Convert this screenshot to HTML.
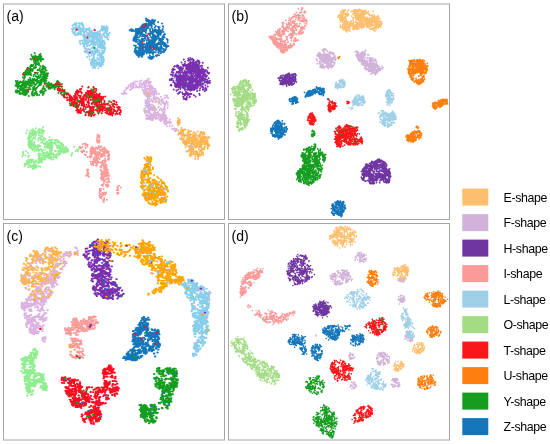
<!DOCTYPE html>
<html><head><meta charset="utf-8"><title>t-SNE</title>
<style>
html,body{margin:0;padding:0;background:#fff}
svg{display:block}
text{font-family:"Liberation Sans",sans-serif;fill:#111}
.lg text{font-size:12.4px;letter-spacing:-0.38px;fill:#000}
.lb text{font-size:14px;fill:#000}
.fr rect{fill:#fff;stroke:#a6a6a6;stroke-width:1}
</style></head><body>
<svg width="550" height="444" viewBox="0 0 550 444">
<rect width="550" height="444" fill="#fff"/>
<g class="fr">
<rect x="3.5" y="4" width="221" height="215.5"/>
<rect x="228.5" y="4" width="221" height="215.5"/>
<rect x="3.5" y="223.5" width="221" height="216.5"/>
<rect x="228.5" y="223.5" width="221" height="216.5"/>
</g>
<g transform="scale(0.1)" fill="none" stroke-linecap="round">
<g stroke-width="20">
<path stroke="#87ceeb" d="m764 303h0m-15-68h0m77 54h0m-63-35h0m-21 70h0m99 8h0m-27-88h0m-83 49h0m21-44h0m80 20h0m-49 74h0m35-114h0m15 31h0m-39-25h0m-35 118h0m-39-66h0m74 53h0m-17-58h0m-54 35h0m95-84h0m14 32h0m-11-37h0m-102 63h0m34 58h0m-23-47h0m58-3h0m8-31h0m-49 16h0m-13-8h0m38 5h0m56 10h0m-7-63h0m-15 51h0m2 34h0m-36 21h0m-46-50h0m83 62h0m-1-64h0m-46-44h0m67 10h0m-50 29h0m7-44h0m0 93h0m3-35h0m12-16h0m-30 3h0m-34-32h0m71-9h0m-21 104h0m-25-112h0m-3 59h0m68-34h0m-14-14h0m-78 96h0m102-12h0m-68-23h0m14-34h0m-47 26h0m11-50h0m56 57h0m-78-44h0m39-11h0m22 33h0m-3 71h0m2-24h0m-25 24h0m44-69h0m-42-37h0m80 41h0m-118 8h0m67-38h0m-36 18h0m28 75h0m-38-7h0m70-92h0m-62 68h0m46-42h0m28 37h0m-10-17h0m12-32h0m15 54h0m0 9h0m-41-1h0m-14-3h0m-41 7h0m325-55h0m-16 40h0m16-3h0m-28-6h0m26 29h0m-6-3h0m-5-17h0m17-35h0m-41 56h0m34 14h0m-53-86h0m29 41h0m3-23h0m33 69h0m-41 9h0m-17-51h0m13-21h0m22 84h0m7 5h0m30-44h0m-76-59h0m5 24h0m24 73h0m27-77h0m-41 3h0m3 52h0m13-37h0m37 45h0m-67-69h0m35-1h0m-38 2h0m54 93h0m-17-84h0m7-19h0m-34-10h0m32 55h0m-62-9h0m66-50h0m-22 9h0m8 55h0m23 57h0m-3-26h0m-26-51h0m41 88h0m-5-54h0m-45-57h0m-29 19h0m66 44h0m-47-1h0m19-44h0m17 6h0m-29-19h0m24 7h0m24 54h0m-38-85h0m2 22h0m30 88h0m-64 71h0m-42-91h0m-33-12h0m4 22h0m-17 65h0m74-36h0m-85-65h0m89 10h0m17 83h0m-85-82h0m-40 40h0m25 21h0m-23-74h0m-18 31h0m136 92h0m-118-91h0m93 28h0m-135-34h0m-51 58h0m7-106h0m127 142h0m64 13h0m-85-45h0m136 23h0m-123-3h0m-88-81h0m174 112h0m-64-123h0m-16 73h0m71 52h0m-87-53h0m88 11h0m-67 7h0m-104-31h0m107-16h0m-53-17h0m145 42h0m-90-115h0m-96 71h0m78 3h0m-77 22h0m114-56h0m-2 85h0m-63-94h0m5 81h0m118 27h0m-112-19h0m-44 14h0m26-68h0m-46-26h0m55-45h0m-92 9h0m156 113h0m59-14h0m14 84h0m-189-132h0m83 95h0m38 54h0m-62-132h0m10-14h0m-75 99h0m112 33h0m21 30h0m30-61h0m-71-128h0m-39-2h0m117 55h0m-11 63h0m-84 37h0m120-20h0m-93-29h0m-37-32h0m-13-31h0m150 112h0m-192-50h0m128-105h0m-24 100h0m-2 20h0m70 63h0m-49 1h0m-18-133h0m33 96h0m-14-20h0m-79-43h0m132 42h0m-38-106h0m26 83h0m-45 9h0m-75-128h0m7 93h0m-39-96h0m3 97h0m-54-90h0m83 105h0m96-24h0m-23-60h0m-34 83h0m85 33h0m-169-66h0m24-35h0m42-24h0m-25 50h0m69-9h0m-5 21h0m-54 69h0m96-122h0m-62 100h0m-18-1h0m-48-82h0m146 86h0m-160-35h0m93 24h0m-66-37h0m139 43h0m-43-56h0m74 105h0m-77-81h0m-37 4h0m30-61h0m75 136h0m-238-40h0m133 39h0m-23-116h0m66-12h0m-8 151h0m-52-135h0m-74 58h0m189-15h0m-227-86h0m200 153h0m-72-72h0m87 42h0m-98-38h0m37-16h0m-135 35h0m146-80h0m-21 152h0m13-127h0m52 0h0m-222 45h0m207 49h0m-3-67h0m-110-116h0m-13 81h0m39 76h0m-6 1h0m134 68h0m-81-169h0m-161 95h0m116-127h0m-45 23h0m61 32h0m17 17h0m-95-1h0m-9 28h0m8-110h0m94 159h0m-95-93h0m121-18h0m-58 61h0m-44-27h0m9 48h0m19-60h0m90 47h0m10-79h0m30 82h0m-201-112h0m207 105h0m-59-92h0m62 97h0m-106 31h0m52-67h0m-81-36h0m58 38h0m-41 3h0m102 98h0m-152-128h0m61 51h0m82 34h0m-72 52h0m16-118h0m-93-86h0m-10 68h0m47-16h0m64 55h0m-12-51h0m49 16h0m-149-48h0m-4 71h0m84-21h0m23-14h0m87 124h0m-219-35h0m151 68h0m-173-61h0m182 74h0m-79-111h0m138 18h0m-32-4h0m-31-16h0m-70-44h0m10 68h0m26-81h0m-67 107h0m-8-98h0m-2 38h0m103-68h0m-55 95h0m-108-92h0m130 1h0m-12 137h0m70-71h0m-15 119h0m-104-155h0m-20 76h0m94-64h0m-116 71h0m73-128h0m-22 34h0m48 88h0m-34-100h0m26 71h0m117 88h0m-69-120h0m-133-8h0m141 30h0m37 111h0m-143-98h0m-50-57h0m190 52h0m-8 33h0m-61-58h0m41 55h0m36-12h0m9 32h0m-159-65h0m59 35h0m-99-57h0m155-21h0m-35 138h0m-90-44h0m39-27h0m-28-81h0m70 18h0m62 133h0m-179-80h0m36 26h0m51-18h0m-33 43h0m0-156h0m141 148h0m-6-1h0m-80-53h0m-91-27h0m76-38h0m32-4h0m-10 51h0m15-31h0m-93 117h0m125-100h0m-148-5h0m-11 105h0m200 16h0m13 11h0m-13-68h0m-21 38h0m-6 9h0m20 49h0m-76 6h0m-118-148h0m96 51h0m-73 3h0m112 82h0m-20-55h0m-85-29h0m116 40h0m-19-77h0m-98-11h0m50-6h0m62 134h0m28-32h0m-32-78h0m-53-60h0m-44-44h0m-24 71h0m172 14h0m14 86h0m-181-46h0m107 99h0m61-50h0m-203-165h0m122-5h0m-117 55h0m43 70h0m71-12h0m105 33h0m-108-70h0m58-17h0m-148 88h0m88-97h0m-94 4h0m144 161h0m-62-109h0m-48-42h0m80-5h0m53 27h0m-17 65h0m2-64h0m-140-12h0m123 49h0m-81-54h0m149 135h0m-173-211h0m39 67h0m-49-63h0m-16 173h0m98-47h0m39 51h0m0 36h0m-43-210h0m-85-4h0m119 199h0m-77-143h0m-77 54h0m113 76h0m52-139h0m-96 13h0m-13 171h0m9-6h0m6 3h0m44-4h0m-49 27h0m40-37h0m-16 8h0m-47-5h0m32 54h0m-47-87h0m68 77h0m-43 14h0m31-75h0m-6 100h0m-34-77h0m-15-33h0m42 13h0m-22 11h0m49 28h0m-59-10h0m59-9h0m3 0h0m0 15h0m-70-22h0m-4 6h0m43-24h0m27 25h0m-50-14h0m-8-15h0m58 35h0m-57-36h0m150 63h0m-78 102h0m67-85h0m-86 51h0m40 18h0m40-3h0m16 28h0m-45-19h0m11-67h0m4-26h0m33-2h0m-27 94h0m17 6h0m-65-86h0m-26 75h0m21-18h0m15 48h0m11-148h0m71 92h0m9-22h0m-42-47h0m-47-8h0m53 120h0m-14-64h0m33-37h0m-37 85h0m35-67h0m-44-46h0m21 137h0m-50-117h0m84 83h0m-83-16h0m11-1h0m0-96h0m-2 88h0m-38 6h0m86 37h0m-5 6h0m-86 3h0m89 5h0m-49-52h0m88-5h0m-58-10h0m-13-79h0m25 37h0m-51 121h0m73-85h0m-67 56h0m-26-2h0m45-117h0m25 80h0m37-19h0m-109 5h0m17 40h0m59-97h0m26-9h0m-9 112h0m4-54h0m-5-11h0m10 2h0m2-5h0m14-40h0m-97 82h0m-3 16h0m-4 48h0m93-142h0m-14 72h0m21-76h0m-29 99h0m-66-33h0m44 89h0m30-46h0m-86-22h0m28-9h0m-29 73h0m76-33h0m-57-106h0m-9 1h0m38 50h0m-36 71h0m85-17h0m-111-19h0m29-52h0m48 52h0m-59-40h0m19 96h0m-7-105h0m68 3h0m18-52h0m-73-26h0m53 83h0m23-15h0m-66 89h0m50-41h0m16-82h0m3 89h0m-28 25h0m-39-17h0m-41 19h0m12-51h0m-13 38h0m56 7h0m54-125h0m-63 107h0m-63 6h0m93 15h0m25-26h0m-88 34h0m3-141h0m48 118h0m20 30h0m17-16h0m-72-116h0m22-10h0m-10 107h0m46-61h0m-65 100h0m21-51h0m-19-6h0m-34-1h0m79 18h0m16-98h0m-78 72h0"/>
<path stroke="#149d1f" d="m198 932h0m163-10h0m67-148h0m26 12h0m-1 118h0m-81-107h0m-84 162h0m53-287h0m72-106h0m-117 233h0m-2-63h0m-4-19h0m136-46h0m-92 145h0m-104 38h0m40 65h0m134-360h0m164 290h0m-235 103h0m-102-107h0m36 98h0m111-132h0m90-78h0m-82 80h0m133 54h0m-172-336h0m-36 168h0m-48 33h0m219 124h0m-227 20h0m6-155h0m61 230h0m198-105h0m-197 98h0m53-177h0m-72-78h0m200 198h0m-58-174h0m-110-144h0m-112 251h0m354-10h0m-319 5h0m-92 19h0m232-151h0m-79 147h0m112 47h0m-133-28h0m119-262h0m15 5h0m-227 266h0m106-33h0m-114 63h0m197-48h0m-71-181h0m-100 179h0m128 46h0m-102-126h0m154-14h0m-39 24h0m-119 75h0m213 63h0m-138 31h0m-88-128h0m38-81h0m165 63h0m-254 42h0m173 104h0m161-86h0m-99-156h0m-244 168h0m172 66h0m139-87h0m-277 97h0m28-135h0m140-105h0m-21 206h0m-28-111h0m-125 22h0m86-128h0m17 44h0m208 133h0m-247 63h0m163 21h0m-259-43h0m78-28h0m161-265h0m-63 257h0m103-71h0m8 2h0m-96 137h0m-135-3h0m104-21h0m-20-107h0m120-4h0m149 51h0m-225-187h0m237 157h0m-319-76h0m218 113h0m-20-78h0m-202 158h0m-21-175h0m100-22h0m37-99h0m-55 180h0m11-33h0m-16 126h0m-130 19h0m241-213h0m-106-144h0m-86 289h0m-20-43h0m55-127h0m266 177h0m-74-44h0m-112 57h0m-48-33h0m8-262h0m33 0h0m-112 285h0m293-10h0m-188-299h0m138 165h0m-81 98h0m33-88h0m-174 91h0m163-249h0m-140 153h0m272 129h0m-202-67h0m47-29h0m48 111h0m-107 71h0m-61-234h0m24 81h0m124-91h0m-84 80h0m98-105h0m-82-32h0m6-31h0m90 121h0m-114-158h0m226 264h0m-246-285h0m19 17h0m-1 305h0m112-72h0m-187 105h0m33-49h0m250-3h0m-250-151h0m95-78h0m202 220h0m-346-29h0m128-237h0m-115 339h0m78-350h0m-25-35h0m31 134h0m124 186h0m-45-74h0m-117-135h0m268 166h0m-231-196h0m-181 235h0m210-278h0m79 206h0m-203-19h0m-19 1h0m213 30h0m-156 48h0m-113 57h0m152-105h0m-95 138h0m66-195h0m131 36h0m-236 135h0m83-80h0m117 13h0m8-259h0m-140 155h0m185 22h0m87 86h0m-106-48h0m16-71h0m-106 28h0m25 47h0m-89-64h0m171-76h0m-116 27h0m172 153h0m-191-154h0m-40 219h0m72-80h0m-139 28h0m36 58h0m87 14h0m-112-61h0m276-21h0m1-11h0m-231-133h0m115 70h0m-16-167h0m63-20h0m-64 65h0m-124 261h0m73-327h0m33-12h0m-105 366h0m185-208h0m-90 211h0m4-297h0m-74 70h0m44-53h0m-145 252h0m67-89h0m-47 8h0m347 38h0m-130-172h0m-76 153h0m-140-2h0m159-45h0m98 50h0m-260-19h0m70-98h0m218 115h0m-277-9h0m325-13h0m-270-50h0m117-163h0m-1-53h0m-92 297h0m-57-48h0m20 67h0m304-14h0m-298 26h0m120-297h0m161 246h0m-172-21h0m-18-118h0m-138 132h0m142-14h0m-47-136h0m6 109h0m35 53h0m-39-56h0m171-50h0m-181 93h0m324 15h0m-211-259h0m-68 220h0m-139 58h0m201-307h0m-118 136h0m119-128h0m153 293h0m-181-275h0m-158 237h0m214 94h0m85-92h0m-333 18h0m127-32h0m-38 109h0m40-96h0m45-240h0m125 191h0m-136-75h0m-61 139h0m136 5h0m-101-146h0m81-116h0m-58 105h0m-23 85h0m111 128h0m-2-145h0m-50 131h0m238-43h0m-324-30h0m91-180h0m-14 87h0m79-29h0m-144-12h0m169 104h0m-5-19h0m-165-28h0m-6 5h0m-96 94h0m38 5h0m-30 63h0m42-2h0m157-148h0m198 108h0m-409-42h0m75-12h0m171 114h0m7-163h0m-132 35h0m271 16h0m-160 31h0m47-55h0m-203-71h0m154 89h0m-71-240h0m49 0h0m-44 26h0m29 131h0m-139 206h0m50-251h0m94 61h0m-134 203h0m179-238h0m-54-131h0m-53 175h0m-91 107h0m186 69h0m32-12h0m2-245h0m-163 252h0m54-230h0m22 108h0m-128 51h0m313-4h0m-175 73h0m-63-67h0m-4-164h0m28 13h0m149 56h0m-265 135h0m255-60h0m-211-109h0m106 74h0m-5 51h0m-132 62h0m-45-54h0m263 32h0m-150 0h0m-7-72h0m22-160h0m-9 78h0m119-7h0m-196 163h0m73-167h0m47 23h0m-165 63h0m254-93h0m-84-83h0m46 191h0m-88-128h0m-84 195h0m44-188h0m124-8h0m-150 34h0m168-69h0m-152 201h0m131-3h0m35-76h0m-238 128h0m-8 2h0m314-89h0m-130-224h0m48-61h0m-78 279h0m-122 83h0m97-183h0m-14 109h0m70-233h0m57 1h0m-124 221h0m96-191h0m57 131h0m-114 124h0m132-122h0m-124 136h0m79-311h0m-52 30h0m-108 198h0m-23 126h0m94 6h0m185-109h0m-135-28h0m-131-73h0m99 57h0m122 46h0m-220 62h0m182-242h0m55 211h0m-142-286h0m108 100h0m17 186h0m-164-146h0m57-122h0m78 160h0m57 91h0m-52-31h0m-40 18h0m-204-10h0m126-37h0m-47 54h0m255 18h0m-85-25h0m-126 117h0m-140-40h0m237-212h0m-260 202h0m211-264h0m139 234h0m-299-8h0m29-10h0m194-135h0m-148 97h0m161-22h0m-81 41h0m-72-126h0m168 42h0m-7-77h0m31 210h0m-142-307h0m105 193h0m-139-114h0m-79 79h0m42-51h0m-57 176h0m66-51h0m67-223h0m67 240h0m-192 54h0m177 35h0m51-229h0m-5 140h0m-139-127h0m80-51h0m66 151h0m-276 79h0m79-55h0m56-3h0m181 35h0m-285 30h0m31-48h0m285 28h0m-165-192h0m-82 163h0m175-143h0m-259 161h0m218-140h0m6-16h0m-46 240h0m121-60h0m-28-177h0m-191 123h0m93 121h0m-193-43h0m105-6h0m193-148h0m-261 109h0m51-8h0m146-279h0m188 256h0m-232-262h0m161 311h0m-172-323h0m48 275h0m-177 5h0m-18 35h0m-29-29h0m-13 12h0m269-169h0m-238 244h0m195-160h0m-90 81h0m-17-162h0m165 63h0m-278 177h0m89-211h0m-104 139h0m275-72h0m-254 68h0m8 20h0m69 81h0m84-7h0m91 5h0m-87-83h0m25-269h0m-116 312h0m4-78h0m228 18h0m-88-296h0m-63 12h0m-74 352h0m227-47h0m-111-260h0m177 243h0m-121 60h0m-64-35h0m121-4h0m-63 15h0m159-53h0m-321-110h0m71 153h0m15 56h0m6-339h0m203 250h0m-155-252h0m12 203h0m-115-79h0m113 74h0m-8-241h0m-1 277h0m-1-278h0m-32 23h0m10 69h0m-165 219h0m114-64h0m-79 135h0m-62-77h0m114-138h0m91-140h0m0 371h0m207-101h0m-389 8h0m-12 75h0m275-192h0m-308 85h0m242-62h0m-163 159h0m181-242h0m-218 252h0m352-97h0m-49 41h0m-113-324h0m-39 83h0m-105 95h0m47-43h0m-52 242h0m-14-77h0m229-43h0m-142 122h0m-77 7h0m62-92h0m-109 80h0m52-58h0m120-49h0m8-91h0m12 52h0m50 157h0m-204-196h0m320 134h0m-107-151h0m-10 61h0m29 70h0m131-7h0m-440-37h0m158-122h0m-11 204h0m8-244h0m99 54h0m-178 149h0m71-58h0m-130 121h0m137-208h0m71-103h0m-10 224h0m36-81h0m35-13h0m-213 102h0m119-38h0m-57-75h0m154-50h0m-177 20h0m75 106h0m-111 30h0m75 6h0m-146-4h0m238-28h0m-5 39h0m10-277h0m19 208h0m-32-221h0m-146 174h0m185 213h0m-154-201h0m-86 86h0m216-104h0m-38 55h0m-53 165h0m-134-84h0m100 23h0m126-56h0m-50-59h0m-179 90h0m82 52h0m74 48h0m101-269h0m-167 233h0m-5-23h0m43-79h0m222 41h0m-141-216h0m167 219h0m-212-15h0m-57-16h0m109-256h0m-55 24h0m77 313h0m-99 31h0m-115-74h0m204-148h0m-36 154h0m-82-169h0m125 112h0m-247 30h0m5-1h0m219-75h0m184 86h0m-267-121h0m79 88h0m94 39h0m-211-123h0m109-149h0m94 255h0m-145 56h0m42 52h0m-97-252h0m-29 197h0m64-215h0m-44 42h0m121-150h0m52 242h0m-99-205h0m-20 331h0m146-163h0m-7-9h0m-158-38h0m342 207h0m-31-13h0m30 5h0m-48-23h0m27-67h0m2 109h0m-25-48h0m-44-30h0m42 39h0m27-20h0m-59-24h0m19 29h0m76 29h0m-53-63h0m12 5h0m-34 62h0m-64-72h0m108 41h0m13 10h0m-94-15h0"/>
<path stroke="#fc0c1e" d="m605 846h0m-21-1h0m150 176h0m-147-135h0m0-13h0m130 129h0m-117-111h0m138 168h0m-69-111h0m-79-51h0m106 77h0m22 46h0m-5-34h0m41 74h0m-105-85h0m16-36h0m-84-42h0m64 2h0m74 127h0m-89-115h0m90 136h0m-82-86h0m71 95h0m-64-90h0m-10-9h0m64 54h0m-89-108h0m-14 9h0m138 148h0m-151-189h0m27 66h0m86 57h0m-22-20h0m45 58h0m-152-196h0m135 161h0m-102-99h0m18-32h0m88 126h0m30 65h0m-96-106h0m106 79h0m-49-34h0m31 49h0m-56-43h0m29-5h0m41 45h0m-119-137h0m75 47h0m-119-51h0m163 113h0m-17-30h0m-18-18h0m-25 32h0m52 43h0m6 11h0m-25-10h0m-171-194h0m215 188h0m-33-53h0m-61-6h0m-89-145h0m62 131h0m71 1h0m-62-24h0m-4 23h0m-4 6h0m76 2h0m-79-12h0m80 69h0m-41-95h0m50 66h0m2 31h0m-35-75h0m-48-41h0m41 24h0m-110-49h0m160 160h0m-33 0h0m102-87h0m122-59h0m27 65h0m-108-4h0m117-75h0m-149-2h0m74-18h0m132 115h0m-264-2h0m253-14h0m-94-15h0m69-5h0m-223 29h0m35-62h0m-36 3h0m46 53h0m132-53h0m-34 50h0m36-75h0m-26 22h0m-145 20h0m223 18h0m-6 13h0m-214 9h0m282-10h0m-32 9h0m7 16h0m-274-42h0m187 6h0m-35-2h0m86 23h0m-193-83h0m180 68h0m5 0h0m-226-3h0m9 24h0m20-58h0m246 44h0m-12 18h0m-204-50h0m144-27h0m-37 28h0m19-40h0m-199 76h0m33-27h0m-28 22h0m101-13h0m128 8h0m-162-37h0m87 8h0m-95-17h0m82 42h0m-111-45h0m44-47h0m175 99h0m0-27h0m-227-35h0m73 46h0m-11 17h0m-30-71h0m141-11h0m-163 27h0m-13 14h0m232 39h0m-63 0h0m-140 14h0m115-32h0m-153 22h0m102-38h0m157 53h0m-234-25h0m185 11h0m-29-20h0m49 30h0m-237-41h0m-11 22h0m190-4h0m-19-42h0m31 36h0m-184 16h0m16-28h0m26 32h0m140-42h0m12 21h0m65 23h0m-33 0h0m16 3h0m-79-27h0m-123 10h0m-28-25h0m-2-19h0m113-40h0m74 105h0m-149-18h0m223 22h0m-78-18h0m-211 28h0m194-124h0m-19 169h0m45-10h0m-58 66h0m115-35h0m-189-46h0m119-43h0m-164 98h0m74-69h0m-70 19h0m50 2h0m4 26h0m-73 3h0m190 49h0m-62-153h0m-140 82h0m164 2h0m-166 40h0m235 25h0m53-86h0m-49 79h0m-72 37h0m58-144h0m-148 64h0m-9-4h0m-40 57h0m108-156h0m28-18h0m-12 201h0m-49-193h0m101 93h0m-152 59h0m-9-56h0m161-34h0m-44-51h0m0 2h0m91 120h0m-143-88h0m2 71h0m43-121h0m2 14h0m9 23h0m-142 140h0m197-56h0m-26-39h0m-45-68h0m80 131h0m-62-132h0m60 110h0m-120-59h0m23 27h0m82-15h0m-75-92h0m119 191h0m-193-88h0m120 13h0m-55-117h0m95 47h0m-3 152h0m21-95h0m-93 86h0m33 24h0m-92-64h0m106-137h0m-66 137h0m-87 58h0m102-165h0m-62 45h0m210 71h0m-62-90h0m54 100h0m-119 29h0m41-8h0m-96-135h0m-84 139h0m-29-38h0m57-61h0m131 152h0m-182-118h0m134 19h0m47-79h0m-36 159h0m7-161h0m-92 30h0m21 89h0m145-87h0m-47 69h0m-8 46h0m-7-166h0m-25 121h0m14-1h0m85-3h0m-43-41h0m-43 113h0m-14-203h0m29 9h0m-160 76h0m35-16h0m87-73h0m85 19h0m-131 35h0m43-35h0m31 204h0m-21-207h0m38 175h0m-165-98h0m-17-23h0m79 92h0m68-180h0m-8 102h0m61-15h0m70 71h0m7-18h0m-127-107h0m78 62h0m21 32h0m18-54h0m-117 129h0m-88-134h0m53-47h0m179 102h0m-107-52h0m-46-33h0m-12-50h0m92 102h0m-73 104h0m139-41h0m-73-14h0m-139-11h0m101-11h0m-89-22h0m117 5h0m34-9h0m-104 110h0m-78-98h0m84 126h0m-21-208h0m19 214h0m-54-162h0m145 90h0m-213-33h0m43-32h0m196-47h0m13 91h0m-143-43h0m8 107h0m115-143h0m-113 130h0m98 10h0m-8-10h0m-185-62h0m2-4h0m124 79h0m68-102h0m-139 40h0m74-150h0m-32 210h0m-110 0h0m110-121h0m17-97h0m7 163h0m61-70h0m-201 49h0m159 16h0m-121-38h0m169 89h0m-61-197h0m-9 204h0m78-115h0m12 57h0m-218-51h0m34 7h0m212 25h0m-217 84h0m161-121h0m-157 97h0m86-39h0m-128-32h0m221 36h0m-109-160h0m44 84h0m27 9h0m-121 50h0m-69 51h0m170-31h0m-22 77h0m-87-125h0m-66-25h0m20 95h0m132-19h0m-103-73h0m71-69h0m45 180h0m7-22h0m-159 12h0m247 28h0m-163 20h0m22-194h0m36-24h0m-169 103h0m41 20h0m65-104h0m128 110h0m-66-143h0m-64 29h0m-7 163h0m29-147h0m16 73h0m82-61h0m-105-43h0m43 189h0m-156-61h0m245 13h0m-222 14h0m15 9h0m87-143h0m200 89h0m-58-5h0m-34-50h0m-97 8h0m-102 101h0m213 9h0m-167-90h0m183 45h0m-7 29h0m-140 28h0m104-103h0m-95 52h0m-5-144h0m71 96h0m-24 18h0m-6 61h0m37 46h0m96-102h0m-29-44h0m-70-14h0m18-39h0m7 105h0m-83-104h0m0-8h0m-96 81h0m241 22h0m-149-10h0m126 65h0m-17-117h0m-229 84h0m-1 7h0m169-2h0m-56-162h0m115 154h0m-192-37h0m-15 102h0m124-211h0m88 81h0m-72-25h0m-101 37h0m-48-16h0m244 108h0m-105-146h0m27 147h0m-32-103h0m86 55h0m-188 37h0m191 1h0m-112-163h0m74 62h0m25 143h0m-91-216h0m83 90h0m-30-56h0m84 142h0m-254-35h0m103-139h0m-64 134h0m-42 3h0m127-79h0m107 29h0m-62 7h0m-62-34h0m113 116h0m-158-60h0m85-92h0m-2 180h0m-162-82h0m266 70h0m-44-115h0m-183 130h0m112-218h0m-14 30h0m55 107h0m-176 17h0m58-51h0m25 131h0m78 12h0m-172-102h0m183-9h0m-8-74h0m-104 117h0m132-53h0m-18-11h0m-47 105h0m-123-7h0m29 0h0m-26-104h0m64-24h0m172 97h0m-53-156h0m24 126h0m31-18h0m-41-55h0m-105-20h0m28 185h0m-83-109h0m38 28h0m65 72h0m-41-128h0m23 85h0m62-36h0m45-44h0m-105-100h0m53 85h0m-182 113h0m193-118h0m-143-5h0m224 54h0m-58-21h0m62 15h0m-122-25h0m-164 65h0m158 26h0m-33-152h0m-5 163h0m98-95h0m-67 58h0m-30 30h0m153-80h0m-172-109h0m-38 97h0m132-11h0m-128 57h0m161 51h0m-15-118h0m-93 139h0m-134-112h0m2-28h0m46 6h0m33-21h0m242 64h0m-124-54h0m41-21h0m-36 45h0m-70 12h0m-65-48h0m184 95h0m-9-90h0m0 60h0m-123-82h0m102 48h0m-77 123h0m143-119h0m-130-61h0m72-1h0m-67 6h0m-128 145h0m409-8h0m-147 27h0m77-63h0m0-13h0m-16 87h0m-35 2h0m21-23h0m7-38h0m61-30h0m-65 101h0m22-105h0m-59 90h0m64-13h0m9-10h0m3-41h0m-5 29h0m27-76h0m-97 83h0m31 6h0m78 29h0m-36-106h0m1 62h0m-7 36h0m-37-41h0m14 46h0m74-70h0m-63 87h0m36-110h0m-37 0h0m-36 58h0m-19 4h0m85 3h0m56-1h0m-111 23h0m0-77h0m67 77h0m-32-86h0m-59-7h0m96 76h0m-34-21h0m-55-58h0m4 69h0m-8 25h0m42-46h0m-2 20h0m-5 0h0m-21 41h0m82-71h0m23 56h0m-83 0h0m-58-43h0m-6 17h0m19 4h0m28-20h0m38-80h0m44 96h0m17-9h0m-82 47h0m67-39h0m-96-12h0m-16 0h0m27-75h0m42 29h0m73 75h0m-137-4h0m129 30h0m-134-59h0m46-63h0m86 53h0m-92-8h0m5 58h0m43 20h0m27-60h0m-56 49h0m74-11h0m-90-3h0m35-109h0m-54 69h0m52-42h0m-35 77h0"/>
<path stroke="#1476ba" d="m1548 523h0m-171-128h0m170-98h0m-2-79h0m-103 221h0m27-166h0m105 76h0m-47-118h0m-43 14h0m151 74h0m-54-97h0m-155 32h0m-46 257h0m209-188h0m31 72h0m-156 69h0m156 17h0m-80-25h0m-103-96h0m60 148h0m44-27h0m-175-162h0m29 131h0m20-6h0m7 25h0m13-227h0m38 117h0m22 150h0m-127-169h0m-10 118h0m254 33h0m-255-171h0m-10 69h0m231-26h0m61 141h0m-293-122h0m302 126h0m-163-57h0m5-49h0m25 47h0m-106 104h0m-8-194h0m119 144h0m34-51h0m-4-249h0m-19 294h0m17-221h0m21 208h0m-159 49h0m-34-163h0m115 67h0m75 62h0m-185-153h0m270 158h0m-133 3h0m-133-216h0m241 123h0m-9 18h0m-250 115h0m125-332h0m-82 98h0m26 186h0m195-107h0m-168-193h0m26 329h0m35-107h0m-144 133h0m130-94h0m-133-133h0m91 208h0m-16-225h0m100 48h0m-92-49h0m-54 200h0m52-26h0m175 13h0m-143-283h0m-30 266h0m156-57h0m-108 44h0m-87-101h0m80 218h0m14-361h0m-193 78h0m138 165h0m-56-126h0m111 106h0m69-145h0m-25-3h0m-203 221h0m61-247h0m31 79h0m-59 221h0m91-88h0m13-9h0m-108-137h0m135 138h0m156-78h0m-189-152h0m64 236h0m-57 103h0m-93-226h0m-7 182h0m98-83h0m4 22h0m57-118h0m-27 74h0m105-9h0m-242 114h0m69-263h0m-28 270h0m172-120h0m-7-110h0m-170-61h0m173 185h0m-70 126h0m-33-339h0m-62 123h0m54 165h0m-86-51h0m21 65h0m-19-211h0m70 161h0m-108 58h0m56-265h0m108 87h0m-54 88h0m153-185h0m-85-21h0m-53 14h0m-176 37h0m115-31h0m185 139h0m-162 48h0m35 4h0m-109-138h0m38-20h0m136 93h0m-129-116h0m34 116h0m73 54h0m-59 10h0m-112-35h0m46 112h0m63-272h0m7 111h0m-91-53h0m134 154h0m82 17h0m-150-247h0m70 337h0m9-269h0m84 18h0m-123 123h0m-176-148h0m307 84h0m-6 49h0m-116-81h0m-9-116h0m-30 210h0m48-211h0m-41 232h0m156-27h0m-87 23h0m-153 51h0m112-286h0m-36 102h0m145-1h0m-221-17h0m189 73h0m-159 106h0m83-92h0m0 21h0m-126 101h0m51 47h0m97-103h0m-184-59h0m342 19h0m-242 119h0m-39-212h0m60 29h0m31 20h0m-15 147h0m-168-229h0m186 167h0m53-149h0m-148-25h0m96 227h0m-8-238h0m2 291h0m16-264h0m48 66h0m102-32h0m-133 228h0m-96-284h0m36-32h0m37 184h0m-101-143h0m166 10h0m75 188h0m-171-232h0m-25 254h0m-35-196h0m237 129h0m-259-11h0m192 114h0m-191-212h0m231 91h0m-100 153h0m-173-186h0m192 166h0m-211-264h0m247 171h0m-233-74h0m62-89h0m163 182h0m-61-17h0m11-102h0m117-79h0m-120 276h0m-146-51h0m133-175h0m-48 135h0m58-150h0m5 124h0m107-48h0m-178-92h0m67 104h0m-85-131h0m69 199h0m-123-162h0m134 122h0m-128-73h0m-22 153h0m125-23h0m114-57h0m67 0h0m-310-77h0m258-29h0m-200 206h0m127 0h0m3-314h0m-179 261h0m118-209h0m-44 241h0m71-60h0m-57-53h0m72 13h0m-91-102h0m183 93h0m-36-79h0m-213 200h0m214-79h0m-117-93h0m-29-110h0m210 99h0m-59-47h0m-141-27h0m-26 224h0m31-112h0m-88-73h0m18 201h0m212 4h0m-141-46h0m-21-108h0m157 119h0m-35-85h0m-128-137h0m-72 139h0m28 16h0m20 110h0m19-115h0m57-150h0m104 195h0m-167-175h0m117 43h0m-164 18h0m48 196h0m180-212h0m-50 87h0m-218-106h0m227 140h0m-174-86h0m166 109h0m-105 30h0m132-55h0m-90-237h0m-71 303h0m206-112h0m-257 100h0m138-78h0m21-6h0m-30-19h0m-59 105h0m94-71h0m-14-178h0m27 122h0m-183 20h0m181-177h0m47 123h0m-217 186h0m163-306h0m-152 92h0m121 211h0m29-254h0m92 118h0m-141-113h0m50 156h0m66-86h0m-178 207h0m-24-114h0m135-119h0m-155 64h0m31 19h0m-32-70h0m235-60h0m-113 156h0m44 23h0m80-126h0m-2 22h0m-15 38h0m-232 95h0m74-39h0m-65-90h0m61-58h0m-25 35h0m-67 54h0m219 91h0m83 15h0m-110-143h0m140 123h0m-212-196h0m-99 196h0m301-3h0m-156-41h0m-4-180h0m-70 1h0m75 200h0m-82-11h0m49-1h0m154 0h0m-266-55h0m86 94h0m34-223h0m-73 255h0m63 20h0m52-310h0m64 275h0m-196 75h0m155-91h0m-123-15h0m1-54h0m90-164h0m2 88h0m114 93h0m-39-134h0m-171 278h0m114-328h0m-23 229h0m-35-19h0m-70 7h0m152 20h0m-89-206h0m136 201h0m-15 40h0m50 12h0m-79-261h0m-44 149h0m-8 69h0m-181-173h0m108 210h0m176-175h0m-20 47h0m-108 106h0m40-111h0m125-8h0m-295 1h0m150 41h0m-106-93h0m14 8h0m120-3h0m69 168h0m-60-35h0m124 14h0m-91 15h0m-10-30h0m-253-156h0m88 226h0m86-55h0m-117-141h0m24-47h0m53-22h0m21-15h0m10 116h0m-33 165h0m43-57h0m44 105h0m0-379h0m72 309h0m-129-41h0m-14-146h0m129 101h0m-130 88h0m192-171h0m-238 200h0m-8-67h0m-6-14h0m46 61h0m95-76h0m-3-125h0m-34 234h0m30-106h0m-72 46h0m-121-187h0m218 190h0m130-38h0m-216 10h0m45 12h0m-133 68h0m136-277h0m-46 220h0m-79 59h0m60-313h0m46 283h0m81-198h0m-149 211h0m-62-8h0m1-189h0m173 34h0m-2 56h0m46 54h0m-258-171h0m116 44h0m51 112h0m-181-165h0m185 195h0m33-288h0m15 221h0m-183-26h0m25 145h0m232-313h0m-151 192h0m156-47h0m-74 2h0m-56-170h0m-8 234h0m-72 27h0m27-123h0m37 35h0m-122-87h0m15 54h0m234 155h0m-155 5h0m-62-138h0m71-111h0m73 179h0m-133-8h0m150-136h0m-157 247h0m81-97h0m-102 82h0m-19-157h0m110 97h0m29 3h0m124-153h0m-90 212h0m7-11h0m-44-297h0m-138 265h0m317-98h0m-55 129h0m-194-25h0m26-139h0m169 112h0m-214-177h0m24-11h0m99-82h0m-58 39h0m-80 103h0m38 182h0m-60-19h0m107-40h0m127-155h0m-84 102h0m-78 115h0m160-85h0m15-30h0m-19-94h0m-169 248h0m67-338h0m96 45h0m-159 221h0m91-237h0m-155 273h0m168-310h0m-116 179h0m118-171h0m-156 75h0m87-1h0m23-101h0m-82 268h0m127 107h0m-21-355h0m-68 71h0m51 154h0m-105 59h0m-72-196h0m77 236h0m117-105h0m-159-49h0m128 46h0m-59-47h0m77 145h0m112 0h0m-21-206h0m-165-10h0m96 102h0m-106 109h0m2-188h0m97-22h0m-94-17h0m205 124h0m-159-130h0m152 13h0m-19 187h0m14-41h0m66-49h0m-76 84h0m35-121h0m-169-115h0m38 92h0m-93 77h0m207-34h0m-310-89h0m43 62h0m54-88h0m148 106h0m-34 64h0m-60-258h0m30 389h0m-61-232h0m101 17h0m55-4h0m-141-80h0m94 214h0m-16-76h0m41-87h0m16 114h0m-19-41h0m72-131h0m-222 268h0m2 21h0m109-351h0m0 250h0m-143 82h0m46-192h0m200 21h0m-179-106h0m58-45h0m57 339h0m16-77h0m-196-153h0m-5 150h0m-3 71h0m227-119h0m-52-39h0m-181 152h0m163-238h0m-138 6h0m158 153h0m-49 17h0m103-152h0m-266 78h0m279 13h0m-251 106h0m151-61h0m-191-164h0m255-30h0m-88-62h0m-153 184h0m243 102h0m-108-7h0m54-90h0m71-96h0m-220 236h0m186-143h0m21-29h0m-9 107h0m4-167h0m65 128h0m-201-133h0m68 148h0m-20-1h0m-14 72h0m86 45h0m81-58h0m-29-85h0m-194 84h0m140-133h0m-10-61h0m-38-100h0m12 19h0m-127 255h0m94-7h0m-81 78h0m51-357h0m-91 137h0m131 141h0m40-98h0m19 110h0m-183-183h0m-12 11h0m71 227h0m161-100h0m13-41h0m-151-195h0m130 200h0m-157-11h0m-94 59h0m67 39h0m130 75h0m-13-277h0m-20 207h0m-58 24h0m7-216h0m106 62h0m-176 165h0m116-241h0m32 123h0m-235-112h0m104-24h0m87 130h0m-72 7h0m134 65h0m-128-206h0m72 310h0m24-58h0m-147-215h0m229 185h0m-64-143h0m90-57h0m-105 148h0m-136 90h0m7-118h0m213 54h0m-186-207h0m230 239h0m-100-11h0m-155-160h0m132 86h0m-17-168h0m140 201h0m-302-56h0m45-80h0m80-119h0m45 17h0m-112 230h0m220 75h0m-86-170h0m-91 3h0m39 67h0m-123-38h0m180 2h0m96 50h0m-130 16h0m5-48h0m-178-92h0m321 185h0m-228 31h0m117-76h0m42 82h0m-217-15h0m158-90h0m60 127h0m-226-172h0m65 117h0m-83 19h0m227-76h0m-101 52h0m-114-202h0m151 229h0m-2-44h0m-86 69h0m191-54h0m-107-83h0m-41 49h0m94 67h0m-173-191h0m165 88h0m-151 116h0m138-139h0m5-84h0m-156 196h0m64-135h0m147-31h0m-41 124h0m-6-82h0m42-70h0m-229 222h0m-4-200h0m35 85h0m208-91h0m-118-61h0m-30 190h0m-60-135h0m27 153h0m108-77h0m-181 8h0m263 63h0m-237-182h0m61-40h0m192 178h0m-224 83h0m144-100h0m89-53h0m-213-2h0m57 84h0m40 60h0m-18-210h0m-17-54h0m92 72h0m-176 229h0m267-84h0m-102-13h0m-104-82h0m176 99h0m-126 132h0m-87-78h0m228-48h0m-82-147h0m-193-24h0m91-80h0m81 90h0m-124 184h0m119-281h0m-102 43h0m-73 285h0m68-182h0m176-36h0m-129-77h0m-60 105h0m-13 76h0m113 165h0m-138-102h0m30-164h0m-39 18h0m207 38h0m-66 70h0m44-71h0m-96 33h0m-106-110h0m95 207h0m89-151h0m32 90h0m-149-127h0m-26 181h0m16-85h0m2-10h0m188 104h0m-131-48h0m34-209h0m-48 256h0m-58-38h0m26-8h0m169-71h0"/>
<path stroke="#7a2eb0" d="m1883 874h0m151-133h0m-64 144h0m-87-5h0m-30-49h0m107-159h0m-91 180h0m-3 38h0m10-222h0m-89 143h0m91 49h0m-23-1h0m161-69h0m-101 80h0m100-138h0m-131-69h0m-65 94h0m76 106h0m-42-46h0m103-34h0m-95 36h0m114 3h0m-9-31h0m2 14h0m-40-108h0m-10-3h0m-8 79h0m-131-18h0m95-88h0m112 15h0m-185 118h0m108-8h0m9-97h0m-12 61h0m62-34h0m-139 92h0m10-76h0m-31-48h0m-28 83h0m143 102h0m41-77h0m-159-117h0m105-17h0m-76 140h0m176 41h0m-112-36h0m-137-62h0m140 159h0m-4-243h0m-17 35h0m-14 139h0m-28-63h0m64 83h0m-4-204h0m48 175h0m72-14h0m-117-149h0m20 123h0m31-128h0m-5 66h0m-107 133h0m60-42h0m-44-162h0m-78 129h0m120-131h0m-11 23h0m-88 103h0m3 34h0m145-108h0m25 10h0m-18-50h0m-143 136h0m-4 45h0m179-135h0m-194 130h0m65-100h0m45 13h0m20-84h0m-37 85h0m3 30h0m-124 2h0m129 25h0m-49 12h0m-47 15h0m127 0h0m80 7h0m-76-193h0m-20 10h0m25-5h0m-122 106h0m-34 29h0m95 78h0m-50-157h0m-39 68h0m160 101h0m-42-55h0m80-66h0m-10 74h0m-35-173h0m-59 234h0m25-221h0m65 35h0m-17 155h0m-104-31h0m80 22h0m91-153h0m-129 188h0m33-85h0m8 17h0m-41-29h0m-103 10h0m4-83h0m125-54h0m-55 117h0m2-59h0m-29 31h0m-50 19h0m151 71h0m99-138h0m-109 85h0m-44-68h0m-54 49h0m86 52h0m70-108h0m-144 72h0m93 54h0m-85-117h0m126 79h0m-86-14h0m-69-26h0m99 104h0m74-210h0m-89 144h0m55-96h0m-26 145h0m-152-17h0m124-43h0m-40-72h0m72 18h0m-116 18h0m-41 7h0m179-116h0m1 225h0m-146-92h0m-4-57h0m38-17h0m140 2h0m-204 51h0m186 119h0m-16-24h0m-50-215h0m-29 160h0m-79 62h0m144-36h0m51-82h0m-119 118h0m7 21h0m-17-134h0m69 11h0m13-82h0m-25 148h0m-17-166h0m-54 139h0m-92-23h0m191-130h0m37 216h0m-17-214h0m-81 162h0m-20-134h0m-33 10h0m173 39h0m-13 118h0m-134-84h0m108 61h0m-63 6h0m45-68h0m-72 43h0m45-24h0m7-93h0m-36 2h0m101 88h0m-169 20h0m-30 69h0m143-170h0m-12 143h0m41-10h0m-2-114h0m76 70h0m-77-114h0m-159 184h0m134-176h0m-34 226h0m-108-96h0m149 26h0m-91-189h0m30 38h0m81 26h0m50 15h0m-6-25h0m-8 104h0m-102 97h0m29-80h0m-22-23h0m-29 28h0m54-180h0m40 25h0m-145 106h0m70-117h0m125 110h0m-201-69h0m96-14h0m8-5h0m89 101h0m-127-138h0m-122 107h0m100-36h0m-2 115h0m-34-104h0m-49 115h0m198 39h0m-189-96h0m104-126h0m-29 126h0m82 91h0m-20-205h0m100 47h0m-80 107h0m17-77h0m-89 138h0m63-221h0m-122 14h0m106 149h0m8-92h0m96-31h0m4 52h0m-92 140h0m-144-125h0m167 90h0m-154-44h0m-18-49h0m75 42h0m53-42h0m-78-100h0m54 21h0m143 53h0m-121-74h0m-46 215h0m78-19h0m-82-135h0m-12 169h0m77-28h0m5-134h0m-44 140h0m56-7h0m-131-112h0m-41-33h0m100 140h0m104-55h0m-162-17h0m92-111h0m87 5h0m-66 211h0m46-120h0m-159 30h0m-37-21h0m103-68h0m123 19h0m34 20h0m-257 75h0m-20-91h0m10 21h0m105 115h0m-14-60h0m70-17h0m-28-50h0m124 54h0m-114 80h0m108-67h0m-46-73h0m-63 24h0m-43 54h0m-78-105h0m0 85h0m62 55h0m44-2h0m-72-34h0m37-96h0m92-13h0m-42-30h0m-77 49h0m85 171h0m6-219h0m-11 135h0m10 80h0m-40-131h0m-83 89h0m164-152h0m-71 119h0m56-114h0m1 82h0m-167 26h0m216-91h0m-180 83h0m-43 35h0m86-37h0m43-118h0m-79 119h0m192-14h0m-62-63h0m33 13h0m-92 102h0m17-173h0m78 25h0m-81 182h0m-69-90h0m-39 14h0m118 39h0m-123 24h0m241-67h0m-219-24h0m124 50h0m7-19h0m-44-155h0m15 162h0m-132 11h0m69 41h0m-8 21h0m86-76h0m16-160h0m-142 49h0m140-22h0m-128 178h0m150-45h0m-18-64h0m-149 37h0m173-49h0m-49 41h0m-24-124h0m-103 95h0m219-23h0m-197 125h0m93-194h0m101 138h0m-94-91h0m27 109h0m64-109h0m-122-66h0m17 199h0m6-13h0m18-128h0m-131 85h0m172-116h0m6 6h0m-83 41h0m-130 68h0m144-120h0m29 198h0m-26-14h0m-8-20h0m53 38h0m-184-38h0m96 53h0m-5-158h0m112 36h0m-76 147h0m-109-87h0m110 61h0m16-214h0m-54-8h0m-37 157h0m132 33h0m-96 31h0m-36-64h0m157-107h0m-177-14h0m130-34h0m-119 187h0m156-186h0m55 93h0m-203 58h0m-59-10h0m-4-64h0m178-8h0m-8 118h0m-121-42h0m107 35h0m-20-194h0m-23 169h0m45-125h0m20 196h0m-3-52h0m-83-172h0m-86 173h0m66-164h0m130 55h0m-197-3h0m-4 87h0m104-113h0m62-29h0m-62 129h0m118-83h0m-72 60h0m-21 105h0m3-76h0m-37 10h0m175-75h0m-236 95h0m10-35h0m224 32h0m-232-23h0m-5 12h0m148-101h0m-155 5h0m78 23h0m19 63h0m37 20h0m-115-134h0m197 50h0m-197-49h0m81-1h0m12-14h0m108 141h0m-126-157h0m-52 134h0m-35-86h0m59 148h0m-30-99h0m-36 37h0m189-78h0m-213 35h0m163 115h0m-89-2h0m175-154h0m-92 151h0m62-137h0m-82 169h0m-137-126h0m195 48h0m-165-13h0m50-160h0m48 88h0m143 57h0m-11 50h0m-199-27h0m138 14h0m-211-51h0m229-109h0m-53 6h0m-101 96h0m-69-12h0m167 31h0m-13-115h0m-4 63h0m-118 36h0m100-109h0m-59 92h0m63 25h0m54-111h0m-38 79h0m-48-27h0m-36 103h0m37-91h0m-69 68h0m109-151h0m-6 245h0m118-186h0m-265 54h0m126-84h0m29 186h0m-15-144h0m5 133h0m16-174h0m85 46h0m-41 128h0m-63-104h0m48-47h0m-83 37h0m74 112h0m-42-200h0m18 23h0m0 2h0m98 97h0m-80 112h0m-77-115h0m99 85h0m-74-45h0m-78-49h0m131 112h0m-24-216h0m55 129h0m-61-103h0m-12 149h0m20-155h0m108 49h0m-99-19h0m-139 72h0m207-54h0m-181 125h0m-4 18h0m100-102h0m-57 122h0m128-138h0m-196 19h0m153 51h0m-95-17h0m21-23h0m26 90h0m26-192h0m-102 67h0m18 111h0m122-208h0m31 187h0m-13-106h0m5 159h0m25-107h0m-32 70h0m-13 1h0m-183-41h0m67-54h0m52 122h0m-11-229h0m-33 187h0m4 15h0m120-49h0m-29-156h0m29 31h0m38 76h0m-157-102h0m-18 137h0m207-59h0m-265 40h0m74-7h0m-14 10h0m26-54h0m-61 121h0m201-104h0m-199-54h0m115 225h0m-14-215h0m3 119h0m-120-26h0m98 89h0m19-67h0m130 10h0m-111 52h0m-144-131h0m124 140h0m-62-2h0m141-168h0m-46-63h0m19 68h0m-103 60h0m22-11h0m158 32h0m-96 65h0m107-145h0m-249 25h0m-21 10h0m27 108h0m11-67h0m29-55h0m21 5h0m-47-66h0m58 45h0m96-27h0m-14 97h0m-77-27h0m-30 182h0m123-257h0m-243 36h0m195 109h0m96-24h0m-139-114h0m114 135h0m-110-29h0m155 101h0m-55-76h0m-176-130h0m209 20h0m-53 137h0m59-192h0m26 44h0m-315 45h0m89 15h0m-101 95h0m250-97h0m-108 28h0m-61 137h0m-23-128h0m253-139h0m-21 172h0m-52-173h0m-63 61h0m46 128h0m131 46h0m35-83h0m-73-38h0m-139 178h0m-20-26h0m109-316h0m42 86h0m-318 103h0m285 10h0m-171 50h0m155-8h0m-88-243h0m-36 282h0m71-77h0m-115 112h0m227-293h0m-69 221h0m57-170h0m-318 122h0m263 43h0m114-30h0m-180 129h0m-49-301h0m-115 43h0m105 154h0m15-222h0m132 99h0m76 53h0m-191 117h0m44-86h0m-132 137h0m252-65h0m-268 0h0m-16-45h0m229-179h0m-63 83h0m78 69h0m-93-157h0m158 174h0m-162 57h0m76-212h0m-79 126h0m-4 65h0m-57 24h0m253-52h0m-332 23h0m42 75h0m11-146h0m152-157h0m-125 28h0m-98 47h0m147 68h0m-78 114h0m163-169h0m-220 57h0m254-101h0m-38-38h0m24 148h0m-232 74h0m142-147h0m43-99h0m98 197h0m-88-170h0m48-3h0m-263 197h0m309-100h0m49 7h0m-240 136h0m147-124h0m78 124h0m-53-97h0m-141-12h0m149 19h0m-30 0h0m-149 162h0m51-317h0m-22 213h0m147 62h0m-116-298h0m88 176h0m-24 100h0m-122-29h0m119-191h0m-9-21h0m-106 302h0m193-171h0m-246-67h0m182-90h0m-267 144h0m28 86h0m189 14h0m-23 90h0m-14-301h0m72 34h0m-40 139h0m89-124h0m-185 73h0m-8 7h0m112-58h0m3 123h0m-140 55h0m229-89h0m-61 36h0m64-39h0m-310-40h0m257-86h0m-229 109h0m129-172h0m121 169h0m-278 10h0m52-132h0m9 155h0m249 14h0m-260 35h0m62-63h0m-65-144h0m0 88h0m130 72h0m28-197h0m-34 51h0m102 92h0m-218 65h0m68-182h0m78-3h0m-6 246h0m-191-179h0m350 117h0m-244-26h0m-52-137h0m245 29h0m49 128h0m-138-14h0m-210-53h0m210-118h0m57 318h0m-75-146h0m90-28h0m-39-166h0m-226 85h0m248 100h0m-130-58h0m214-58h0m-174 259h0m96-55h0m-74-227h0m76 65h0m-62 89h0m32-127h0m-55 140h0m62-60h0m-146-104h0m265 173h0m-71-75h0m-27 35h0m58-90h0m-276 193h0m173-43h0m-16-49h0m-172-141h0m279 149h0m-68-54h0m-217 87h0m272-36h0m-137-178h0m-20 21h0m101 26h0m-33 135h0m16-4h0m16-127h0m-60 29h0m-37 179h0m-41-127h0m-80 109h0m285-125h0m-191 193h0m93-217h0m3-26h0m123 105h0m-299-18h0m132-68h0m14 168h0m-197-185h0m249 90h0m-8-29h0m-86 40h0m126-40h0m43-34h0m-235 115h0m65 111h0m-86-17h0m-10-85h0m314-39h0m-115 33h0m-70 12h0m-61 33h0m122-244h0m-86 54h0m-23-31h0m145 183h0m-232 16h0m264-36h0m-207 9h0m-94 58h0m299-93h0m-53-39h0m-84-129h0m1 329h0m-186-161h0m276-162h0m-18 268h0m77-89h0m-235-194h0m-4 177h0m93-222h0m102 230h0m-4-37h0m-90-146h0m48 166h0m-26 73h0m8 33h0m67-163h0m-23-113h0m3 7h0m89 94h0m-166-37h0m-114 147h0m198-14h0m-95-174h0m156 250h0m-221-135h0m161 93h0m32-8h0m-72-219h0m12 220h0m-249-64h0m125-54h0m133 40h0m-46 102h0m125 5h0m-269-5h0m175-99h0m108-16h0m-42-66h0m-105 170h0m163-78h0m-122-11h0m-142 152h0m156-248h0m-78 18h0m-15-28h0m54 287h0m-36-112h0m126-21h0m-191-224h0m157 30h0m18 239h0m53-41h0m-280-146h0m223 88h0m43-10h0m-156 87h0m-81-166h0m-47-10h0m243 113h0m-71 28h0m-57-222h0m126 255h0m-135-70h0m-110 134h0m200-121h0m-181-122h0m25 101h0m-49 85h0m191-58h0m-208-125h0m108 97h0m-20 58h0m-30 39h0m42-70h0m-79 64h0m21-76h0m40 99h0m248-149h0m-338 1h0m212-101h0m108 226h0m-124-144h0m-81 247h0m12-274h0m107 96h0m-109 138h0m189-126h0m-178-138h0m159 225h0m-192-72h0m96-154h0m56 16h0m-44-33h0m102 118h0m-335 96h0m215-49h0m32-114h0m92 80h0m-30 103h0m-269-118h0m191 41h0m-38-124h0m-3 199h0m13-63h0m119 17h0m20-76h0m-66-121h0m-64 0h0m129 87h0m23 125h0m-110-170h0m-182-8h0m16 126h0m193 155h0m93-202h0m-27 56h0m-253-66h0m8 112h0m142 128h0m-56-126h0m-17-237h0m96 91h0m-229 167h0m77-213h0m220 264h0m-97-22h0m-54-289h0m-162 206h0m148-2h0m172 77h0m-211 56h0m-80-162h0m87 107h0m-75-220h0m-26-3h0m162 220h0m-115-184h0m-25 163h0m110 74h0m-114-25h0m170-181h0m-134 23h0m269-38h0m-364 33h0m223-148h0m-225 255h0m104-38h0m58 28h0m40-68h0m127 119h0m-188-31h0m101-212h0m31 213h0m-74-106h0m-1-122h0m93 268h0m-166-114h0m46 23h0m-111 96h0m89 38h0m21-156h0m48-203h0m-221 208h0m81-112h0m-50 6h0m329 212h0m-201-210h0m82 111h0m-50 170h0m72-208h0m5 16h0m-74 64h0m-49 143h0m-12 0h0m31 8h0m3-24h0m-13 25h0m6-55h0m-35 0h0m37 39h0m-33-14h0m7 14h0m20-42h0m6-14h0"/>
<path stroke="#dbb2e2" d="m1527 1163h0m-102-265h0m36-92h0m0 141h0m4 169h0m68-44h0m-62-106h0m19 223h0m101-28h0m-103-68h0m32 90h0m-8-113h0m-55-172h0m-5 34h0m13 194h0m37-224h0m-37 109h0m29-30h0m-13 78h0m12 12h0m5-6h0m30 14h0m-77-267h0m27 120h0m-12-44h0m7 290h0m16-390h0m-17 251h0m29-104h0m-26 128h0m29-12h0m4-90h0m71 177h0m-129-260h0m52 6h0m8 276h0m-3-233h0m18 157h0m17 21h0m-114-267h0m54 159h0m63 167h0m-47-10h0m-27-148h0m32 167h0m-69-338h0m24-24h0m68 333h0m-16-288h0m-58 68h0m21 1h0m26-4h0m51 62h0m-6 102h0m32 100h0m-37-240h0m25-34h0m-68 106h0m102 132h0m-149-307h0m110 178h0m-16-78h0m21-12h0m-104 227h0m74-82h0m-2-57h0m-50 9h0m16-147h0m-3 173h0m-5-96h0m88 30h0m-67 211h0m-13-277h0m33 271h0m-23-54h0m47-210h0m-76 180h0m38-62h0m-19-213h0m-33 355h0m-8-329h0m34 261h0m-19-12h0m115-73h0m-88 66h0m-31-182h0m59 10h0m-69-93h0m40 80h0m-64-82h0m101 148h0m11 2h0m-25-59h0m-19 206h0m28-244h0m-70 221h0m41-231h0m-63 37h0m61-97h0m-5 119h0m7-30h0m-51 223h0m89 36h0m-59-360h0m43 350h0m-31-214h0m37 115h0m50 122h0m-11-25h0m-8-178h0m-39 107h0m-75-230h0m109 171h0m-10 104h0m-19-183h0m-32 95h0m18 41h0m-40 110h0m35-337h0m43 226h0m-56 40h0m-31-86h0m89-123h0m-11 219h0m-53-45h0m28-161h0m28-19h0m-67 77h0m-20-23h0m90 143h0m-35-160h0m-6 226h0m-48-342h0m99 355h0m-132-339h0m69 99h0m66 43h0m-85 43h0m92-50h0m-2 176h0m-17-162h0m1 184h0m-68-91h0m13-149h0m91 142h0m-143 28h0m26-53h0m108 72h0m-135-254h0m32 284h0m-31-60h0m60-235h0m-26 31h0m-53-38h0m98 53h0m-39 248h0m-30-218h0m9 251h0m49-248h0m-7-61h0m26 227h0m-74-71h0m22-99h0m67 227h0m-37-226h0m-36-117h0m60 61h0m-67 137h0m27 95h0m15-165h0m-15-50h0m33 277h0m-69-169h0m39-83h0m-23 12h0m-2 180h0m12-225h0m28-69h0m-69 6h0m37 300h0m-22-106h0m82-90h0m-22 220h0m-39-177h0m27 194h0m23-231h0m-82-118h0m117 314h0m2-36h0m-77-242h0m109 172h0m-127-77h0m111 198h0m-29-150h0m-68-51h0m22 7h0m-66-22h0m149 109h0m-147-202h0m27 169h0m52-140h0m-72 30h0m16-78h0m18-26h0m28 99h0m19 312h0m-51-239h0m71-26h0m15 241h0m29-17h0m-45-96h0m-108-243h0m58 90h0m-36 99h0m66 142h0m21-260h0m-34-35h0m-52 5h0m67 156h0m-25 61h0m42-92h0m-59 190h0m23-168h0m63 172h0m-106-258h0m53 259h0m61-165h0m-38 68h0m2-111h0m-51-24h0m32-70h0m-71 77h0m41-18h0m-64-100h0m74 300h0m-29-205h0m62 138h0m-102-162h0m121 2h0m-28 92h0m-38-47h0m41-7h0m-42 42h0m2-41h0m51-23h0m-7 245h0m-67-264h0m10-94h0m-14 194h0m69 164h0m13-179h0m26 128h0m-9-29h0m-18 68h0m-50-56h0m-6-254h0m-47 56h0m115 230h0m-41 57h0m28-211h0m-40 210h0m-11-262h0m-19-10h0m-3 13h0m33-74h0m-22-50h0m-13 250h0m87-72h0m19 162h0m-101 38h0m-12-351h0m30 289h0m3-257h0m-12 69h0m-8-5h0m91 5h0m-104 119h0m66 24h0m22 78h0m-65-86h0m-7 54h0m-1-115h0m8 154h0m19 17h0m90-84h0m-57-129h0m-43-8h0m26-81h0m-36 84h0m-20-27h0m2 212h0m88-7h0m-8-34h0m46 32h0m-90-44h0m41 44h0m-18-221h0m-51 150h0m13-140h0m61 193h0m2-235h0m-10 68h0m36 162h0m-16 17h0m-116-277h0m41 197h0m38-133h0m38 210h0m-71-51h0m67-62h0m-28-137h0m-71 42h0m16 97h0m-12-93h0m64 273h0m-36-131h0m1-117h0m55-37h0m12 263h0m-113-333h0m19 206h0m52 99h0m-33-71h0m55 57h0m-93-196h0m69 156h0m2 103h0m7-275h0m-46 255h0m70-291h0m-82 120h0m19-60h0m-2-121h0m53 241h0m34 60h0m-57-57h0m-75-168h0m145 269h0m-60 22h0m64-129h0m-55 77h0m49-162h0m-41 5h0m16-65h0m-91 19h0m7-79h0m-11-51h0m51 185h0m-59 62h0m27 127h0m-21-262h0m18 251h0m149-155h0m19 53h0m-19-68h0m33 25h0m-40 73h0m35-63h0m-20 47h0m11-9h0m-36-109h0m2 43h0m38 49h0m-56-54h0m-5-69h0m55 179h0m-50-122h0m33-1h0m8 98h0m42-63h0m-45-5h0m2 9h0m17 65h0m17-142h0m-21 75h0m0 9h0m-20-20h0m21 17h0m19-63h0m4-12h0m-23 99h0m-24-36h0m24-45h0m-22 131h0m49-32h0m-64 8h0m68-34h0m-62-58h0m66-15h0m-56 48h0m38-14h0m-39-14h0m9 31h0m-26 13h0m38-89h0m-413-15h0m96-59h0m9-15h0m28 1h0m30-16h0m-24-34h0m-19 0h0m-136 120h0m102-73h0m-46 17h0m-33 28h0m103-72h0m50 6h0m-7 32h0m-46-33h0m52 0h0m-95 56h0m-39-5h0m2 2h0m159-18h0m-115-8h0m16 7h0m2-13h0m6-9h0m66-16h0m21-33h0m-1 61h0m-111-18h0m1 20h0m116-30h0m-96 29h0m-61 13h0m1 55h0m21-80h0m20 9h0m107 2h0m-104-28h0m17 22h0m-105 79h0m29-9h0m155-96h0m-48 42h0m-30-45h0m42 40h0m-11-21h0m40-15h0m-83 55h0m13-31h0m-74 80h0m59-71h0m-33 9h0m55-52h0m63 47h0m-66-25h0m66-34h0m-157 113h0m24-42h0m113-10h0m-130 50h0m347 275h0m60-39h0m-8 37h0m118 103h0m-62-64h0m-50 2h0m6-20h0m51 9h0m-82-57h0m-21-1h0m1-19h0m137 135h0m-93-88h0m48 24h0m90 102h0m-103-103h0m-26 21h0m61 18h0m-84-110h0m186 251h0m-179-271h0m-5 82h0m143 138h0m-138-191h0m5 26h0m-18-52h0m-61 45h0m98 86h0m95 28h0m-162-108h0m7-27h0m25-19h0m-34 58h0m37-16h0m-78 12h0m56-20h0m186 214h0m-147-178h0m20 14h0m-26-72h0m-21-9h0m-13 14h0m15-18h0m35 86h0m95 90h0m-21-24h0m-116-87h0m99 89h0m-31-72h0m-33-58h0m7 44h0m-56-12h0m29-30h0m25 42h0m-40-13h0m22 40h0m26-47h0m-18-23h0m-1 84h0m-2-78h0m-25 15h0m22-37h0m-40 66h0m38 13h0m35 2h0m-70-25h0m143 89h0m-124-132h0m24 40h0m135 143h0m-24-45h0m-18 12h0m-112-118h0m65 7h0m-79-2h0m39-40h0m1 18h0m2 16h0m-20 42h0m13-74h0m-21 9h0m27 9h0m-50-25h0m36 31h0m-16-43h0m68 125h0m-32-25h0m-45-47h0"/>
<path stroke="#fdb550" d="m1961 1541h0m-166-214h0m192 230h0m-90-211h0m114 196h0m32-111h0m-49 40h0m62-53h0m15 28h0m-247-62h0m98 82h0m41-50h0m-56 138h0m-90-240h0m84 95h0m50-46h0m90 43h0m-33 145h0m-147-106h0m45-29h0m167 24h0m-40 111h0m-45-83h0m13 88h0m-167-237h0m215 61h0m-70 184h0m64-80h0m-20-91h0m-137-43h0m74 78h0m-91-73h0m206 45h0m-45-13h0m-18 23h0m-7-90h0m-123 77h0m130-4h0m64 14h0m-203 0h0m149-69h0m-231-97h0m118 72h0m-53 159h0m11-17h0m197-42h0m-213 11h0m-35-93h0m61 73h0m68 0h0m-57 63h0m140-47h0m-27-63h0m82 109h0m-149 67h0m100-156h0m-151-75h0m56 66h0m85 18h0m-26 132h0m71-141h0m-12 46h0m-83-5h0m-145 2h0m140 30h0m-137-26h0m200-88h0m-55 255h0m-14-132h0m-5-1h0m-125-156h0m161 141h0m12 58h0m38-97h0m-159 14h0m-14-36h0m149-50h0m-111 11h0m120 179h0m35-86h0m-249-130h0m149 79h0m-167-178h0m86 134h0m73 45h0m10 7h0m-121 50h0m97-91h0m6 28h0m-165-197h0m281 201h0m-101 2h0m44-9h0m-163-29h0m85 2h0m-111 17h0m20 61h0m46-44h0m-96-46h0m257-8h0m-31 60h0m-84 27h0m117 27h0m-81-49h0m89 46h0m-181-108h0m182 80h0m-182-6h0m18-21h0m60 75h0m11-72h0m5 80h0m-31-63h0m-44 26h0m3 46h0m-86-162h0m258 115h0m-22-67h0m-81 57h0m-19 40h0m98-119h0m-110 147h0m38-77h0m46 38h0m-92-32h0m90-30h0m-22 152h0m-34-190h0m-135-31h0m148 202h0m35-118h0m-66-79h0m26 108h0m-37-79h0m146 131h0m-280-286h0m213 305h0m-164-208h0m108 107h0m-98-53h0m77 162h0m-45-97h0m41-46h0m-41 5h0m121 85h0m-197-119h0m-13-116h0m183 349h0m-133-216h0m18 84h0m61 73h0m109-134h0m-42 95h0m40-69h0m-159-15h0m107 44h0m-101-78h0m132 43h0m61 32h0m-149-58h0m49 90h0m109-20h0m-62-43h0m-133 63h0m59-85h0m-129-34h0m72 155h0m24-8h0m130-75h0m-54 121h0m-126-94h0m-57-50h0m97 116h0m-66-100h0m94-85h0m37 224h0m-185-337h0m27 102h0m234 109h0m-209-123h0m164 172h0m-147-174h0m138 165h0m-139-17h0m172-96h0m-83 34h0m125 55h0m-136-10h0m12-38h0m-29 68h0m-103-136h0m148 14h0m-154-17h0m137 75h0m-47-17h0m-7-32h0m113 105h0m-165-62h0m234 48h0m-13-1h0m-123 8h0m151 14h0m-150-24h0m108-9h0m-160-5h0m36-28h0m95 23h0m-177 14h0m107-22h0m119 10h0m32 40h0m-94-31h0m54-57h0m-275-66h0m42 54h0m90 126h0m130 10h0m-2-70h0m-131 117h0m122-149h0m-82 45h0m-67-54h0m4 17h0m-102-193h0m210 209h0m-47 13h0m2-36h0m-115-2h0m115 63h0m-16-25h0m30-18h0m114 18h0m-140-73h0m46 194h0m14-195h0m-131 52h0m87-16h0m44-34h0m-76 158h0m32-39h0m63-48h0m-43-36h0m-187-47h0m230 98h0m-50 88h0m-73-117h0m-64-62h0m64 5h0m160 76h0m-132 60h0m101 6h0m53-43h0m-91 107h0m-153-224h0m36 84h0m189 4h0m-3-3h0m-28-94h0m-7 66h0m-83 129h0m104-82h0m-118-46h0m0 3h0m38 76h0m3-97h0m30 163h0m29-211h0m24 45h0m-214-66h0m2 36h0m5 81h0m121-30h0m100 31h0m-136 47h0m102-78h0m-9-9h0m-5 87h0m-34-157h0m-52 99h0m-32-40h0m-84-67h0m185 38h0m-145 62h0m34 103h0m102 36h0m2-53h0m-34-106h0m92 14h0m-206 31h0m134-19h0m-8-23h0m113 36h0m-79-68h0m-85 50h0m28 25h0m1-65h0m16 48h0m-118 6h0m38 92h0m147-30h0m-132-168h0m34 114h0m-19-57h0m103-53h0m-181-5h0m92 91h0m-46-11h0m44 149h0m78-92h0m83-78h0m-146 22h0m65 152h0m-179-252h0m157 62h0m-167-59h0m-25-78h0m-8-14h0m244 323h0m-193-210h0m-8 5h0m43 189h0m162-97h0m-76-26h0m43 64h0m17-22h0m-22 117h0m-169-204h0m49 165h0m140-76h0m-223-203h0m127 288h0m154-84h0m-247-99h0m-10-7h0m195 56h0m-89 47h0m161 17h0m-7-20h0m-249-117h0m-22 24h0m119 161h0m-4 35h0m106-163h0m2 23h0m-126 150h0m30-115h0m55 108h0m-164-203h0m35 95h0m-73-180h0m237 136h0m-64 131h0m78 24h0m-53-100h0m-115 15h0m-21-84h0m16 31h0m-78-173h0m256 93h0m-201 17h0m244 116h0m-263-129h0m239 114h0m-99 126h0m-29-170h0m-48 33h0m170 2h0m-82 17h0m-24 97h0m91-174h0m-124 9h0m39 26h0m31 137h0m-204-318h0m176 168h0m-84 18h0m67-9h0m-88 28h0m-19-94h0m243 99h0m-178-45h0m21 42h0m131-58h0m-246-42h0m101 14h0m15 49h0m86-19h0m-194-59h0m95 146h0m114-4h0m-40 2h0m-71-3h0m0 32h0m18-61h0m-24 37h0m54 122h0m-41-144h0m81 100h0m35-210h0m-31 106h0m-21 22h0m-73-112h0m148 76h0m-160-40h0m71 153h0m27-135h0m25 103h0m-73-43h0m117-56h0m-143 29h0m180-57h0m-134 131h0m46-84h0m43 40h0m-39 3h0m-98 10h0m-22-10h0m100-60h0m-43-34h0m-67-54h0m-12 37h0m168 40h0m-107 41h0m62-22h0m-36 124h0m-39-48h0m-4-51h0m-3-64h0m166 70h0m-118-94h0m-128-44h0m-49-86h0m228 110h0m76 35h0m-146-41h0m-18 184h0m35 14h0m86-202h0m-138 197h0m85-58h0m-85 101h0m-40-146h0m155-8h0m-94 58h0m-105-107h0m-3-83h0m174 91h0m45 113h0m41-8h0m-59 52h0"/>
<path stroke="#90ee90" d="m396 1504h0m-38-221h0m162 260h0m69-27h0m-90 45h0m-32 7h0m36-51h0m-4-74h0m-175 47h0m64-195h0m23 194h0m-91-89h0m135-10h0m42 181h0m156-103h0m-337-28h0m170 95h0m-118-39h0m119-18h0m-96-26h0m-83-25h0m120 80h0m27-62h0m55-27h0m-225 7h0m72-66h0m129 111h0m-7 73h0m-4-6h0m55-5h0m83-6h0m-249-205h0m-17 14h0m-55 50h0m137-114h0m70 213h0m-8 61h0m-73-252h0m-124 149h0m332 45h0m37 14h0m-48 15h0m-319-39h0m206 50h0m-11-99h0m-183 15h0m246-36h0m-267-7h0m301 86h0m-293-156h0m44 119h0m152 83h0m-111-80h0m52-121h0m151 223h0m-300-108h0m289 35h0m-192 24h0m117-58h0m59 64h0m-130-213h0m68 260h0m-4-101h0m-100-102h0m-48-40h0m81-18h0m-37 196h0m55-183h0m180 195h0m-115 9h0m174 0h0m-296-20h0m134-3h0m-109-156h0m96 85h0m-143 76h0m263-18h0m-142 67h0m4-86h0m17 6h0m-60 70h0m40 6h0m98 0h0m-67 5h0m-252-214h0m246 207h0m-197-134h0m189 138h0m11-25h0m-192-85h0m135 121h0m-119-226h0m281 179h0m-271-197h0m332 182h0m-366-28h0m237-64h0m83 46h0m-89 107h0m-93-118h0m-28-114h0m-134 70h0m93 101h0m-31-178h0m-43 141h0m255 122h0m-108-108h0m-152-103h0m37 8h0m199 171h0m-58-65h0m-55 27h0m58 29h0m27-97h0m-195 29h0m201-35h0m-26 149h0m4-46h0m19 36h0m-221-164h0m5 26h0m179 32h0m123 45h0m-206-202h0m64 119h0m103 127h0m-135-191h0m31 205h0m44-15h0m-214-96h0m28-87h0m322 156h0m-140-69h0m170 59h0m-55-64h0m-221-76h0m133 100h0m-29 78h0m-180-224h0m28 117h0m71-143h0m124 291h0m-72-64h0m27 3h0m-58-201h0m0 99h0m37 88h0m42-81h0m-227-64h0m4 22h0m15 9h0m210-10h0m152 89h0m-151-53h0m-168 29h0m-16-77h0m15 62h0m-52 24h0m175-44h0m32 21h0m-156 66h0m159-77h0m-179 65h0m16-71h0m-7-99h0m29 147h0m147-65h0m-86 91h0m93-79h0m-71 21h0m-17-118h0m71 145h0m161 13h0m-216 41h0m-35-104h0m197 84h0m-286-42h0m202 2h0m-208-3h0m282 17h0m-11-29h0m8-30h0m-180-122h0m-118 39h0m323 99h0m-340-59h0m132 8h0m85 167h0m-153-136h0m167-10h0m96 68h0m-266 13h0m147-51h0m22 1h0m-202-70h0m196 147h0m73-40h0m-35 89h0m140-61h0m-249 25h0m-110-75h0m63-67h0m101 14h0m163 122h0m-306-60h0m260-32h0m-314-46h0m208 19h0m62 162h0m-47-64h0m-141-1h0m288-27h0m-81-1h0m16 69h0m-242-86h0m88 85h0m-95-198h0m283 115h0m-160 13h0m99 106h0m-243-277h0m59 206h0m-93-148h0m119 2h0m45 195h0m181-60h0m-108 47h0m-194-225h0m-43 36h0m308 136h0m-289-67h0m158 150h0m-42-248h0m132 185h0m-147-205h0m11 51h0m-31 102h0m192 70h0m-178-150h0m-91-31h0m91 116h0m-118-12h0m234 50h0m-219-119h0m182 189h0m18-70h0m-4 53h0m64-146h0m-140-105h0m181 170h0m-314-61h0m74 92h0m129-30h0m-181-44h0m246 142h0m4-125h0m-241-98h0m164 192h0m-145-193h0m197 87h0m-112-29h0m-36-97h0m12 22h0m204 201h0m-211-73h0m107-5h0m131 7h0m-138 15h0m-7 62h0m23-66h0m74 0h0m15-5h0m-93 8h0m-155-8h0m248 76h0m-298-70h0m283 3h0m-269-146h0m76-19h0m-76 173h0m197 112h0m-128-288h0m116 124h0m-139-88h0m134 57h0m-133 62h0m114-27h0m-161 3h0m280 37h0m-301-80h0m218 66h0m-193-43h0m156 21h0m-180-39h0m36-109h0m153 168h0m41 88h0m-78-76h0m187 39h0m3-27h0m-163-25h0m-7-5h0m22 19h0m-108-69h0m6-80h0m19 73h0m171 29h0m-100 26h0m148 36h0m-238 12h0m-33-168h0m122 112h0m-148-1h0m-8-136h0m300 191h0m-65-64h0m-53 18h0m-202 8h0m202 88h0m-7 22h0m-65-41h0m-8-107h0m50 142h0m25 7h0m-110-113h0m-51 27h0m154 72h0m34-162h0m-58 164h0m152-40h0m-12-43h0m-96-56h0m148 60h0m-134-50h0m-12 84h0m-185-161h0m-25-45h0m19 23h0m170 214h0m92-140h0m-204 54h0m-45 2h0m-63-157h0m219 162h0m99 68h0m-80-21h0m-213-37h0m287-60h0m-87 141h0m13-116h0m-33 116h0m-37-246h0m175 165h0m-97 116h0m-27-153h0m75 104h0m-271-119h0m34 38h0m56-159h0m158 247h0m120-62h0m-169 66h0m-22-11h0m-40-40h0m126-73h0m81 75h0m-114-56h0m-29-76h0m-122 119h0m-52-85h0m123-3h0m-98 70h0m260 2h0m-21-3h0m-146-93h0m132 80h0m-187-140h0m-96 102h0m212 157h0m157-72h0m-92-107h0m-238-64h0m314 176h0m-351-106h0m323 25h0m-104 108h0m105-21h0m-49 47h0m-131-173h0m57 56h0m14 87h0m76-24h0m-61-23h0m-100-174h0m52 103h0m119 36h0m20 47h0m-62 7h0m-15 66h0m-174-236h0m26 127h0m85-10h0m-111-137h0m37-28h0m258 211h0m-374-113h0m198 188h0m-125-189h0m162 34h0m82 45h0m-10 72h0m38-84h0m-341-31h0m0-2h0m231 126h0m-180-61h0m207-58h0m-159 49h0m-85-64h0m203 101h0m-50-15h0m-72-3h0m64 54h0m48-4h0m20-19h0m-203-192h0m338 143h0m-301-165h0m1 13h0m40 10h0m-94 295h0m75-15h0m25 11h0m-122 1h0m2 10h0m88 27h0m5-3h0m-89-47h0m32-10h0m28 53h0m-59-34h0m10-26h0m47 52h0m-7 39h0m29-73h0m-27 40h0m-71-2h0m90 20h0m6-9h0m-45-3h0m-22-15h0m69-3h0m26-10h0m-79-22h0m50 35h0m0 30h0m-33-16h0m-22-41h0m4 35h0m-8 3h0m-40-20h0m-10 25h0m59-65h0m31 65h0m-2 12h0m-17-56h0m4-24h0m-43 20h0m90 60h0m-44-61h0m18 75h0m26-78h0m-75 50h0m55 6h0m-46-2h0m29-63h0m-79 36h0m64-9h0m-3-4h0m-30 48h0m78-62h0m-19 12h0m-39-20h0m58 49h0m-81-41h0m90 60h0m-102-60h0m121 52h0m-63-59h0m-12 66h0m-27-71h0m-5 16h0m-24 32h0m82-5h0m65 26h0m-46-65h0m7 75h0m-24-60h0m-34 43h0m11-42h0m-70 21h0m109-19h0m60-9h0m4 0h0m-14-74h0m-18 72h0m20-61h0m-20 34h0m34-27h0m16 41h0m8-20h0m-40 29h0m13-4h0m-24-46h0m-4 43h0m14 3h0m19-33h0m-26-33h0m12 80h0m26-54h0m-52-25h0m67 56h0m-2-11h0m-20 17h0m-25 19h0m-19-25h0m41-7h0m-33-12h0m-8-18h0m31 34h0m3 35h0m2-113h0m14 85h0m11-28h0m-41 10h0m-9 3h0m-165-32h0m3-29h0m20 35h0m24-26h0m-18-20h0m29 46h0m-60-31h0m-6 41h0m60 4h0m2-5h0m-50-26h0m535-38h0m21-25h0m-34 35h0m-17-43h0m46 25h0m-72 65h0m7-27h0m-3 14h0m63-30h0"/>
<path stroke="#fb9a99" d="m994 1357h0m-11 56h0m-2-45h0m-6-19h0m2 65h0m1-52h0m16 57h0m0-42h0m-3 29h0m-1-34h0m-21 19h0m25-19h0m-19 4h0m14 26h0m6-2h0m-17-55h0m7 83h0m-11-10h0m-5-14h0m4 18h0m-161 90h0m194 114h0m10-75h0m-113-15h0m12 110h0m119-6h0m-122-83h0m181-10h0m-71 17h0m-83-52h0m40 9h0m-58-51h0m126 49h0m-190-70h0m68 87h0m36-4h0m-157-50h0m278 81h0m5-48h0m-23-14h0m7 30h0m-230-17h0m113 6h0m33 7h0m-189-59h0m201 73h0m-97-28h0m71-23h0m-42 136h0m1-7h0m94-134h0m61 104h0m-39 14h0m-10-72h0m-204-18h0m124 4h0m-6 46h0m20 50h0m-24-89h0m-118-84h0m77 64h0m51 152h0m-80-86h0m32-59h0m50 73h0m-23 37h0m96-16h0m24-78h0m-35 107h0m-84-50h0m38-97h0m-44 166h0m-29-77h0m-36-55h0m208 39h0m-90-5h0m-12 57h0m57 23h0m-117-153h0m132 29h0m3 47h0m-136-32h0m134 96h0m-94-6h0m35 7h0m40-107h0m-75 99h0m23-69h0m98-33h0m-50-9h0m17 22h0m-37 141h0m-21-91h0m-57 63h0m-11-72h0m169-11h0m-60-15h0m-62 42h0m-30-77h0m39 28h0m-43-27h0m89 61h0m-4-11h0m-96-24h0m18 103h0m-19-76h0m154-35h0m-248-6h0m168-60h0m11 39h0m-40-24h0m62 142h0m-209-135h0m63-31h0m131 51h0m-66 31h0m14 65h0m-6-67h0m7-2h0m86-39h0m-94 11h0m28 108h0m-143-99h0m133 149h0m-111-204h0m164 87h0m59 54h0m-113-45h0m-44-67h0m-60-44h0m66 79h0m117-42h0m15 136h0m-76-58h0m-59 64h0m14-126h0m106 140h0m-5-94h0m-210-34h0m132 69h0m106-49h0m19 63h0m-236-150h0m-29 87h0m204-23h0m-52 79h0m-29 40h0m144-66h0m-131-17h0m-4 9h0m-6-59h0m139 43h0m-102-58h0m-45 131h0m-9-117h0m27 44h0m14 105h0m50-83h0m67 46h0m-232-119h0m203 38h0m-153 46h0m91 27h0m-16-8h0m-59 55h0m-74-93h0m128 11h0m66-76h0m-127 64h0m25 50h0m-8 39h0m19-141h0m-16 103h0m32-6h0m38-21h0m25-79h0m-112 35h0m-13 95h0m94-93h0m-71-39h0m115 57h0m-116-41h0m-29 60h0m98-86h0m19-11h0m-141 1h0m-2-16h0m217 136h0m-131 14h0m57 27h0m38-135h0m-104 122h0m13 18h0m-17-127h0m-17-33h0m96 156h0m-113 11h0m141-53h0m27-25h0m-121-45h0m-45 55h0m6-79h0m169 54h0m-87-77h0m-38 87h0m104-50h0m-128 73h0m22-12h0m56-67h0m-80 24h0m74 24h0m8-40h0m-16 0h0m-73 113h0m118-106h0m-223-47h0m11 35h0m211-22h0m-188 71h0m53-31h0m70-44h0m-12 166h0m-34-127h0m98 42h0m-13-66h0m-49 109h0m118-27h0m-118-93h0m3 140h0m-69-137h0m171 34h0m-35 13h0m26-5h0m-73 16h0m-6-73h0m86 94h0m-116 65h0m18-79h0m91 167h0m-40 79h0m12-134h0m12 28h0m-25 261h0m14-26h0m-47 30h0m42 64h0m22-87h0m-27-196h0m-3 208h0m-17-201h0m-13 161h0m31-111h0m-12 59h0m39-160h0m15 32h0m5-12h0m-39 65h0m3 226h0m11-362h0m-39 31h0m26 164h0m29-132h0m3 57h0m-71 128h0m-4 43h0m34-283h0m-12 319h0m48-144h0m-35-170h0m-30 322h0m37-294h0m21-21h0m31 135h0m-46-95h0m-21 82h0m50-81h0m-21-25h0m28 170h0m-44-56h0m6 18h0m22-75h0m3 12h0m-18 63h0m-29-86h0m58-21h0m3 29h0m-4 113h0m-61-43h0m31-94h0m37 88h0m1 0h0m-22 130h0m-27-33h0m-2-107h0m37-68h0m-43 144h0m-4 70h0m-26-13h0m62 15h0m16-63h0m-70 74h0m46 5h0m-20-13h0m6-189h0m26-7h0m-19 0h0m-25 226h0m67-211h0m-19-28h0m-47 221h0m45-279h0m-36 262h0m-26 37h0m58-206h0m-43 1h0m-9 126h0m40-85h0m-34-148h0m59 201h0m-31 125h0m4-216h0m-6 227h0m17-262h0m-13 4h0m-2 1h0m41 46h0m-43-48h0m23-85h0m4 80h0m-5 13h0m21-10h0m-74 177h0m21 92h0m9-58h0m-3-126h0m30-130h0m-5 98h0m0 74h0m-4-9h0m-16-42h0m-12-92h0m39 283h0m2-136h0m-27-96h0m19-23h0m-21 2h0m-4-28h0m28-48h0m5 42h0m-27 3h0m-36 65h0m0-84h0m34 4h0m26 89h0m-18-74h0m32 101h0m-32-138h0m-38 306h0m13-249h0m7 217h0m-21-244h0m38-41h0m44 155h0m-22-74h0m-54 7h0m8 12h0m13 253h0m-15-238h0m2-34h0m27 0h0m-20 97h0m10 156h0m19-312h0m33 67h0m-8 99h0m-204-120h0m-4 19h0m10 14h0m-24-10h0m-2-4h0m11 1h0m-2-58h0m6 25h0m-5 22h0m2-3h0m1-10h0m-2-23h0m9-8h0m-9 49h0m13-12h0m283 164h0m38-25h0m-25 28h0m-10-31h0m18-14h0m-5 71h0m-14-2h0m11 9h0m5-78h0m-8 23h0m-1 14h0m-2 43h0m0-61h0m-3-3h0"/>
<path stroke="#ffa500" d="m1503 1631h0m55 229h0m-126-98h0m188 167h0m-121-35h0m37 152h0m130-148h0m-140 128h0m-34-201h0m114 105h0m-198-105h0m10 35h0m65-56h0m172 218h0m-211-319h0m127 250h0m-159-130h0m34 76h0m25-242h0m129 340h0m-171-249h0m171 185h0m-42-90h0m-68 112h0m-3-253h0m145 303h0m-167-33h0m33-241h0m46 244h0m-85-5h0m100-132h0m72 171h0m-182-63h0m-10-264h0m22-45h0m12 14h0m-12 281h0m153-7h0m-176-152h0m51-84h0m146 255h0m-156-237h0m138 281h0m-18-37h0m-131-127h0m135 205h0m-172-73h0m98 32h0m-77-57h0m162-77h0m-27-72h0m-60-108h0m18 369h0m13-31h0m49-68h0m-148-230h0m65 329h0m52-62h0m-119-22h0m93 14h0m112 38h0m-191-368h0m38 232h0m142 119h0m-29-12h0m-194-188h0m46-90h0m7 167h0m-57-96h0m154 185h0m-72-358h0m76 293h0m-116-2h0m-57-116h0m119 92h0m3-12h0m118 101h0m-135-380h0m-48 389h0m38 0h0m-76-83h0m14 38h0m81-55h0m-81 96h0m38-35h0m-15-202h0m179 251h0m-174-278h0m35 254h0m-97-87h0m120 100h0m-75-263h0m8-60h0m107 264h0m-63-324h0m-42 421h0m-28-272h0m60-48h0m-2 221h0m14-3h0m76-23h0m46 59h0m-47-69h0m-2 93h0m-76-117h0m-21-59h0m126 232h0m-139-373h0m132 298h0m-138 46h0m157 24h0m-8-207h0m11 123h0m-212-169h0m113 273h0m-84-282h0m115 191h0m-108-234h0m98 179h0m49 118h0m-125-277h0m-30-7h0m116 305h0m-131-81h0m7-182h0m60 196h0m97-8h0m-13-92h0m66 144h0m-219-144h0m79-124h0m-55 226h0m70 25h0m-56-274h0m42 143h0m-43-184h0m69 11h0m33 322h0m-127-199h0m66 107h0m23-111h0m-61-142h0m158 238h0m41 104h0m-172-100h0m144 94h0m-149-294h0m19-132h0m53 488h0m-10-256h0m-90 199h0m118-168h0m-156-52h0m112 80h0m-71-205h0m150 351h0m18-27h0m-83 53h0m-34-161h0m152 136h0m-156-357h0m5 232h0m144 99h0m-94-98h0m-73-3h0m156-51h0m-80 200h0m-46-149h0m-102-52h0m44-101h0m70 98h0m-58 49h0m4 132h0m-16-268h0m156 77h0m-17 128h0m-6 4h0m-17-70h0m59 125h0m-143-318h0m-9 303h0m136-63h0m-95-31h0m51 76h0m39-30h0m-145-326h0m21 279h0m100-13h0m38 105h0m-102-293h0m-76 258h0m13 24h0m125-148h0m-63 220h0m-56-477h0m-6 142h0m-22 252h0m146-15h0m-29 103h0m-65-82h0m32 15h0m-8-14h0m-44-23h0m36-13h0m-3-65h0m153 131h0m-177-124h0m12 110h0m81-148h0m-118-195h0m9 329h0m-10-258h0m182 213h0m-201-127h0m64-198h0m-38 199h0m16 28h0m158 156h0m-126-137h0m-30-173h0m5-82h0m121 422h0m-158-353h0m54 120h0m108 207h0m-159-337h0m42 162h0m15 157h0m117-20h0m-19 59h0m-176-151h0m24-3h0m125 162h0m46-186h0m-182 35h0m149 68h0m-160-177h0m43-119h0m177 304h0m-12-107h0m-192 134h0m36-325h0m-68 190h0m32 151h0m54-91h0m19 121h0m11-30h0m-39-286h0m-57 54h0m-12-20h0m44-81h0m71 98h0m-45 150h0m-6-222h0m-33 116h0m73 139h0m-82 51h0m156-49h0m-115-294h0m22-48h0m25 453h0m-37-108h0m-39-12h0m111-59h0m-87-261h0m61 382h0m-117-257h0m224 130h0m-18-32h0m-16-11h0m-63-4h0m4 114h0m-111-33h0m87 79h0m-59-32h0m-32-188h0m137 163h0m-14 52h0m-69-278h0m-8 165h0m31 30h0m136-17h0m-171 47h0m-23 50h0m16 34h0m147-89h0m-204-192h0m223 289h0m-129-25h0m0-59h0m-20 66h0m112-54h0m-142 31h0m161-50h0m-140 51h0m-8-306h0m32 278h0m32 63h0m12-92h0m55 100h0m-112-341h0m-56 67h0m184 143h0m-96 17h0m-21 100h0m31-8h0m-26-23h0m157-98h0m-80 39h0m-84-203h0m-26 62h0m126 228h0m23 9h0m-88-39h0m-110-165h0m190 68h0m-64-22h0m79 97h0m-26 46h0m-1-124h0m5 50h0m-103-183h0m-82 38h0m63 95h0m-30-156h0m161 273h0m-179-248h0m149 151h0m-111-159h0m91 234h0m-90-32h0m14-108h0m-58 135h0m-17-250h0m26 42h0m163 179h0m-134-108h0m15-196h0m41 359h0m67-31h0m-85-1h0m-49 46h0m0-346h0m-23 114h0m10-44h0m31-142h0m108 313h0m-52 26h0m-66-194h0m25 14h0m132 246h0m-32-33h0m-3 42h0m-118-88h0m74 42h0m-11 25h0m-34-131h0m26 88h0m-116-140h0m54-201h0m5 231h0m115 87h0m-60-93h0m-22 233h0m-1-190h0m118 86h0m-53-1h0m-83-135h0m125 63h0m-177 88h0m14-285h0m193 264h0m-209 0h0m216 3h0m-68-56h0m-117-239h0m15 21h0m3 274h0m195-30h0m-67-100h0m-101 75h0m-5 6h0m-73-177h0m57 315h0m-76-147h0m122 38h0m40 56h0m-9 30h0m59 10h0m-133-67h0m140-66h0m-149 56h0m123 7h0m-85-32h0m-56-171h0m-16-91h0m155 231h0m-147 77h0m208-72h0m-103 149h0m51-58h0m0-43h0m-60-113h0m-127 52h0m95 30h0m-70-252h0m-2 13h0m152 195h0m-125-179h0m56 163h0m0 101h0m-41-219h0m-82 29h0m60-27h0m144 159h0m-108-64h0m-54 166h0m5-12h0m166-84h0m-176-30h0m188 28h0m18 44h0m-203-219h0m30-109h0m129 271h0m-124 68h0m109 60h0m-45-62h0m-80-203h0m-23-24h0m61 20h0m-2 242h0m-79-254h0m27-62h0m185 348h0m-128-411h0m92 400h0m-120-37h0m103-44h0m49 12h0m-217-126h0m91 164h0m57-154h0m-128 93h0m91-60h0m-96-80h0m117 285h0m-123-239h0m32 187h0m153-51h0m-168-224h0m-32 150h0m99-26h0m2 53h0m-29-159h0m53 166h0m23 73h0m75-157h0m-190-54h0m21-34h0m39 196h0m7-27h0m-19 24h0m3 44h0m-47-249h0m66 159h0m69-37h0m-58 131h0m-52-323h0m98 114h0m-75 16h0m-70 73h0m193 133h0m-91-313h0m-74-80h0m70 356h0m-80-301h0m53 198h0m-47-158h0m56 203h0m107 111h0m-104-69h0m-68-356h0m-9 285h0m31 78h0m147 0h0m-81-149h0m-33 99h0m29-53h0m-80 87h0m184 79h0m-204-268h0m140 190h0m-57 17h0m100-147h0m-127 227h0m-33-305h0m222 245h0m-114 79h0m-46-89h0m-96-217h0m92-124h0m33 358h0m106-45h0m-37-1h0m-189-146h0m125 101h0m7 123h0m-91-297h0m145 174h0m30 37h0m-172 60h0m148-123h0m-17-3h0m-48-18h0m63 194h0m-64-202h0m71 164h0m-151-317h0m130 249h0m-20-4h0m-109 54h0m134-71h0m6 120h0m-171-200h0m180 16h0m-136-81h0m-66-38h0m179 100h0m-44 91h0m7 59h0m20-44h0m-124-233h0m121 325h0m-5-177h0m-38 20h0m-75-136h0m89 232h0m-20-71h0m-73-220h0m-38 73h0m149 175h0m48-15h0m-77-65h0m-14 142h0m-29-67h0m-20 46h0m34 1h0m113 72h0m-45 16h0m-87-45h0m26-69h0m34-22h0m-58-181h0m141 295h0m-153-291h0m79 233h0m-108 8h0m47 65h0m-19-241h0m141 194h0m-143 3h0m-5-263h0m-14 17h0m32 230h0m-14-8h0m208-50h0m-71 87h0m38-153h0m-33 50h0m-131 83h0m1-239h0m-44-17h0m175 171h0m-31-25h0m-159-38h0m217 56h0m-144 10h0m-69-19h0m64-259h0"/>
<path stroke="#fc0c1e" d="m766 298h0m2-3h0m180 7h0m-75 74h0m-590 533h0m208-36h0m-214-192h0m79 48h0m223 95h0m-232-231h0m100 245h0m-214-91h0m1235-391h0m15-18h0m-29-87h0m51 221h0m-71 4h0m-9-207h0m23-14h0m-20 162h0m107 68h0"/>
<path stroke="#dbb2e2" d="m996 505h0m-138-152h0m10-31h0m143 35h0m-130 130h0m-11 19h0m1067 959h0m-36 9h0m133-138h0m-119 113h0m-103-105h0m240 52h0m-146-37h0m-406 278h0m-53 196h0m68 57h0m-73-105h0m177 100h0m-140-168h0m-44-20h0"/>
<path stroke="#149d1f" d="m943 477h0m-354 381h0m109 175h0m-74-114h0m26 22h0m65 99h0m221-147h0m-23-1h0m23 43h0m46 46h0m-53-74h0m-179 156h0m107 27h0m44 63h0m11-193h0m82 108h0m-9-76h0m-110-28h0m8 6h0m62 97h0m-40-92h0m-125 30h0m2 67h0m210-73h0m-61 5h0m-175 43h0m98 77h0m118-39h0m-16-74h0m-29 112h0m-20 16h0m-156-87h0m193-32h0m28-15h0m-199 11h0m99-70h0m39 187h0m103-113h0m-221-11h0m191 112h0m94-40h0m15 28h0m36-70h0m-37-23h0m4 38h0"/>
<path stroke="#7a2eb0" d="m898 528h0"/>
<path stroke="#87ceeb" d="m1942 833h0m-79 50h0m32-131h0m-121-11h0m103 73h0m-125-34h0m280 40h0m-548 235h0m39 27h0m-67-3h0m127 898h0m-70-106h0m-81 25h0m160-71h0m-127-123h0m-22 22h0m203 283h0m-147-84h0m53 6h0m-59-76h0m34-5h0m-74-147h0m34-80h0m-17 345h0m184-84h0m-72-22h0"/>
<path stroke="#fdb550" d="m1562 1010h0m-80-85h0m57 162h0m-93 27h0m32-171h0"/>
</g>
<g stroke-width="18">
<path stroke="#fb9a99" d="m2827 483h0m241-274h0m-273 78h0m42 124h0m-32 61h0m120-161h0m83-31h0m-20-136h0m-79 332h0m15-195h0m-96 185h0m153-269h0m-29 204h0m95-280h0m-84 182h0m-38 15h0m87-107h0m7 90h0m-167 0h0m72-5h0m-108 58h0m145-59h0m-70-49h0m121 25h0m-126-31h0m145 78h0m-39-64h0m-83 195h0m56-274h0m-110 104h0m192-79h0m-204 116h0m92-84h0m-211 165h0m250 5h0m-115-36h0m73-191h0m15 213h0m-101-91h0m-12 50h0m166-114h0m-116 224h0m174-246h0m-103 200h0m-93 53h0m125-124h0m-132-43h0m56-55h0m-29 74h0m4 144h0m-145-44h0m83-97h0m244-101h0m-105-93h0m-158 266h0m60 54h0m157-297h0m23 137h0m-326 113h0m298-224h0m-20 167h0m-139-137h0m94 74h0m-76 188h0m-29 40h0m-38-99h0m177-249h0m-94 73h0m57 161h0m-4-250h0m36 9h0m-170 202h0m234-241h0m-123 221h0m-19 105h0m-122-125h0m247-111h0m26 58h0m-35-54h0m-198 246h0m197-249h0m35 33h0m-228 23h0m78 206h0m14-285h0m114-21h0m-107 14h0m-147 143h0m211-159h0m-115 350h0m25-277h0m52 166h0m-86-110h0m-105 140h0m-17 5h0m106-148h0m-101 150h0m167-84h0m34-134h0m66-116h0m30 74h0m-132 125h0m-124 165h0m233-252h0m-201 258h0m124-24h0m-37-91h0m47-185h0m-137 275h0m48 48h0m71-164h0m-43-58h0m35-5h0m-181 90h0m297-152h0m-224 65h0m-3 199h0m59 21h0m-40-196h0m55-6h0m109-101h0m56-64h0m-237 376h0m-108-133h0m32 32h0m121-130h0m-115 140h0m145-225h0m131-102h0m-17 45h0m-172 374h0m54-148h0m-43-11h0m173-1h0m-79 63h0m-95 16h0m-2 58h0m-113-109h0m240-95h0m-198 116h0m41 20h0m100-1h0m-84 42h0m82 9h0m98-149h0m-12-72h0m-122 33h0m111 56h0m-77-69h0m-151 120h0m96 68h0m-41 5h0m-107-63h0m129-113h0m74 14h0m-62 175h0m185-139h0m-170-15h0m50-22h0m-86-48h0m63 11h0m-25-9h0m-61 127h0m2 52h0m122 36h0m95-251h0m-79 105h0m-105 4h0m3-2h0m-65 164h0m8-78h0m157-91h0m-2 16h0m-121 133h0m221-274h0m-113 116h0m89-94h0m-143 43h0m-102 170h0m65-189h0m67 149h0m139-246h0m-131 87h0m111 66h0m19 3h0m-177 187h0m-55-82h0m223-64h0m-65-173h0m-188 299h0m156-141h0m52-128h0m-165 262h0m130-65h0m-121-133h0m29 196h0m26-219h0m54 189h0m8-23h0m55-93h0m46-40h0m-246 32h0m158-40h0m-126 57h0m150-218h0m-125 190h0m162-12h0m-211 120h0m134-61h0m102-205h0m11 73h0m-253 274h0m100-133h0m-48 112h0m-7 33h0m-17-172h0m-8 23h0m24 98h0m158-101h0m-11-120h0m-66 60h0m12 7h0m-73 111h0m-101-56h0m160-3h0m-97-1h0m-13-17h0m100 28h0m-46 33h0m-112 14h0m158-78h0m39 83h0m-177-89h0m-49 122h0m150-176h0m-81 81h0m-3-15h0m237-156h0m-110 194h0m33-65h0m-147 62h0m14 88h0m67 22h0m-73-60h0m41-104h0m-20 37h0m-15 150h0m71-1h0m-196-105h0m93 16h0m48-97h0m180-202h0m-294 278h0m87-5h0m-29-23h0m282-103h0m-302 222h0m-48-80h0m159 19h0m-98-88h0m15 15h0m62 133h0m79-295h0m84-69h0m-93 130h0m-50 52h0m59 34h0m-131 159h0m42-23h0m-22-221h0m-47 125h0m261-78h0m-161 150h0m54-155h0m91-188h0m-74 185h0m-42 197h0m-72-194h0m36-7h0m-66 171h0m181-31h0m-47-73h0m26 79h0m45-282h0m-89 249h0m18-149h0m13 32h0m14 89h0m-30-140h0m-95 79h0m80 15h0m84-142h0m-173 148h0m119 29h0m-16 15h0m-98-54h0m134-58h0m53 99h0m-33-191h0m-68 192h0m-51 54h0m37-88h0m-96 78h0m-118-19h0m95-28h0m-1 95h0m107 36h0m42-170h0m83-198h0m-29 94h0m-88 158h0m82-179h0m-55 151h0m-143 68h0m180-151h0m-169 91h0m-80 41h0m25 23h0m-3-11h0m173 89h0m-197-109h0m141 76h0m184-220h0m-231 149h0m-82 14h0m202-56h0m65-6h0m-19-171h0m42-54h0m15 119h0m-272 193h0m-17-60h0m97-27h0m100-67h0m-20 213h0m28-222h0m-20 128h0m1-28h0m-97-23h0m187-198h0m-20 3h0m-46 20h0m-22 64h0m-81 78h0m-144 80h0m227-103h0m58-86h0m-70 98h0m-163 68h0m173-116h0m-40-28h0m-75 239h0m109-143h0m18-65h0m-23 54h0m-38 136h0m-46 95h0m129-276h0m-107 259h0m-76-173h0m77 150h0m-41-66h0m64 66h0m141-146h0m-186-32h0m62-58h0m-46 40h0m167 50h0m-232 68h0m17 31h0m108-84h0m4 16h0m70-30h0m-179 106h0m140-202h0m-157 158h0m-12-73h0m107-33h0m-43 159h0m-117-83h0m231-170h0m-88 108h0m-77 61h0m-2-18h0m-66 30h0m89 74h0m-13 0h0m24-112h0m165-165h0m43 15h0m-184 283h0m-15-53h0m171-106h0m47-114h0m-72 72h0m-66 186h0m-154-138h0m189-156h0m23 102h0m-35 59h0m35-69h0m-173 100h0m138 83h0m-162 7h0m138-252h0m148 20h0m-236 241h0m142-111h0m-169-38h0m-91 83h0m321-93h0m-174 112h0m10-134h0m45 82h0m36 52h0m-29-19h0m78-124h0m-239 110h0m298-253h0m-149 86h0m23 102h0m-117 202h0m-63-120h0m21 49h0m-13-40h0m84 79h0m-70-34h0m59 67h0m-55-40h0m-25-24h0m89 17h0m-77-46h0m51 72h0m-63-103h0m-10 46h0m68 23h0m-29-8h0m12 3h0m-38-53h0m75 94h0m-58-79h0m55 60h0m-37 6h0m7-17h0m-21-13h0m32 32h0m-31-43h0m37 20h0m-47-25h0m48 23h0m21 62h0m-97-90h0m39 26h0m67 66h0m-75-127h0m7 59h0m-1-19h0m71 76h0m-83-65h0m-13-19h0m103 85h0m-60-52h0m26 58h0m-1 5h0m30-41h0m-89-73h0m21 62h0m-46-58h0m106 118h0m-81-90h0m-17-32h0m33 47h0m-37-26h0m33 5h0m24 26h0m33 35h0m10 31h0m-37-61h0m-98-89h0m95 64h0m-42-24h0m94 104h0m-100-128h0m76 112h0m46 2h0m-41 23h0m-65-127h0m87 99h0m0 20h0m-23-14h0m8 13h0m-33-25h0m17-23h0m0-22h0m16 76h0m-26-86h0m-3 24h0m-66-26h0m121 53h0m-30 28h0m-60-76h0m47 9h0m29 52h0m-20-16h0"/>
<path stroke="#d1b3da" d="m3211 601h0m70-23h0m-25-29h0m2 81h0m90-70h0m-81 10h0m-51-7h0m53 61h0m26-65h0m-78-4h0m26 124h0m33-137h0m-81 6h0m81 100h0m-56-81h0m31-71h0m59 35h0m-97 52h0m-10 54h0m29-37h0m95-59h0m-9 115h0m-136-93h0m141 13h0m-21 66h0m-109-61h0m90-24h0m32 71h0m-118-65h0m8-15h0m124-5h0m-62 12h0m-96 51h0m46-27h0m-15 51h0m24-51h0m4-2h0m-12-12h0m-11-10h0m7-8h0m-26 13h0m54 48h0m25-49h0m42-24h0m25 59h0m-21 52h0m34-66h0m-117 68h0m68-55h0m-135-3h0m127-17h0m-50-60h0m-47 102h0m81-59h0m0-1h0m3 1h0m-42-61h0m-6-2h0m70 80h0m-67 103h0m95-56h0m-55-71h0m16 64h0m-42-122h0m61 109h0m-29-14h0m-3 11h0m-96-57h0m85 66h0m1-39h0m86 36h0m-32-77h0m-102 35h0m88 21h0m-35 7h0m10 56h0m-29-25h0m-80-63h0m127 10h0m0 71h0m-92-77h0m28 102h0m95-69h0m6 59h0m-99-158h0m-4 16h0m4 105h0m-63 21h0m97-8h0m34 16h0m-23-72h0m-13-28h0m-41 120h0m76-94h0m-61-2h0m-47-39h0m134 0h0m-135 38h0m91 93h0m-18-68h0m-21-6h0m-8-93h0m90 123h0m-98-39h0m26-37h0m25 21h0m26 60h0m-113-91h0m88 81h0m-17 56h0m73-121h0m-31 107h0m-39-104h0m-2 1h0m-33 25h0m90 38h0m-58-36h0m0 72h0m13-84h0m-3 54h0m19-68h0m40-22h0m-101 60h0m80 67h0m4 18h0m-45-75h0m6-87h0m-80 55h0m93 74h0m-33-59h0m47 31h0m22 50h0m-35-14h0m-5-52h0m-92-65h0m-2 104h0m2 1h0m57-70h0m61 86h0m-122-123h0m28 26h0m102 64h0m-62-55h0m-61 19h0m62-28h0m-17 10h0m79 14h0m-56 12h0m77-24h0m-28 42h0m-42-99h0m-70 160h0m148-100h0m-47 59h0m29-104h0m-126 31h0m27 0h0m88 40h0m-106 70h0m58-2h0m-30-49h0m45 17h0m-86-82h0m62 49h0m81-14h0m-106 83h0m24-89h0m-9 16h0m-6 69h0m-48-36h0m42-41h0m-27-8h0m15-4h0m65 63h0m-43-34h0m-57-80h0m74 98h0m-28-98h0m17 57h0m-44-11h0m-31-21h0m91 14h0m-28-2h0m16 39h0m-6-7h0m9 35h0m-10-4h0m22-68h0m62 66h0m-67 17h0m-13-79h0m7 0h0m-25-3h0m-25 16h0m-3 31h0m38-4h0m32-15h0m-46-9h0m36-21h0m-63 101h0m43-66h0m-9-43h0m2 0h0m23 14h0m46 96h0m19-65h0m-41 61h0m-40-101h0m21 22h0m-25 39h0m-8-17h0m-17 8h0m67-31h0m-67 15h0m-5 82h0m51-1h0m-73-40h0m27-15h0m-11 27h0m-2-91h0m89-33h0m-60 108h0m35 12h0m-3-61h0m-55 72h0m14-49h0m60 70h0m-21-94h0m-3 19h0m34 73h0m7-8h0m-58-172h0m-40 64h0m31 9h0m93 11h0m-11 86h0m-99-63h0m52 58h0m-70-109h0m93 46h0m-36-20h0m-12-13h0m-24 84h0m115-2h0m-62-17h0m-56-30h0m8-49h0m-21 68h0m18-22h0m80 0h0m-20 51h0m-27-44h0m-95-3h0m65-27h0m-33 104h0m58-97h0m39 27h0m-115-55h0m122 17h0m-107-11h0m104 8h0m-33 32h0m-39 86h0m49-22h0m-75-66h0m92 13h0m-70-107h0m-24 52h0m57 62h0m25 74h0m10-150h0m-72 19h0m33 78h0m95-5h0m-78-61h0m-12-20h0m-37 15h0m4 0h0m56 9h0m17 21h0m-9-56h0m-72 118h0m59-88h0m-71-25h0m153 50h0m-98-92h0m39 159h0m-48-113h0m50 94h0m-96 18h0m32 9h0m5-122h0m69 130h0m-36-33h0m26-53h0m-46 20h0m-37 70h0m30-79h0m31-15h0m-69 36h0m48 7h0m360-76h0m-19 58h0m43 6h0m139 81h0m-35 47h0m-1-103h0m-50 56h0m-9-145h0m-17 111h0m-38-49h0m66 68h0m65-68h0m-38 61h0m16 0h0m-83 24h0m163-9h0m-145-47h0m-92-117h0m185 135h0m-58 0h0m49 56h0m-31-133h0m-14 66h0m4 27h0m51 19h0m-69-36h0m61 65h0m29-36h0m-84 23h0m-26-69h0m16-42h0m6 72h0m-54-136h0m92 189h0m-32-54h0m63 4h0m-120-43h0m64 101h0m35-123h0m9 53h0m13 9h0m-100-37h0m-64-97h0m-27-5h0m104 130h0m93 27h0m-130-31h0m59-42h0m-44 0h0m12 16h0m72 49h0m-123-51h0m-31-86h0m22 84h0m0-8h0m22-73h0m84 181h0m-157-174h0m57-19h0m24 115h0m-29-35h0m93 30h0m-125-49h0m111 69h0m-85-51h0m12-94h0m8 88h0m85 74h0m19-29h0m-149-75h0m61 100h0m-2-37h0m17 17h0m36-55h0m-13 108h0m-53-145h0m154 144h0m-61 22h0m-54-41h0m7-56h0m45 58h0m27-36h0m-38 41h0m-87-86h0m76 51h0m-27-82h0m-98-17h0m132 59h0m36-18h0m-121-50h0m10 85h0m-17-105h0m-40-10h0m154 140h0m-83-54h0m46 0h0m55 81h0m-32-88h0m-142-52h0m135 131h0m8-86h0m34 12h0m51 90h0m-157-100h0m-29 30h0m28-20h0m99 48h0m-25-20h0m-91-63h0m129 125h0m-42 14h0m61-45h0m-208-100h0m10-3h0m142 122h0m-102-78h0m20-12h0m77 76h0m-102-97h0m48-74h0m84 231h0m-106-170h0m67 134h0m74 12h0m-205-165h0m-21-24h0m172 140h0m-55 3h0m-9-39h0m29-20h0m28-11h0m-145-48h0m201 183h0m-143-199h0m-51 21h0m175 46h0m10 72h0m-137-63h0m134 111h0m0-10h0m-52-116h0m-9 96h0m40 5h0m-41-88h0m-63 28h0m83 69h0m-69-171h0m54 123h0m39 19h0m-133-63h0m35-57h0m-42 30h0m117 56h0m-99-97h0m63 159h0m-7-7h0m54 18h0m-4-108h0m-114-46h0m82 97h0m13-57h0m72 93h0m-28-12h0m-45-2h0m-105-96h0m-14 17h0m112 35h0m10 58h0m-83-169h0m71 86h0m-3 57h0m-26 29h0m-14-145h0m-63 64h0m143 14h0m-129-44h0m139 85h0m-9 9h0m-152-147h0m182 136h0m-198-124h0m123 101h0m-26-6h0m-33-97h0m22 136h0m94 27h0m-175-178h0m96 172h0m27-30h0m-88-114h0m4 51h0m5-57h0m52 144h0m40-37h0m-142-139h0m194 137h0m-76 25h0m-68-113h0m73 18h0m58 95h0m-162-73h0m30-22h0m171 114h0m-127-81h0m123 73h0m-72-36h0m-45 0h0m-74-92h0m8 55h0m27-66h0m135 84h0m-186-101h0m138 58h0m7 22h0m2 89h0m9-15h0m-92-105h0m4 104h0m78-77h0m74 91h0m-173-150h0m6 100h0m1-94h0m-17-10h0m74 105h0m137 40h0m-178-54h0m-25-26h0m79-23h0m19 86h0m-9-55h0m-17 101h0m-30-102h0m107 104h0m-108-33h0m165-9h0m-187-128h0m68 32h0m76 122h0m-167-86h0m-39-25h0m119 20h0m-92-63h0m121 40h0m32 109h0m-199-149h0m182 100h0m-83-25h0m119 45h0m-28-4h0m-19 48h0m-72-52h0m-40-52h0m-9-47h0m85 56h0m90 68h0m-210-112h0m147 58h0m14 85h0m-111-189h0m48 92h0m105 41h0m-64-9h0m-16 34h0m36 19h0m-139-145h0m224 105h0m-140-116h0m77 199h0m28-39h0m-131-70h0m-2-10h0m-46-47h0m16 9h0m-18-17h0m176 136h0m-203-135h0m121 124h0m12 42h0m-114-156h0m161 141h0m-21-34h0m-53 4h0m82 14h0m-96-67h0m-41-29h0m80 86h0m-15-38h0m-11-2h0m47 13h0m-94-104h0m47 83h0m-69-43h0m176 61h0m-47 9h0m29 29h0m-24-41h0m-25-16h0m-116-68h0m24 69h0m26-26h0m-36-44h0m-4-1h0m4-21h0m142 87h0m-188-107h0m58 78h0m108 71h0m-86-20h0m25-9h0m60-25h0m-91-121h0m-12 27h0m69 109h0m-88-22h0m6-40h0m-47-55h0m227 170h0m-38-4h0m2-33h0m-142-33h0m0-112h0m-12 10h0m118 191h0m-135-117h0m175 43h0m-19-55h0m-33 56h0m-112-56h0m74 55h0m45-5h0m36-29h0m-107-36h0m98 125h0m-116-102h0m32 2h0m-25 37h0m23 56h0m92 41h0m-42-137h0m-101 39h0m173 24h0m-151-38h0m169 60h0m-54-15h0"/>
<path stroke="#ff7f0e" d="m3393 573h0m-12 3h0m6 8h0m9-17h0m829 145h0m-145-24h0m110-77h0m29 127h0m-121-56h0m102-30h0m-86-27h0m110 2h0m-143 68h0m90-66h0m46 51h0m23 16h0m7-1h0m-26 99h0m-129-71h0m123 102h0m38-184h0m-119 95h0m89-24h0m-54 115h0m17-149h0m54 49h0m-77-79h0m76-19h0m-72 54h0m-53-79h0m100 2h0m-94 71h0m8 103h0m21-138h0m-59 78h0m96-14h0m-63-26h0m31 125h0m56-97h0m28-57h0m35-17h0m-53-6h0m-20 75h0m35-29h0m-130-27h0m133-14h0m-63 3h0m32-8h0m-27 78h0m34 4h0m-113 22h0m59-36h0m44-38h0m-52 54h0m80-3h0m14 83h0m-80 38h0m64-113h0m-139-4h0m40-72h0m23 18h0m11 10h0m89 26h0m-91-56h0m55 72h0m-54-24h0m38 33h0m23-18h0m9-78h0m-45 66h0m20 35h0m-15-94h0m-9 20h0m26 149h0m59-114h0m-44 4h0m-112 106h0m80-113h0m7-89h0m17 91h0m-55 31h0m-4-101h0m-33 83h0m78 19h0m-8-112h0m-95 4h0m109 97h0m49-5h0m-46-59h0m19 121h0m-117-157h0m75 227h0m-68-225h0m59 115h0m18 94h0m45-136h0m-50-39h0m-52-2h0m-5 109h0m84-20h0m-74 89h0m55 20h0m-91-231h0m13-4h0m-8 123h0m92 91h0m12-103h0m11 57h0m-66-129h0m-42 88h0m69-104h0m32 173h0m46-130h0m-107 144h0m-69-131h0m13 10h0m76-58h0m71 45h0m-42 20h0m-5-85h0m-44 66h0m-2-42h0m35 75h0m-14 99h0m-41-206h0m-23 105h0m38-5h0m100-12h0m-46-80h0m-12 76h0m-4-77h0m-60 54h0m8 40h0m46-43h0m-102 31h0m15 75h0m117-52h0m47-7h0m-61-49h0m-103 37h0m112-54h0m12 13h0m-96 97h0m79-80h0m8 153h0m-9-200h0m-8 41h0m-82 88h0m98-60h0m-109-77h0m99 51h0m-10-12h0m-70-8h0m4-28h0m-32-5h0m7 93h0m125-73h0m-7 90h0m-6-96h0m-71 5h0m100 97h0m-148-44h0m156-7h0m-98-48h0m-61 68h0m63-65h0m-51 23h0m53 65h0m29-14h0m-48-86h0m119 41h0m-78 33h0m-56 98h0m81-191h0m-46 75h0m15-75h0m54-9h0m-106 114h0m80 115h0m-59-187h0m78-8h0m-52-32h0m-86 124h0m113-31h0m-108-28h0m104 25h0m18-43h0m-5-4h0m-29 60h0m44 2h0m-86-59h0m36 42h0m6 21h0m95-9h0m-179 32h0m155-11h0m-47-7h0m-3-9h0m-59 28h0m1-43h0m-14 95h0m83 23h0m-118-80h0m129-114h0m-98 37h0m-34 82h0m144-38h0m-36 7h0m20 96h0m-14 21h0m-74-211h0m71 95h0m8-82h0m-18 174h0m-75-188h0m16 29h0m22 87h0m-17-40h0m-2-49h0m60 69h0m14-23h0m-108-50h0m20-15h0m95 86h0m22 110h0m-37-110h0m64-4h0m-64-90h0m24 127h0m-1-28h0m13 16h0m-38 104h0m-7-212h0m31 199h0m-17-94h0m-99 37h0m145-92h0m-49 172h0m-3-7h0m8 1h0m-102-83h0m98-36h0m18-41h0m-64-5h0m66 102h0m-105 29h0m88-191h0m-13 111h0m-8 124h0m-47-168h0m13-31h0m-27 33h0m71 143h0m-55-93h0m4-93h0m-58 93h0m95 112h0m27-45h0m-14-179h0m-19 114h0m-6-116h0m-38 23h0m92 157h0m-13-136h0m-20 28h0m-20 118h0m50-97h0m-104-79h0m-6 5h0m97 121h0m14-116h0m-44-3h0m4 68h0m23-51h0m58 82h0m-124-63h0m84 29h0m-20 114h0m-64-65h0m48 99h0m-41-198h0m-7 100h0m79-65h0m-132 26h0m174 12h0m-67-88h0m36 181h0m-17-79h0m-64-34h0m13-51h0m24 20h0m3 157h0m27-27h0m4-104h0m-66 13h0m78-4h0m42-43h0m-178 77h0m87 75h0m-12-179h0m-48-23h0m54 113h0m-28-68h0m-40 41h0m23 34h0m84-50h0m-97-62h0m74 90h0m40 107h0m-35 13h0m-9 8h0m-72-62h0m1-82h0m-4 47h0m82-112h0m7 100h0m18 88h0m-35 7h0m-69-42h0m85-175h0m-34 33h0m96 88h0m-130 8h0m-37-17h0m42 16h0m104 39h0m-105 13h0m61-96h0m-26-44h0m-63 114h0m20 32h0m86-159h0m-22 37h0m25 45h0m-127-3h0m49-2h0m20-14h0m2-77h0m30 199h0m-74-185h0m139 92h0m-156-87h0m77 42h0m20 24h0m14 50h0m-119-36h0m128-16h0m-50-61h0m-45 30h0m-17-54h0m120 162h0m-81-170h0m66 44h0m-117 53h0m112 17h0m-1 94h0m25-184h0m19 24h0m-80-3h0m74-44h0m-38 55h0m28 135h0m-120-67h0m56-12h0m-16-55h0m26-67h0m-93 110h0m136 7h0m-69-65h0m-20 7h0m61 54h0m-1-37h0m-57 28h0m69-24h0m24-12h0m-30-9h0m26-42h0m-8 171h0m-45-79h0m-19 27h0m-17-67h0m50 153h0m-35-88h0m47-18h0m51-55h0m-110-17h0m60-35h0m-6 96h0m6 14h0m-25-20h0m22-66h0m30 54h0m-2-30h0m-11 72h0m-119 20h0m43-87h0m33 54h0m7-1h0m0 121h0m35-148h0m-111 83h0m28-130h0m136 30h0m-122 151h0m48-168h0m4 54h0m5 11h0m37-23h0m16-19h0m-81-19h0m31 63h0m13 78h0m-12-57h0m-107-88h0m101 70h0m-25 110h0m-4-233h0m56 92h0m-130 6h0m64 86h0m43-70h0m-50 16h0m-23 29h0m63-49h0m31-49h0m-30 46h0m-86-78h0m5 9h0m115 183h0m49-161h0m-87-13h0m33 76h0m-90 64h0m122-100h0m-29 110h0m-27-108h0m-56-91h0m61 110h0m-113-101h0m146 82h0m-24-37h0m13 151h0m-26-85h0m34 0h0m3 10h0m-48 35h0m-11-137h0m-83 111h0m144 18h0m-108 51h0m58 36h0m35-47h0m-33-97h0m-63 58h0m91-70h0m-10-17h0m-32 168h0m11-1h0m-55-40h0m83 22h0m-118-125h0m123-3h0m-1 9h0m-127 5h0m59-44h0m-49-29h0m65 5h0m32 4h0m152 386h0m60 17h0m2-25h0m-67 58h0m-11-31h0m65 29h0m-50-8h0m62-28h0m-82-3h0m96-12h0m-37-15h0m38 19h0m-93 52h0m63-33h0m65-28h0m-35 7h0m-58 27h0m42-54h0m15 29h0m4-20h0m-62 28h0m22-7h0m36 6h0m-12-34h0m-47 60h0m52-26h0m16-17h0m-45 34h0m34-35h0m-97 24h0m105 6h0m-90-15h0m37 26h0m56-59h0m34 39h0m-51 17h0m-24-20h0m-45 14h0m77-25h0m49 17h0m-74-31h0m-49 13h0m41 12h0m-45 1h0m45-4h0m7-1h0m34-35h0m-37 23h0m-62 63h0m7-23h0m-6-13h0m24 40h0m18-35h0m27-9h0m16 2h0m36-23h0m-55 24h0m21-25h0m-33 2h0m-39 17h0m97-27h0m-80 66h0m48-45h0m37-38h0m-118 54h0m134-22h0m-45 1h0m-1-7h0m7-17h0m41 29h0m-17-14h0m-57 36h0m29-59h0m-10 9h0m-25 17h0m33 23h0m18-35h0m-9 22h0m-47 9h0m-37 15h0m62-1h0m-72 14h0m132-58h0m-63 55h0m-34-40h0m-24 66h0m106-63h0m1-20h0m-35 50h0m43-52h0m-116 54h0m-9-17h0m81-43h0m-98 59h0m2-25h0m75 0h0m-34 29h0m-9-35h0m67 0h0m-44 30h0m3-24h0m85-39h0m-78 69h0m3 4h0m63-59h0m3 29h0m-54-16h0m-29 38h0m84-45h0m-118 32h0m113-7h0m-110 20h0m61 7h0m-75-27h0m0 34h0m132-51h0m-14-12h0m-15-1h0m8 6h0m-76 60h0m78-76h0m-5 40h0m28-42h0m-10 43h0m-120 17h0m96-47h0m-18 34h0m-32-38h0m-245 324h0m3 44h0m-37-13h0m-18 34h0m19 3h0m-41-41h0m47 7h0m73 11h0m-75-10h0m96 10h0m-101-12h0m2 2h0m-8 4h0m48-2h0m66-12h0m-101 35h0m26-48h0m23 59h0m43-75h0m-41-6h0m-69 37h0m45-14h0m45-23h0m-10 50h0m-53-22h0m10 75h0m-49-23h0m29-25h0m18-5h0m51-51h0m-106 36h0m12 19h0m13 28h0m31-73h0m56 20h0m-63 27h0m0-46h0m84 39h0m-129 33h0m37 5h0m-4-46h0m36-48h0m-38 105h0m82-46h0m-52 22h0m52-5h0m-107-35h0m37 55h0m28-33h0m6-20h0m-42 26h0m-35-33h0m28 6h0m-17 15h0m-26 2h0m60 33h0m-19-8h0m11 11h0m90-41h0m-82 22h0m9 3h0m-40 10h0m57-57h0m-59 12h0m38 17h0m2 10h0m-29 26h0m20-53h0m63-53h0m-111 74h0m2-16h0m32 24h0m11-28h0m-43 25h0m57-35h0m-22 4h0m6 30h0m-14-25h0m7 16h0m68-15h0m-83 17h0m34 10h0m-1-29h0m66-46h0m-71 13h0m14-1h0m-17 59h0m-46 21h0m124-71h0m-58 81h0m-5-63h0m-33 44h0m14-12h0m-23 21h0m0-45h0m22 11h0m38 38h0m-4-12h0m-30-66h0m4 9h0m37 41h0m1-63h0m-22 21h0m-26 38h0m-28-14h0m-22 6h0m87-19h0m-5 47h0m-15-52h0m-56 20h0m56-2h0m-26 21h0m-35 19h0m-2-32h0m14 17h0m57 4h0m59-76h0m-58 96h0m-14-2h0m44-94h0m-35 53h0m81-32h0m-17 17h0m-79-20h0m-28 50h0m58-2h0m30-13h0m-39-40h0m-44 31h0m58 20h0m-20 32h0m65-67h0m1-30h0m-92 44h0m69-30h0m-68 12h0m0 28h0m53 25h0m-100-28h0m20 4h0m79 4h0m-52-27h0m-26 69h0m20-57h0m-19 31h0m60-11h0m-46 7h0m85-28h0m-57 47h0m3-83h0m56 51h0m6-58h0m-11 40h0m-34-39h0m-1 77h0m60-54h0m-94 64h0m67-34h0m-10-31h0m-30 65h0m-65-27h0m142-34h0m-124 54h0m44-43h0m-24-16h0m40-6h0m-36 51h0m-20-14h0m82-83h0m9-5h0m-23-7h0m5-7h0m11 3h0"/>
<path stroke="#6f35a0" d="m2921 834h0m32-35h0m-1-17h0m-112 1h0m91 18h0m-60-26h0m21 22h0m-69-24h0m2 18h0m101 42h0m-78-76h0m92-17h0m-21 50h0m-86 30h0m18-10h0m-16 23h0m111-26h0m-63 5h0m30-29h0m-44 29h0m-38-5h0m-1 41h0m-6-68h0m105 5h0m-39 66h0m3-88h0m44 50h0m-119 28h0m66-95h0m33 54h0m-110 27h0m76-87h0m7 27h0m-25 18h0m-82-4h0m17 60h0m67-31h0m26-22h0m-31-8h0m49 47h0m-81 10h0m21-45h0m-6 30h0m52-42h0m-71 59h0m76-91h0m-50 43h0m100-51h0m-66 3h0m-15 61h0m71 7h0m-121-37h0m66 37h0m22 26h0m-24-50h0m-43 43h0m-11 2h0m71-49h0m-72-31h0m20 6h0m49 70h0m11-10h0m-9 27h0m-36-80h0m47 32h0m-38 32h0m28 16h0m-79-24h0m44 39h0m-64-94h0m47 31h0m47-52h0m-2 27h0m-9 73h0m17-54h0m-75 15h0m-20 37h0m19-63h0m27 58h0m109-18h0m-78 10h0m68-49h0m-68-40h0m-59 47h0m62-18h0m-7-11h0m75 4h0m-15 6h0m-146 36h0m43-14h0m87-30h0m7 39h0m-4-16h0m-70-12h0m94 16h0m-51 52h0m-34-94h0m20 48h0m40-15h0m-98 42h0m15-11h0m19 8h0m61-7h0m-48-69h0m-32 25h0m55 50h0m-37-19h0m52 20h0m27-44h0m-18 60h0m-90-4h0m68-7h0m17-72h0m-33 40h0m-20-17h0m20 48h0m-28-11h0m77 30h0m-115-14h0m80-68h0m-31 3h0m-11 40h0m-46 1h0m78-68h0m-12 68h0m-14 42h0m-52-88h0m-13 46h0m43 36h0m89-88h0m-105 21h0m83 32h0m18 38h0m-8-99h0m-4 50h0m6-27h0m-70 5h0m4 58h0m7 6h0m76-44h0m-80-6h0m55 59h0m-69-48h0m20-29h0m23 20h0m-20-32h0m37 37h0m7 35h0m14-67h0m-93 83h0m-28-33h0m62-14h0m-11 26h0m90-46h0m-52 27h0m-53 25h0m17-46h0m76-23h0m-44 82h0m-60 3h0m118-28h0m12-27h0m-103 41h0m67-52h0m-53 45h0m-10-74h0m57 59h0m-47-26h0m11-39h0m-11 38h0m-71 2h0m-4 18h0m125-26h0m-33 0h0m61 14h0m-125-18h0m94 44h0m-107-35h0m51 16h0m26-58h0m31 60h0m37-36h0m-37 87h0m15-81h0m-14 50h0m-51 17h0m-77-53h0m49 10h0m45-44h0m7 55h0m-55 9h0m6-3h0m58 29h0m-58-5h0m38-51h0m-32-26h0m72 79h0m-65-38h0m87 36h0m-56-53h0m6 70h0m-46-55h0m6 43h0m108-88h0m-88 6h0m-39 34h0m89 4h0m-44 19h0m-39-15h0m52-65h0m32 112h0m-15-26h0m-6-50h0m34-8h0m-9-18h0m-84 56h0m43 45h0m69-94h0m-94 90h0m-41-22h0m88-9h0m-53-26h0m24-29h0m-7 78h0m-46-8h0m69-34h0m60 19h0m324 180h0m-2 2h0m9 1h0m564 767h0m-16-101h0m-13 102h0m-151-26h0m178 53h0m-71-125h0m-43 158h0m-67-135h0m33 26h0m158 56h0m-155 18h0m80-46h0m39-46h0m-116 60h0m82 5h0m-69 48h0m135-19h0m-217-92h0m200 86h0m-67-65h0m8 36h0m-69-16h0m-69-51h0m86-15h0m62 79h0m-46-103h0m164 115h0m-210-58h0m-76 81h0m199-30h0m-200-38h0m55 17h0m45-28h0m-105 67h0m257 31h0m-142-184h0m147 107h0m-221-43h0m109-29h0m17 10h0m-91 120h0m11-106h0m92 93h0m-141-88h0m60 76h0m88-60h0m35-79h0m-126 216h0m-57-96h0m95-6h0m94 54h0m-57-164h0m-41 90h0m-32 32h0m132 23h0m-178-98h0m29 71h0m-17-8h0m27-71h0m99 92h0m-61 6h0m-30-6h0m68-107h0m1-44h0m81 148h0m-35-137h0m-54 131h0m-77 9h0m16-17h0m-12-3h0m184-4h0m-107 58h0m-84-71h0m-22 41h0m195-26h0m18-2h0m-196-37h0m177-50h0m-189 38h0m56 88h0m45-104h0m32 98h0m-26-21h0m-38-124h0m-57 85h0m35-19h0m0 0h0m131 7h0m-136 62h0m-88 45h0m58-145h0m203 125h0m-96-63h0m110 50h0m-211-63h0m14-54h0m-80 85h0m21 24h0m59 30h0m157 40h0m-208-69h0m-15-81h0m233 134h0m-144-65h0m60-156h0m-55 229h0m-111-68h0m22-58h0m27 18h0m80 82h0m-34-23h0m-13-126h0m-35 103h0m126 28h0m-183-61h0m281 89h0m-133-55h0m36 58h0m42-119h0m3 60h0m-174-6h0m-15 4h0m142 81h0m20-29h0m-53-82h0m-58 26h0m11-47h0m79-94h0m50 179h0m-127-80h0m139 34h0m-76-122h0m110 186h0m-32-83h0m-183-59h0m122-54h0m-77 75h0m92 102h0m-111 3h0m84-114h0m21 103h0m36-93h0m55 89h0m-87-100h0m-26 78h0m-118-43h0m143 77h0m-62-150h0m-49 44h0m183 84h0m-142-121h0m140 108h0m-152-91h0m-14 147h0m142-165h0m27 102h0m-140 60h0m101-153h0m-28 34h0m-39 75h0m62-112h0m47 82h0m12 1h0m-242-79h0m105-16h0m-122 59h0m208-4h0m-65 74h0m113 28h0m-145-145h0m-55 82h0m173 25h0m-44 39h0m-24-39h0m-87 27h0m156-43h0m-160 44h0m8-12h0m-39-27h0m39 30h0m130-3h0m-194-25h0m215 58h0m-52-138h0m-187 33h0m219-8h0m5 121h0m-80-163h0m10 100h0m-40 65h0m-90-69h0m42-41h0m-52 45h0m68 24h0m15-139h0m128 80h0m-153 10h0m89-35h0m17-36h0m-27 91h0m-69 37h0m140-14h0m-180-10h0m97-81h0m111 52h0m-183-60h0m110 45h0m-63 127h0m-35-133h0m79 40h0m100-14h0m-62-72h0m-168 158h0m48-151h0m-20 60h0m-16 25h0m186-70h0m18 121h0m-174-82h0m65 110h0m-69-191h0m181 93h0m-13 86h0m-46-170h0m-17 9h0m-126 96h0m149 6h0m20 4h0m-193-50h0m195 27h0m-207 20h0m138-14h0m9 21h0m-84 12h0m80-23h0m-30-68h0m135 60h0m2-29h0m-138 60h0m76-95h0m16 21h0m-106-53h0m-16 6h0m-82 111h0m82 61h0m44-205h0m-72 120h0m62 53h0m109-107h0m-51 97h0m-94-169h0m2 176h0m-36-38h0m38-72h0m-7-24h0m12 135h0m130 29h0m-41-56h0m-128-104h0m152 65h0m-26-113h0m-11 188h0m-153-116h0m182 25h0m-34 50h0m-158 16h0m26-15h0m91-74h0m61 59h0m-10 35h0m-92-151h0m-66 91h0m194 103h0m-208-91h0m5 42h0m92-139h0m-83 35h0m38 37h0m121-57h0m64 53h0m-33 6h0m23 89h0m-91 1h0m85-6h0m-90-24h0m55-4h0m69 10h0m-51-32h0m-6 13h0m7-83h0m-154 43h0m99 30h0m-79-69h0m129-60h0m42 126h0m3 5h0m-105-120h0m77 141h0m-169 40h0m204-62h0m1 48h0m-224-42h0m223 23h0m-247 3h0m64 24h0m167-62h0m-132-73h0m31-13h0m109 51h0m-130-39h0m-27 110h0m147 28h0m-175-119h0m156 95h0m-147 0h0m186-75h0m-25-46h0m-92 133h0m-58-40h0m8-5h0m131 12h0m-206 48h0m64-109h0m-7 68h0m128 18h0m-1-87h0m-48 16h0m-25 77h0m-53-90h0m127 98h0m15-141h0m-114 139h0m111-151h0m-55-48h0m-77 205h0m127-157h0m-116 177h0m4-11h0m39-58h0m76-12h0m-78-91h0m-15 142h0m74-50h0m-128-40h0m-31 49h0m-12-78h0m233 59h0m-1 36h0m-42-74h0m-100-25h0m163 94h0m-262 11h0m18-27h0m134-3h0m59-42h0m-144-78h0m175 153h0m-183-125h0m96 24h0m92 119h0m-212-149h0m112-48h0m-9 14h0m97 145h0m-209-28h0m-5 28h0m173 5h0m34-43h0m-40-87h0m-104 173h0m117-36h0m-65-22h0m71-36h0m-154 121h0m34-178h0m-98 148h0m-2-64h0m179-90h0m38 88h0m1-60h0m-179 51h0m169-33h0m-11-69h0m-6 134h0m-157-82h0m222 38h0m-124-40h0m-100 30h0m100 93h0m-98-103h0m166-47h0m-69 50h0m-29 102h0m-15-142h0m76 109h0m-130-39h0m-26 46h0m29-68h0m169 106h0m56-72h0m-77-70h0m74 123h0m-4-32h0m-57-77h0m-97 99h0m-6-108h0m127 10h0m43 65h0m-188-103h0m127 103h0m18 3h0m-142-74h0m120 38h0m-65-71h0m32-23h0m-129 31h0m157 57h0m4-67h0m61 128h0m-7 54h0m-248-115h0m134 68h0m-6-76h0m-127 89h0m160-172h0m-41 162h0m16 12h0m-98-122h0m16 77h0m129-144h0m-22 169h0m-127-52h0m-3-41h0m-11-21h0m18 84h0m218 11h0m-17 41h0m-180 26h0m-77-37h0m59-57h0m170-6h0m-40 44h0m-9-9h0m27 20h0m30-21h0m-145-118h0m129 53h0m-64 93h0m-54 49h0m115-180h0m12 55h0m-101-55h0m16 144h0m-57 27h0m197-90h0m-129-49h0m-19 76h0m55-147h0m-111 211h0m142-119h0m-43 54h0m-13-74h0m-70-43h0m-23 43h0m21 17h0m-61 22h0m211 29h0m-116 50h0m-31-121h0m74 45h0m-134-52h0m76 161h0m108-182h0m-41-48h0m65 84h0m5 60h0m22 71h0m-203-58h0m23-74h0m152 21h0m29 100h0m-96-155h0m10 49h0m2-79h0m88 98h0m-57 54h0m2-143h0m-23 76h0m-55-51h0m68-23h0m-53 114h0m-29-135h0m-40 159h0m130-79h0m-44 50h0m-150-40h0m129 39h0m-155 40h0m43-57h0m51-52h0m10 75h0m-70-28h0m46-8h0m152 27h0m-79 53h0m-72-40h0m125 18h0m-141-36h0m197 17h0m-196-9h0m9-38h0m105-93h0m47 65h0m-17-38h0m-125 28h0m-85 118h0m104 0h0m101-153h0m67 111h0m-56 41h0m-40-141h0m-67 63h0m-12-37h0m25 87h0m83 21h0m-61 24h0m-101-84h0m33 8h0m147-76h0m-173-8h0m92 95h0m-90-85h0m123-32h0m-23 89h0m-14-56h0m-47 120h0m182 12h0m-251-110h0m111 93h0m-87-18h0m129-156h0m-15 59h0m-84 29h0m202 4h0m-56 74h0m-103-112h0m-37 131h0m143-103h0m9 67h0m6-38h0m-100 81h0m12-48h0m-96 63h0m70-3h0m79-5h0m-143-132h0m5 21h0m15 29h0m-74-13h0m110 13h0m-104-26h0m206 2h0m-5-29h0m32 130h0m-106-181h0m102 193h0m-150-26h0m174 49h0m-151-67h0m44-162h0m83 162h0m-159 16h0m143 14h0m-142 37h0m-68-35h0m65-21h0m131-107h0m48 165h0m17-47h0m-159-145h0m-86 40h0m84 140h0m-19-51h0m74 11h0m-5-29h0m-39 60h0m-113-77h0m51 8h0m162-113h0m-102 48h0m5 117h0m-48-82h0m4 56h0m68-166h0m114 207h0m-156-74h0m-95 2h0m3 34h0m24-38h0m42 109h0m-66-71h0m-18 24h0m188-189h0m-188 138h0m136 25h0m-64-12h0m-50-21h0m114 11h0m71-99h0m53 52h0m-100 73h0m14-31h0m-80-61h0m0-2h0m99-70h0m75 219h0m-228-182h0m29 168h0m3-82h0m114 9h0m-102 100h0m196-103h0m-67-98h0m-110 40h0m-31 122h0m53-180h0m23-11h0m116 132h0m-101 29h0m107-52h0m-56 37h0m27-86h0m-125 140h0m158-90h0m-33 107h0m-234-39h0m86-35h0m-25 5h0m144-37h0m-91-27h0m-16-69h0m31 15h0"/>
<path stroke="#a3dc84" d="m2521 938h0m-42 139h0m-102-38h0m65 56h0m4-104h0m58 4h0m40 41h0m-57-133h0m-133 18h0m90 170h0m-67 128h0m5-198h0m93-191h0m-11 390h0m0-298h0m-15-110h0m-44 351h0m82-207h0m-100 75h0m111 31h0m-6-113h0m-90 225h0m-86-287h0m65 299h0m0-18h0m-2-173h0m19-65h0m118 58h0m-69 112h0m-20-72h0m17 150h0m-15-340h0m-64 195h0m190-20h0m-118 9h0m-42-7h0m24-130h0m-16 342h0m83-199h0m-90 32h0m46-48h0m-52-144h0m35 29h0m-80 156h0m65-36h0m-42 216h0m15-200h0m-27-122h0m82 238h0m-5-114h0m-63-58h0m98-155h0m-47 202h0m19-160h0m8 233h0m-40-150h0m2 344h0m142-355h0m-132 236h0m-37-319h0m1 93h0m21 266h0m-41-207h0m1-43h0m160-62h0m-80 12h0m47 75h0m-77 24h0m33-51h0m-36-90h0m17 77h0m112 59h0m-101-2h0m47-194h0m-122 205h0m99 3h0m-114-72h0m97 13h0m-3 286h0m25 9h0m12-407h0m67 161h0m-84 147h0m-8-358h0m-47 43h0m-20 151h0m-30 165h0m168-196h0m-110 281h0m111-250h0m-43-138h0m-71 375h0m-41-295h0m108-7h0m-57 151h0m-77-65h0m87-57h0m-32 266h0m-11-46h0m70 66h0m-9-386h0m2 214h0m-8-106h0m-63-75h0m40 125h0m38-86h0m22 284h0m-7-359h0m-53 188h0m12-220h0m93 169h0m-143 141h0m31 158h0m88-344h0m-53-24h0m-53 226h0m18 150h0m-32-144h0m-27-66h0m22-55h0m-2 16h0m-6 9h0m-6-63h0m157-24h0m-95 30h0m124-29h0m-149 165h0m33-46h0m-80-45h0m-8-41h0m68 162h0m7-244h0m-16-28h0m59 173h0m-76 90h0m3-182h0m55 294h0m-70-402h0m-2 78h0m108-97h0m-24 81h0m-47 368h0m122-336h0m-66 32h0m-92-113h0m70 314h0m29-304h0m-147 6h0m4 114h0m59 17h0m61-38h0m11 191h0m-96 88h0m76-358h0m-36 187h0m-24-199h0m97 270h0m-28-219h0m-123 43h0m140 0h0m9-162h0m-46 2h0m37 240h0m13 147h0m-51-213h0m-29 145h0m91-196h0m-31 125h0m-105-191h0m156 166h0m-32 31h0m-61-198h0m55 251h0m-127-49h0m20-84h0m-43-81h0m165 43h0m-96 331h0m71-87h0m26-120h0m10-233h0m-146 84h0m89 51h0m19-44h0m7-4h0m-17 16h0m12 221h0m-42-363h0m127 132h0m-76 106h0m-131-60h0m18 41h0m-3 99h0m31-23h0m85-290h0m-46 268h0m-52-82h0m30-107h0m84-61h0m42 115h0m-148 162h0m109-249h0m-104 127h0m-4 54h0m11 89h0m43-337h0m-30 384h0m45 70h0m-104-241h0m32 260h0m69-463h0m35 201h0m-49-94h0m52 148h0m-66-60h0m-49-82h0m57 62h0m-16-110h0m-18 130h0m81-162h0m-90 357h0m60 17h0m92-283h0m-63 278h0m60-244h0m-84-153h0m25 111h0m-77 27h0m81 237h0m-57-134h0m-53 105h0m127-208h0m-107 26h0m79-121h0m-87 413h0m14-373h0m61 27h0m37 102h0m-49 181h0m8-222h0m32-55h0m-69 125h0m-8-44h0m11-52h0m52 271h0m-75-238h0m14 52h0m5-61h0m-49-62h0m3 26h0m129 15h0m-106 91h0m-35-33h0m18 211h0m40-43h0m59-204h0m-98-51h0m100 1h0m26-92h0m-13 7h0m-21 371h0m-2-254h0m21 73h0m-114 22h0m35-55h0m68-30h0m-58-115h0m41 176h0m-27-135h0m8 240h0m39-101h0m-116-102h0m137 105h0m-72 130h0m7 36h0m35-234h0m-124-98h0m140-40h0m-43 67h0m88 74h0m-106-177h0m-27 141h0m-12-8h0m80 9h0m-9 26h0m12 103h0m-97 160h0m35-396h0m18 354h0m-51-209h0m186 13h0m-94 214h0m-48-35h0m86-227h0m-7 116h0m-79-200h0m78 12h0m57 147h0m-105 221h0m-81-223h0m184-29h0m-145 21h0m70-90h0m6 35h0m-17 265h0m-86-304h0m49-25h0m33 167h0m5 20h0m-50-204h0m25 51h0m-92-15h0m67 193h0m-5-17h0m-31-105h0m91 101h0m-42-104h0m-37-64h0m2 267h0m23 2h0m-9-351h0m-31 63h0m129-46h0m-174 20h0m21 82h0m55 90h0m58-58h0m-122-74h0m-27-27h0m159 137h0m-50-50h0m33 142h0m-88-113h0m93-186h0m-82 357h0m9-118h0m-17-68h0m1 284h0m-18-276h0m88-56h0m-49 354h0m-11-103h0m-11-243h0m-45-71h0m165 318h0m-131-206h0m79-137h0m54 131h0m-39 4h0m88 8h0m-102-18h0m10 233h0m-67-226h0m-29-96h0m74 403h0m-43-283h0m16-197h0m57 176h0m38-136h0m-38 322h0m-42-125h0m-47-126h0m19 110h0m79-79h0m7 87h0m-23 73h0m-47 67h0m81-231h0m56 4h0m-62-3h0m-38 4h0m105-14h0m-74 235h0m-45-318h0m-29 291h0m74-149h0m-53-28h0m25-74h0m-41-18h0m123 140h0m-98-140h0m-39 164h0m23-8h0m-56-170h0m61 107h0m105-7h0m25-2h0m-168 78h0m18 194h0m-39-213h0m47 12h0m18-32h0m49 147h0m9-42h0m-68-213h0m16 112h0m24 224h0m-32-343h0m77 100h0m-85 6h0m60-24h0m-71 249h0m-2 31h0m-81-335h0m39 29h0m114 138h0m-85 103h0m49-273h0m-4 287h0m-8-102h0m34-149h0m-99 6h0m177 99h0m-208-158h0m145 49h0m-142-17h0m52 111h0m173-23h0m-222-132h0m53 33h0m-34 144h0m40 113h0m25 104h0m11-389h0m7 13h0m-38 241h0m-42-23h0m112 82h0m-40-346h0m94 162h0m1-1h0m-127 148h0m136-177h0m-193-121h0m119 109h0m-35 27h0m43 132h0m-51-319h0m11 259h0m105-136h0m-163 7h0m117-8h0m-122-61h0m121 78h0m-104-3h0m-34-25h0m134 274h0m71-176h0m-56-183h0m-102 199h0m41-64h0m-56 251h0m36-144h0m-17-236h0m2 387h0m-8-36h0m-22-261h0m109 264h0m-54-50h0m-86-218h0m154 50h0m-147-58h0m172 40h0m-151 55h0m2-86h0m44 77h0m10-190h0m-24 383h0m-15-194h0m7 5h0m25 117h0m28 58h0m-83-180h0m4-73h0m6 95h0m24 132h0m-28-152h0m4-66h0m3-79h0m9 431h0m28-141h0m-64-257h0m10 142h0m-3-129h0m82 171h0m67-105h0m47-12h0m-71-64h0m-71 327h0m68-89h0m-26 109h0m33-398h0m-101 200h0m51-114h0m5 300h0m-29-89h0m26 17h0m110-188h0m-162 48h0m169-16h0m-164-14h0m100-186h0m-62 284h0m-50 158h0m13 59h0m78-327h0m-96 230h0m44-140h0m51 49h0m13-34h0m-67-27h0m-44 210h0m-44-385h0m-5-2h0m144 245h0m-86-272h0m84-52h0m-23 81h0m-49 314h0m108-354h0m-85 73h0m83 25h0m-148-12h0m71 79h0m-80-28h0m100-75h0m9-5h0m-69 12h0m-28-25h0m4 175h0m54 105h0m54-178h0m58 10h0m-53 74h0m4 111h0m-81-264h0m151 77h0m-80-24h0m12-67h0m-62 187h0m87-217h0m38 83h0m-131 165h0m-35-214h0m-7 104h0m156-89h0m-85 59h0m19-143h0m76 188h0m-148-34h0m71 280h0m-4-31h0m-12-321h0m51 32h0m32 26h0m-130-149h0m28 147h0m-40-93h0m54 316h0m-37-281h0m20 93h0m-11 117h0m10-304h0m-48 214h0m24-172h0m115 158h0m-164-3h0m40-63h0m-11 61h0m18 208h0m151-246h0m-200-108h0m59 117h0m138-44h0m1 63h0m-90-198h0m-55 411h0m29-244h0m-5 77h0m81-44h0m-118-144h0m116-20h0m-43-4h0m-29 164h0m29 191h0m39-250h0m5-16h0m-48 68h0m-29 142h0m42-232h0m-61 243h0m85-290h0m-48 72h0m73-65h0m-149 163h0m98-136h0m-21 296h0m-47-12h0m11 17h0m64-241h0m-40 8h0m-1-78h0m132 118h0m-165 26h0m76-201h0m-34 393h0m-31-329h0m20 52h0m-74-41h0m115 32h0m-62 237h0m-22-119h0m-8 175h0m76-392h0m-78 158h0m-28-13h0m129 216h0m-79-348h0m22 34h0m53 202h0m54-146h0m-150 60h0m106-189h0m-75 415h0m22-423h0m56 83h0m-88 401h0m48-27h0m-41-436h0m-24 415h0m64-445h0m48 230h0m-113-160h0m-12 125h0m61-124h0m53 95h0m-55 60h0m46-26h0m-77-113h0m-5 133h0m121 40h0m-77-97h0m-36-87h0m16 99h0m69-34h0m-63 204h0m-17-163h0m68 237h0m-131-265h0m66 330h0m87-408h0m-117 67h0m26 250h0m30-213h0m27-152h0m-19 192h0m-37-199h0m-19 199h0m35-44h0m-12 179h0m-13-158h0m3-128h0m26-5h0m-51 145h0m50-164h0m-42 335h0m-17-93h0m86 159h0m-53-75h0m52-239h0m76 123h0m-145-58h0m50 11h0m-13-28h0m108 6h0m-79 265h0m64-333h0m42 109h0m-113 209h0m-4-232h0m-34 189h0m65-114h0m-1 113h0m-77-150h0m-35-104h0m181 48h0m-49-22h0m-176-23h0m225-1h0m-46 24h0m-43 1h0m53-28h0m-119-5h0m-18-4h0m113-112h0m37 220h0m-94 246h0m67-461h0m-100 438h0m-28-350h0"/>
<path stroke="#1476ba" d="m2974 989h0m-39-1h0m-30 29h0m63-11h0m-48 33h0m36-29h0m-12 3h0m14 12h0m17-36h0m-42 29h0m-2 20h0m9-28h0m19-11h0m8 0h0m-5 13h0m0-1h0m-34 11h0m2-46h0m2 1h0m-13 10h0m46 30h0m-17-21h0m2-14h0m-1 1h0m-25 22h0m56 17h0m-16-2h0m-67-20h0m53 11h0m3-5h0m-19-2h0m-41-4h0m75 16h0m-22-33h0m-18 58h0m1-56h0m4 52h0m4-35h0m-36-12h0m47-13h0m-34 36h0m13-33h0m30 18h0m15-4h0m-42 11h0m37-25h0m-18-14h0m-26 14h0m10 30h0m27-26h0m-61 27h0m71 13h0m-74-29h0m61 37h0m3-3h0m-27-18h0m12-15h0m-48-3h0m56-13h0m-37 10h0m57 25h0m-11-27h0m-22 16h0m3-33h0m11 17h0m2 3h0m-57-4h0m23 25h0m21-17h0m16 25h0m-28-34h0m31-12h0m124-37h0m98-16h0m26-13h0m-23 29h0m-45-41h0m-65 24h0m35 2h0m122-5h0m5-25h0m-51-7h0m9 12h0m-128 32h0m125-3h0m-81-2h0m37-29h0m-78 45h0m144-28h0m-119 36h0m28-41h0m-35 29h0m8 5h0m102-65h0m-28 28h0m14 19h0m-39 2h0m-70 23h0m40-3h0m-48 0h0m139-50h0m-131 50h0m77-36h0m48 35h0m-60-41h0m-35 13h0m57-48h0m-48 77h0m40-17h0m-28-23h0m-40 42h0m109-24h0m-136 26h0m118-59h0m-86 37h0m-27 11h0m109-53h0m45 23h0m24 15h0m-77-1h0m72-6h0m-33-10h0m-121 45h0m-3 12h0m157-77h0m-161 59h0m120-1h0m-69 0h0m-61 0h0m83-52h0m35-9h0m41 53h0m-29-6h0m31-33h0m-64 17h0m-105 53h0m79-64h0m-86 61h0m174-80h0m-142 43h0m152-18h0m-29 29h0m-102 14h0m106-13h0m24-9h0m-84 6h0m-32-29h0m7 23h0m27-17h0m90 3h0m-154 30h0m141-52h0m-17 4h0m-32 21h0m24-14h0m-29 11h0m-15-5h0m-13 16h0m3-12h0m-68-1h0m114-1h0m-95 28h0m105-58h0m-72 43h0m102-22h0m-137 2h0m81-26h0m22 18h0m-99 59h0m-24-8h0m12-13h0m100-17h0m-72 19h0m50-56h0m-92 47h0m157 11h0m-123 0h0m17-7h0m105 10h0m-137 15h0m75-45h0m-96 44h0m10-14h0m16-3h0m24-17h0m-11 21h0m47-40h0m10-18h0m-94 43h0m16-10h0m-40 51h0m175-78h0m-19-1h0m-117 18h0m-16 34h0m54-46h0m28 9h0m-91 28h0m145 11h0m-100-10h0m81-12h0m37 33h0m-111-8h0m-1-10h0m83-5h0m-158-10h0m32 14h0m0-10h0m47 7h0m17-25h0m5 6h0m-55-3h0m128 14h0m-8-22h0m-137 19h0m133-29h0m-40-16h0m67 65h0m-40-45h0m-46 19h0m0 12h0m-409 355h0m10 28h0m89 34h0m-74-43h0m20 50h0m22-84h0m-62-36h0m-12 55h0m83 42h0m-107-19h0m74-30h0m-62 50h0m37-91h0m-11 108h0m13-41h0m67 22h0m18-7h0m-74-44h0m101 15h0m-98 16h0m-18-25h0m59 48h0m-5-10h0m-87-16h0m2-16h0m94 61h0m-28-51h0m-81-10h0m51-39h0m-17 31h0m41-63h0m-77 80h0m114-4h0m-34 78h0m15-144h0m-21 46h0m58 40h0m-51 6h0m-31 11h0m72-8h0m-58-87h0m34 28h0m-10 89h0m3-28h0m47-92h0m-58 38h0m26 100h0m-16-111h0m-40-41h0m30 12h0m-11 140h0m32 2h0m15-42h0m-4-25h0m-24 50h0m-52 7h0m100-49h0m-46-29h0m10-28h0m-83 91h0m103-63h0m-46-1h0m-54-5h0m57 47h0m27 14h0m-87-22h0m38-75h0m56 4h0m33 27h0m-53 31h0m-19-52h0m4 50h0m-45 47h0m31-43h0m76-14h0m-83 44h0m4-38h0m29 11h0m30-74h0m-47 50h0m84 29h0m-84-18h0m-49 62h0m87-77h0m30 36h0m-116-45h0m7 23h0m74 36h0m-10 12h0m-44-42h0m47-77h0m45 82h0m-93 9h0m39-96h0m4 74h0m-87 37h0m59-126h0m-59 84h0m25 3h0m-26-11h0m69-71h0m6 85h0m32-33h0m-57-42h0m108 75h0m-33 32h0m-74-110h0m-18 11h0m87 78h0m-10 34h0m-6-75h0m-22 98h0m30-27h0m12-3h0m-33-107h0m-77 123h0m34-18h0m-8 39h0m43-83h0m1 90h0m48-134h0m-59 25h0m-29 20h0m93 26h0m15-31h0m-55-55h0m-11 76h0m14-59h0m52 25h0m-22 37h0m-66-88h0m-17 98h0m-9-55h0m23 83h0m1-74h0m68 5h0m-103 76h0m66-50h0m-10-88h0m-31 117h0m32 43h0m14-71h0m-9 31h0m7-35h0m-47 64h0m76-32h0m-64 28h0m22-101h0m21 33h0m-45 50h0m-30-58h0m61 80h0m-22-35h0m85-38h0m-50-5h0m-41 71h0m52-14h0m-104-40h0m33-81h0m-17 125h0m32 6h0m32 11h0m-38-103h0m19-16h0m17-9h0m5 79h0m-26-6h0m-9-18h0m26-62h0m76 59h0m-95-71h0m56 121h0m-43-62h0m19 86h0m-4-1h0m19-30h0m-50-24h0m23 50h0m-17-122h0m52 64h0m-48-95h0m-22 98h0m-9-34h0m34 6h0m17 38h0m-85-24h0m44 65h0m3-22h0m69 6h0m16 11h0m-53-67h0m-14-40h0m11-5h0m-10 154h0m-13-109h0m23 3h0m42 49h0m-87-38h0m28-15h0m61 33h0m-65 45h0m21-80h0m17 27h0m-28-78h0m46 113h0m-22-85h0m-55 99h0m51-118h0m-24 110h0m-2-23h0m-49-33h0m19-33h0m37 108h0m2-73h0m16 78h0m-77-51h0m99 42h0m-16 11h0m-39-135h0m-3 117h0m99-86h0m-138-10h0m44 34h0m-29-1h0m123 12h0m-74 6h0m33-74h0m-27 60h0m-41-27h0m18 57h0m21-20h0m-61-59h0m28 39h0m-41 29h0m73 65h0m5-112h0m4 49h0m12 8h0m-6 37h0m-35-24h0m92-37h0m-17 21h0m-134-30h0m70-49h0m-3 84h0m41-117h0m-78 79h0m93 35h0m-23 7h0m-39 15h0m46-73h0m-14 82h0m-25-2h0m12-88h0m-7-9h0m612 885h0m19-85h0m-53 55h0m17 20h0m21-116h0m-29 111h0m-11-9h0m24-87h0m26 118h0m-40-118h0m66 59h0m-96 7h0m40 51h0m54-121h0m-24 138h0m-8-79h0m26 37h0m-50-81h0m-28-1h0m-2 64h0m56 46h0m12-81h0m-24 18h0m-65-4h0m53 14h0m-39-31h0m19 3h0m-4-30h0m-37 97h0m132-49h0m-97 5h0m-13 41h0m29-47h0m45 41h0m-34-92h0m38 9h0m-14 62h0m31-33h0m-71-26h0m24-29h0m28 123h0m-29-3h0m-28-86h0m32-4h0m-55 102h0m-11-41h0m77-49h0m18 45h0m2-49h0m-21-2h0m-17 74h0m20-15h0m-19 37h0m-21-62h0m1-44h0m0-21h0m0 118h0m13-99h0m25 40h0m-47-54h0m-30 47h0m35-49h0m-49 97h0m47-16h0m40-18h0m-18 64h0m25 14h0m-55-138h0m67 86h0m-42 21h0m-16-8h0m-7-96h0m26 20h0m44 67h0m-47-86h0m-32 44h0m32-51h0m-53 48h0m5 5h0m97-18h0m-103-2h0m69-40h0m-25 20h0m-4 6h0m55 42h0m7 16h0m-39-83h0m21 38h0m-25 85h0m40-101h0m-8 49h0m-23-19h0m33-53h0m-98 87h0m61-51h0m26-13h0m-43-18h0m61-7h0m-83 79h0m12-23h0m-42-13h0m54 45h0m61 11h0m-17-67h0m-7-19h0m-42 6h0m39 113h0m-17-24h0m-34-54h0m42-2h0m-31-19h0m-1-27h0m-38 19h0m38-2h0m8-10h0m-22 103h0m-35-74h0m130-6h0m-68-40h0m2 1h0m48 9h0m-99 33h0m24-24h0m24-13h0m60 83h0m-85 5h0m27 16h0m-47-69h0m-18 3h0m64-25h0m-43 37h0m88-40h0m-32 105h0m11-37h0m-83-54h0m69-22h0m2 10h0m32 35h0m-15 0h0m-23 39h0m-34-35h0m68 47h0m9-72h0m-67 6h0m40 17h0m-26-22h0m3-1h0m16-3h0m-54 110h0m73-13h0m-18 0h0m37-72h0m-18 38h0m-38-75h0m26 95h0m0-8h0m-14 37h0m24-89h0m-52 65h0m-43 2h0m91 27h0m-81-94h0m78 46h0m16-40h0m-92 22h0m15 20h0m-22-29h0m69-43h0m12 71h0m42-56h0m-41 88h0m-72 7h0m99-120h0m-4 90h0m-97-39h0m27-25h0m5 81h0m88-60h0m-48-65h0m-91 75h0m19 44h0m67-5h0m0-98h0m32 11h0m-60-23h0m48 138h0m-15-78h0m-73 29h0m39-64h0m-29 49h0m18-24h0m-23 23h0m-5-24h0m40-36h0m-9 12h0m18 30h0m-45-13h0m-1 16h0m43-65h0m-2 21h0m14 90h0m-22-104h0m47 115h0m-12-118h0m-53 10h0m16 106h0m46-12h0m-47-74h0m15-4h0m24 52h0m-14 35h0m-18-50h0m-14-52h0"/>
<path stroke="#fa1719" d="m3302 1098h0m-14 1h0m27-33h0m-23 38h0m54-67h0m5 2h0m-61 66h0m58-41h0m-15 3h0m4 11h0m9 1h0m-25 6h0m21-5h0m-10-23h0m-41-27h0m8 52h0m42-29h0m-39-6h0m51 12h0m-43 43h0m-27-13h0m52 2h0m-27 22h0m-20-6h0m-1-58h0m29 16h0m17 28h0m-45-21h0m57-21h0m-36 30h0m21 0h0m8-2h0m-11-6h0m19-38h0m-51-6h0m3 28h0m58-25h0m-35 30h0m24 30h0m-32-15h0m-10 32h0m42-80h0m7 20h0m-2 30h0m-22-50h0m9 54h0m-36-24h0m-14 8h0m6-62h0m49 75h0m-10-47h0m15 34h0m-51 8h0m33 18h0m-11-68h0m47 37h0m-86-1h0m32 30h0m26-61h0m-5 44h0m-12-10h0m16 25h0m-44-25h0m30-51h0m-38 47h0m46 20h0m-29 6h0m-6 1h0m3-19h0m-11 28h0m12 22h0m48-81h0m-43-21h0m19 22h0m1-25h0m-28 83h0m49-21h0m3-1h0m-230 151h0m-34-39h0m13-44h0m39 62h0m14 5h0m4 0h0m-63-3h0m32-16h0m-17 51h0m15-82h0m-19 54h0m-14-34h0m27 29h0m11-25h0m-46 20h0m20 9h0m18 16h0m-10-93h0m42 55h0m-32 26h0m-10-9h0m4-73h0m19 106h0m-12-38h0m4-6h0m3 25h0m13-35h0m-38-44h0m18 55h0m10-35h0m-27 76h0m27 5h0m-34-75h0m7-4h0m43 34h0m-24-24h0m-12 47h0m-16 7h0m45-32h0m5 25h0m-37-74h0m9 55h0m-13 41h0m-21-60h0m22-17h0m36 12h0m2-13h0m8 8h0m-34 67h0m-39-41h0m58 9h0m-10 27h0m16-40h0m-17-52h0m19 71h0m-19-75h0m-11 105h0m38-37h0m-16-34h0m-31 5h0m55 21h0m-77-31h0m30 34h0m27 39h0m19-33h0m-65-41h0m32 35h0m-17 19h0m-12-17h0m-4-27h0m32 61h0m-29-84h0m6 19h0m11 44h0m-18-51h0m13-17h0m31 59h0m-5-40h0m2 25h0m0-42h0m-58 53h0m47-32h0m0-9h0m-11 3h0m33 20h0m-36-27h0m-2 5h0m5 26h0m-15-33h0m34 91h0m-7-117h0m-28 36h0m57 40h0m-30-1h0m362-175h0m-13 5h0m-1-19h0m16 2h0m-6-1h0m11 8h0m-14 7h0m0-17h0m126 389h0m-175-88h0m26 48h0m69-16h0m-86-16h0m36 53h0m56-116h0m-89 100h0m-2-61h0m-82 65h0m101-20h0m41 51h0m-117-42h0m13 6h0m38-12h0m120-30h0m-77 115h0m45-31h0m-20-125h0m-126 27h0m249 103h0m-63-35h0m-121 13h0m78-51h0m-154-2h0m137 97h0m69-20h0m-153-8h0m79-85h0m33 9h0m-1-50h0m-156 124h0m31-136h0m121 166h0m-81-126h0m32 51h0m127 32h0m-97 52h0m12-85h0m-68 17h0m102 56h0m-185 7h0m185-163h0m-99 31h0m48 129h0m-117-59h0m8-36h0m5 111h0m44-68h0m-31-78h0m39 32h0m31-51h0m24 81h0m-13 70h0m-48-100h0m-54-16h0m9 73h0m-11-101h0m3 113h0m177-63h0m-141 8h0m50-100h0m-30 87h0m-86 40h0m253-11h0m-163 43h0m50-145h0m-98 92h0m57 3h0m-35 13h0m15-42h0m100 15h0m38 95h0m-75-182h0m-37 29h0m97 139h0m-146-16h0m34-153h0m-35 65h0m-2 37h0m157 26h0m-130-96h0m-64 67h0m131-26h0m-71-31h0m20 14h0m120 79h0m-63-109h0m-90 58h0m-21 123h0m202-64h0m-214-106h0m171 137h0m62-28h0m-219-56h0m60 78h0m50-79h0m-7 71h0m-63-134h0m151 126h0m-248-22h0m152 41h0m-16-162h0m-61 64h0m66 76h0m-43-9h0m-27 30h0m54-162h0m-78 133h0m78-25h0m-31-28h0m73-59h0m-112 61h0m-48-36h0m143 76h0m-97-34h0m39-73h0m87 98h0m-147 50h0m69-92h0m72-28h0m75 25h0m-144 57h0m52 53h0m17-93h0m-59-27h0m35-61h0m-80 62h0m85 109h0m-30-98h0m47 28h0m-77-28h0m38-47h0m90-5h0m-187 62h0m167 71h0m-45-86h0m105 85h0m-208-110h0m154 122h0m-10-99h0m-44-18h0m-42 68h0m-68-104h0m97-22h0m13 110h0m-31-113h0m-76 60h0m-16 95h0m87-3h0m8-145h0m-78 97h0m72-5h0m2-53h0m41 50h0m-157-19h0m38 107h0m-6 5h0m25-165h0m16 69h0m173 62h0m-60-13h0m-3-86h0m-162 2h0m29 17h0m-48 12h0m204 101h0m-150-61h0m31-80h0m46 146h0m107-31h0m-69-114h0m-76 44h0m108 67h0m-129-64h0m74-58h0m26 27h0m-8-22h0m-139-17h0m215 59h0m-108-74h0m-83 84h0m99-86h0m-14 167h0m-29-136h0m4 3h0m-26 33h0m-51 114h0m165-103h0m-73-8h0m57 116h0m-92-55h0m-86-2h0m57-97h0m122-10h0m-102 53h0m-18-13h0m-26 131h0m-43-140h0m182-3h0m-129-28h0m53 21h0m-87 87h0m16-50h0m200 61h0m-73-141h0m-64 46h0m64 132h0m32-33h0m14-57h0m-4 97h0m-56-109h0m-99 82h0m-8-52h0m181-92h0m-164 103h0m106-96h0m-147 66h0m115 16h0m0-66h0m-55 54h0m30 3h0m42-73h0m-141 141h0m150-124h0m-129 123h0m177 16h0m-47-53h0m51 52h0m-168 21h0m149-89h0m-30 31h0m46-96h0m-5 97h0m-153-24h0m113 27h0m-26-25h0m-51-93h0m53 75h0m-44 3h0m29 2h0m-31-65h0m-72 115h0m32-61h0m151 43h0m-155-139h0m58 81h0m-53 113h0m-39-173h0m215 119h0m-32 16h0m-51 10h0m-86-31h0m4-79h0m-39 49h0m27-13h0m-8 88h0m25-79h0m56-37h0m52-8h0m-128 11h0m-3 36h0m91-78h0m54 25h0m18 100h0m-121-62h0m181 67h0m-165-125h0m2 58h0m-76 88h0m107-91h0m-3 90h0m-64-96h0m-65 83h0m49-114h0m212 93h0m-119-134h0m-66 96h0m145 75h0m-149-101h0m1-41h0m182 98h0m-99-43h0m-41-102h0m-73 112h0m33-17h0m-35 20h0m196 37h0m-129-48h0m-12 67h0m-54-91h0m90 11h0m-7-33h0m129 106h0m2-12h0m-233-10h0m105-87h0m15-44h0m43 102h0m-111 6h0m8-14h0m20-74h0m167 111h0m-96-106h0m-79 166h0m10-141h0m145 78h0m-112-64h0m59 4h0m-146 8h0m76-19h0m-47-30h0m-21 74h0m29-12h0m-60 99h0m41-138h0m-39-41h0m162 133h0m-111-30h0m-58-68h0m113 128h0m2-135h0m13 149h0m-41-148h0m29-33h0m-16 156h0m-94-44h0m49-23h0m-7-28h0m-18-4h0m117 74h0m27-116h0m-55 112h0m-62 18h0m-21-67h0m81-45h0m120 97h0m-54 31h0m-90-8h0m121 15h0m-169-68h0m-40-10h0m187 73h0m-71-95h0m-20 37h0m-51-34h0m-50 36h0m-6 8h0m62-82h0m32 18h0m18 110h0m-47-126h0m141 36h0m-13-64h0m-159 107h0m-16-103h0m160 65h0m-155 27h0m-6-28h0m11-22h0m60-34h0m55 88h0m-35-103h0m40 167h0m-102-114h0m54-66h0m11 0h0m-31 92h0m127 51h0m-79-137h0m-10 110h0m-2-45h0m-57 10h0m96 78h0m70-19h0m-224 67h0m27-84h0m98-93h0m-7 58h0m52 86h0m-34-75h0m-106 91h0m3-105h0m155 104h0m9-6h0m-127-159h0m17 46h0m28-5h0m-38 97h0m152-7h0m-197-54h0m221 62h0m-2 3h0m-188-102h0m167 84h0m-217 17h0m182-110h0m-140 59h0m41-124h0m-110 120h0m264 40h0m-123-16h0m-83-35h0m117-58h0m-18 35h0m-98 20h0m-20 115h0m-12-93h0m57-69h0m-24 31h0m136-47h0m-6 95h0m-47-37h0m-68-20h0m49-65h0m-76 209h0m53-206h0m-28 196h0m147-159h0m36 85h0m-98-71h0m-119 93h0m63-64h0m101 82h0m-120-16h0m-53-145h0m172 132h0m-178 12h0m232 7h0m-246 10h0m93-40h0m48 55h0m-7-129h0m-135 84h0m255-11h0m-179-54h0m73 81h0m-158 12h0m20-21h0m48-69h0m-38 122h0m52-90h0m-7-44h0m-39 60h0m14-65h0m-44 91h0m259 28h0m-186-72h0m-55 8h0m231 34h0m-68-90h0m-91-25h0m-4 116h0m129-134h0m-91 166h0m45-124h0m-106-16h0m175 100h0m-207-34h0m-17 89h0m123-191h0m-35 133h0m-55 65h0m17-147h0m56-38h0m-77 103h0m34-29h0m178 52h0m-54-92h0m-29 44h0m-154 41h0m-13-30h0m4 10h0m26-110h0m41 99h0m137 54h0m-22-69h0m-145-21h0m99 46h0m78 28h0m-216-104h0m43 146h0m-5-116h0m-2 95h0m-33-56h0m59-7h0m62-23h0m-85-62h0m159 83h0m-166 28h0m97 49h0m35-140h0m6 8h0m-118 78h0m-49 82h0m233-80h0m-195 58h0m135-140h0m-115 27h0m39-18h0m-24 79h0m107 2h0"/>
<path stroke="#149d1f" d="m3123 1354h0m-5 6h0m22-14h0m-11-8h0m-1 17h0m-6-3h0m3-6h0m5 9h0m4-21h0m-9-29h0m20 47h0m3-17h0m-21 23h0m-6-43h0m2 31h0m10-4h0m-17 3h0m25-32h0m-11 45h0m2-12h0m8-4h0m-17-1h0m15-25h0m2 7h0m-10 43h0m9 284h0m-59 104h0m-47-106h0m-3-72h0m66 256h0m86-192h0m-18-3h0m26-35h0m-146-17h0m10-10h0m26 82h0m-2 52h0m-40 58h0m-49-11h0m106-103h0m-62 0h0m32 13h0m62-82h0m-30 95h0m27 82h0m40-153h0m-106-50h0m122 83h0m-180 95h0m182-73h0m-135 108h0m173-250h0m-135 39h0m7 188h0m79-69h0m24 5h0m-126-69h0m20 54h0m68-51h0m-61-52h0m-9 24h0m87 187h0m-57-255h0m-76 130h0m99 143h0m-28-115h0m-42-51h0m79 143h0m-171 10h0m114-20h0m75-160h0m-138-73h0m99 117h0m-112 78h0m-38 10h0m157 34h0m0-208h0m-112 236h0m64-322h0m45 207h0m-83 18h0m10-25h0m-28-109h0m109 53h0m-4 201h0m-28-277h0m18 127h0m-68 85h0m113-82h0m-121-118h0m58-58h0m53 130h0m-165 98h0m129-64h0m-112 55h0m147-60h0m-110 135h0m130-223h0m-155-1h0m131 12h0m-35-89h0m-54 303h0m20-151h0m12-170h0m-37 136h0m33-59h0m-101 191h0m142-202h0m-78 38h0m-21 29h0m43 135h0m91-59h0m-86 100h0m63-147h0m-45 111h0m6-137h0m-30 116h0m75 71h0m49-251h0m-113 174h0m23 42h0m-75-89h0m129-65h0m-41 63h0m56 57h0m-148-129h0m-28 104h0m138-157h0m-137 265h0m85-149h0m84-92h0m-153 144h0m24 111h0m187-240h0m-182 48h0m25 89h0m-23 85h0m-11-90h0m75-9h0m12 88h0m30-81h0m-63-87h0m-53-28h0m130 70h0m-171 88h0m49-147h0m22 186h0m10-307h0m72 95h0m-60 17h0m13 198h0m50-96h0m-4-244h0m-92 147h0m-38-43h0m133 186h0m-28-151h0m-6 63h0m16 8h0m-84-125h0m51 147h0m74 9h0m-118 57h0m192-174h0m-207 79h0m108 57h0m-29-102h0m-60-131h0m103 134h0m-168 102h0m94 102h0m18-336h0m-72 339h0m9-240h0m52 188h0m63-42h0m-3 13h0m-3-177h0m22 50h0m-71 42h0m-20 194h0m58-272h0m20 27h0m-6-54h0m-121 238h0m32-203h0m-80 226h0m229-131h0m-124-166h0m-48 57h0m4 248h0m18-330h0m-36 341h0m17-17h0m98-225h0m53 68h0m-165-104h0m-11 116h0m76 147h0m-39-301h0m38-16h0m59 93h0m-174 134h0m96 0h0m9-114h0m149-18h0m-98 74h0m-100-35h0m25 27h0m90-81h0m7-17h0m-107 15h0m150 119h0m-161-74h0m41-108h0m-88 255h0m116-60h0m-122 42h0m31-177h0m54 109h0m-65-124h0m91 230h0m73-158h0m-78-62h0m-65 114h0m51 28h0m50-162h0m-73 102h0m4 71h0m27-103h0m55 85h0m-172 2h0m-3 23h0m209 0h0m-128-34h0m-13 60h0m75-51h0m65-181h0m-91 88h0m-18 103h0m81-99h0m-114-66h0m5 270h0m44-95h0m6-231h0m103 95h0m-78 0h0m-42-109h0m5 342h0m-97-63h0m238-232h0m-168 158h0m18 154h0m-85-57h0m53-46h0m102-106h0m98-42h0m-58-69h0m-53 201h0m-133 18h0m42-91h0m63-22h0m-57 134h0m-7-79h0m76 83h0m-3 73h0m82-146h0m-110 68h0m71-184h0m-40 83h0m19-119h0m-160 212h0m111-150h0m-100 201h0m232-264h0m-206 169h0m82-182h0m67 227h0m-57-226h0m-42-19h0m-26 38h0m37 294h0m0-284h0m51 138h0m121-139h0m-75 3h0m-101 165h0m122 44h0m-137 53h0m21-12h0m117-177h0m-143 157h0m-12-37h0m41-164h0m167-19h0m-66 102h0m-119-47h0m-33-16h0m96-110h0m-41 340h0m-50-153h0m128-155h0m-170 220h0m135-94h0m29-208h0m-4 2h0m-63 162h0m163-12h0m-165 11h0m-28 201h0m-63-104h0m77 58h0m-93 0h0m157-75h0m-25-195h0m72 67h0m10-25h0m-88 177h0m-49 62h0m9 8h0m-11-95h0m1-79h0m43 169h0m9-218h0m-119 156h0m73-222h0m75-2h0m59 39h0m-53 132h0m-140 128h0m67-175h0m-12-124h0m-32 81h0m85-19h0m-116 169h0m52-55h0m33-110h0m-42 99h0m92 91h0m-95-82h0m-1 53h0m38 116h0m27-147h0m-55 40h0m18-24h0m-5-36h0m-11 91h0m104-275h0m83 72h0m-165 157h0m-21 39h0m-3-59h0m-61 81h0m54-8h0m38-176h0m130 157h0m-219 25h0m218-281h0m-170 201h0m141-113h0m-48-14h0m116-17h0m-46 77h0m-97-58h0m90 91h0m-83 136h0m-50-117h0m47-172h0m58 91h0m-42 54h0m-47 59h0m77-159h0m-153 187h0m85 76h0m17-268h0m39 139h0m-48 21h0m65 52h0m-22-96h0m-23-165h0m-14 235h0m-3-129h0m-86 127h0m63-228h0m-25 105h0m127 27h0m-34-30h0m-114-48h0m48 103h0m-8 83h0m120-50h0m-100-100h0m67-44h0m-120-17h0m-38 222h0m54-118h0m25-9h0m-62 135h0m27-203h0m51 150h0m10-88h0m-4 127h0m31-17h0m104-160h0m1 31h0m-139-46h0m56 177h0m-51-17h0m-20-2h0m14 138h0m-116-100h0m129 47h0m-66-109h0m49-192h0m-91 296h0m6-79h0m85-73h0m24 47h0m-3-22h0m-25-169h0m-34 163h0m8-46h0m112 2h0m20 95h0m-147 47h0m8-2h0m93-190h0m-65 271h0m126-146h0m-214 122h0m169-232h0m-77 221h0m68-165h0m-9 160h0m1-16h0m-10 32h0m15-48h0m46-207h0m29 133h0m-196-2h0m114 79h0m-171-27h0m132 87h0m-83-279h0m41 115h0m147 39h0m-4-117h0m-195 148h0m130-232h0m12 234h0m-105-79h0m34-92h0m-35 57h0m-45 96h0m79 7h0m76-57h0m35-160h0m-109 303h0m71-91h0m-44 72h0m-9-41h0m67 26h0m-25-215h0m-51 275h0m-29-217h0m93-178h0m-6 56h0m9 133h0m-79-9h0m-4 62h0m47-16h0m-52-67h0m32 6h0m61-45h0m-38 153h0m31-118h0m-94-37h0m17 77h0m-21-7h0m53-152h0m83 49h0m-37 85h0m49-69h0m-45-70h0m-156 294h0m138 30h0m-39-176h0m48-69h0m-28 95h0m-34-105h0m-13-40h0m36 328h0m-6-56h0m-94 24h0m30-298h0m57 182h0m79 68h0m-188 7h0m82 74h0m17-235h0m17 73h0m-134 126h0m233-22h0m-6-18h0m-140-130h0m-1 184h0m72 1h0m-41-106h0m137-151h0m-176 96h0m102 149h0m-74-58h0m-7-13h0m113-40h0m-162-126h0m182-4h0m-117 8h0m-39 125h0m16 9h0m1 31h0m3-13h0m-14 84h0m5-202h0m-43 92h0m113 75h0m-96 8h0m17-102h0m61 66h0m57-164h0m-31 201h0m-53-162h0m-9-20h0m-28 68h0m25 88h0m115-199h0m-106 151h0m13-194h0m80 76h0m-81 2h0m2-17h0m-79-9h0m135 34h0m-135 173h0m9-28h0m165-116h0m-163 86h0m5 33h0m143-70h0m-98 27h0m5 141h0m-14-237h0m26-10h0m43-109h0m-107 206h0m159-159h0m49 36h0m-148 39h0m-26 17h0m50 212h0m36-167h0m-53-39h0m5-3h0m-27 145h0m-28-157h0m-21-41h0m23 38h0m55-44h0m100 196h0m-67-50h0m-87-150h0m141-3h0m-66 90h0m-56 52h0m92 49h0m46-110h0m-43 157h0m-169-82h0m142 77h0m-103-211h0m13 164h0m61-6h0m77-51h0m-39 92h0m-42-120h0m49-130h0m-116 148h0m-56 95h0m192-175h0m71 20h0m-266 131h0m219-52h0m-185-4h0m167 104h0m-47-308h0m-48 227h0m54-214h0m25 71h0m-43 91h0m94 82h0m-223-18h0m106-84h0m-61-102h0m29 38h0m91 14h0m42-45h0m-142 10h0m-75 189h0m107-256h0m143 103h0m-167 227h0m-28-141h0m67-74h0m40 184h0m-136-57h0m103-85h0m-6-46h0m-109 127h0m172-197h0m-15-65h0m75 185h0m-156 78h0m-26-82h0m4-30h0m63 47h0m70-176h0m-90 243h0m-9-95h0m-25 103h0m70-221h0m-82 204h0m9 46h0m30-112h0m69-15h0m-84-130h0m68 87h0m-40-13h0m-70 91h0m181-14h0m-176 0h0m88 131h0m-28-268h0m72 95h0m-124-44h0m56-67h0m-52 107h0m88 208h0m-20-94h0m89-72h0m3-154h0m-204 277h0m83 61h0m169-294h0m-104 184h0m-50 33h0m-112-55h0m130-63h0m-123 119h0m186-167h0m-103 204h0m43-12h0m23-327h0m15 76h0m-77 35h0m145-31h0m-42 212h0m-37-315h0m-76 195h0m74 135h0m-137 31h0m116 14h0m-73 18h0m21-128h0m149-180h0m-146 189h0m30-23h0m-48-26h0m-7 70h0m12-41h0m-30 26h0m-64 11h0m179-182h0m-110 261h0m-35-94h0m28-19h0m-3-149h0m23-10h0m-15 194h0m50-214h0m-95 257h0m221-246h0m-65 238h0m-143-59h0m214 8h0m-145-121h0m-84 150h0m187-159h0m-187 129h0m191-109h0m-54 154h0m-123-72h0m150 80h0m-120-215h0m-25 257h0m78-175h0m-46 38h0m21-131h0m140 214h0m-212-18h0m55 80h0m175-109h0m-51-51h0m6-66h0m-189 127h0m194-116h0m-76 110h0m-26-27h0m-60 37h0m27-230h0m-43 215h0m76 40h0m129 19h0m-56-178h0m-136 120h0m149-129h0m-123-16h0m56 53h0m1-8h0m2 218h0m-61-233h0m207 14h0m-90 19h0m22-51h0m-198 146h0m174-137h0m0 189h0m93-233h0m-30 0h0m-50 45h0m-114 87h0m60-6h0m-111 90h0m44-269h0m44 326h0m75-256h0m-76 225h0m86-129h0m-6 97h0m-109-93h0m139-42h0m-184 81h0m165 83h0m-168-94h0m17 94h0m169-125h0m-11-56h0m33 73h0m-167-10h0m108 81h0m-14-9h0m-130 86h0m108-51h0m-7-13h0m-58-169h0m-13 14h0m44 30h0m-53 143h0m225-233h0m-78 25h0m15 214h0m-95-86h0m87-143h0m-163-11h0m22 5h0m22 293h0m28-304h0m-27 132h0m90 54h0m-90 12h0m-41-132h0m139 170h0m-90-210h0m63 254h0m-115-158h0m79 46h0m-96 106h0m145-16h0m-70-46h0m56-89h0m-68 53h0m91-151h0m-173 198h0m195-106h0m0-104h0m-28 226h0m-103-37h0m141-169h0m-75-107h0m59 280h0m-135-130h0m200-27h0m-80-27h0m-77 141h0m51 61h0m-88-120h0m53 143h0m-36-62h0m-83-7h0m52 95h0m5-41h0m80 64h0m-20-357h0m77 82h0m-66 19h0m61 69h0m-98 93h0m71-67h0m-112 43h0m20-132h0m-30-53h0m153 61h0m-122-59h0m1 40h0m121 102h0m-143 78h0m101-66h0m19 114h0m-28-1h0m99-243h0m-17-32h0m-204 202h0m175-74h0m-134 34h0m165 20h0m43-160h0m-162 106h0m-106 64h0m157-224h0m7-5h0m-51 181h0m39 71h0m-55-123h0m69-40h0"/>
<path stroke="#fdbf6f" d="m3570 176h0m-117 93h0m254-48h0m-37-36h0m-218 75h0m-17 39h0m192-169h0m-163 76h0m-16 2h0m158-104h0m-20 63h0m-163 53h0m299 7h0m-135 22h0m59-80h0m-75-25h0m245 76h0m-335-84h0m269 97h0m-258 51h0m108-15h0m85-59h0m-61-86h0m-117 128h0m256-82h0m-326-51h0m245 91h0m-95-114h0m16 95h0m80 66h0m-234-73h0m298 18h0m-46 18h0m33-42h0m32 14h0m-174-44h0m-97 85h0m66 30h0m143-20h0m-172-3h0m83-59h0m-187-54h0m17 145h0m39-55h0m59 57h0m-125-138h0m9 143h0m133-78h0m-64 31h0m52-130h0m-50 172h0m53-16h0m-22-23h0m141-43h0m-243 59h0m-15-61h0m269 15h0m-103-15h0m-31-87h0m72 151h0m117-95h0m-84 74h0m-9-29h0m-28-33h0m-21 8h0m-35-40h0m-140 13h0m43 127h0m200-162h0m138 100h0m-348-111h0m232 124h0m-108-45h0m-45 12h0m-86 81h0m278-111h0m-156 20h0m-112-14h0m176 1h0m82 42h0m-83-49h0m-158 102h0m155-106h0m-83 107h0m-132-81h0m133 76h0m88-19h0m-30 16h0m-28-80h0m-15-15h0m121 51h0m-10 43h0m-115-2h0m113-42h0m-205 27h0m298-21h0m50 10h0m-148 11h0m-123 16h0m46-20h0m113 25h0m-293-151h0m275 93h0m72 33h0m-176-134h0m-67 150h0m143-143h0m-167 146h0m305-17h0m-269 4h0m-20-12h0m26 18h0m-96-78h0m324 89h0m-195 1h0m-130-81h0m153-20h0m-97 88h0m-73-108h0m212 94h0m-246-65h0m198 6h0m21-13h0m-145 65h0m326-50h0m-375 75h0m56 17h0m96-2h0m-131-147h0m9-19h0m299 78h0m-304-68h0m87 134h0m-62-81h0m157-4h0m-188-52h0m12 35h0m190-43h0m46 158h0m-52-117h0m29-24h0m-254 75h0m347-46h0m-189 113h0m211-5h0m22-41h0m-334-116h0m325 57h0m-317 131h0m142-38h0m-178-91h0m164 104h0m-77-5h0m169-56h0m-251 46h0m175-71h0m-65-44h0m266 124h0m-376-153h0m233 140h0m-84-117h0m-92 142h0m69-6h0m26-65h0m42 30h0m-25-13h0m81 23h0m-167-124h0m89 65h0m0 58h0m92-34h0m-128 80h0m-4-163h0m-117 117h0m85-58h0m30 77h0m95-53h0m124 72h0m-350-11h0m-27-93h0m384 49h0m-88-2h0m2 6h0m-148-124h0m150 134h0m52 38h0m-164-65h0m-13-102h0m146 83h0m-2 95h0m-150-37h0m96-2h0m130-56h0m-179 39h0m142 44h0m-265-36h0m-86 38h0m399-3h0m-180-128h0m-210 135h0m310-59h0m-157 55h0m96-3h0m3-19h0m-62 0h0m49-61h0m-78-24h0m132-11h0m-39 63h0m-137-38h0m239 52h0m-307 78h0m172-41h0m-181-66h0m200 3h0m126 59h0m-32-37h0m-192-76h0m88-38h0m58 105h0m24 68h0m57-116h0m-100 27h0m-114 96h0m-97-148h0m-41 97h0m103 34h0m161-83h0m82 75h0m-222 1h0m109-37h0m-220-15h0m52 91h0m55-205h0m-30 184h0m-70 2h0m143-23h0m-16-157h0m31 8h0m145 101h0m-76 18h0m-243-2h0m204 16h0m-55-9h0m25-20h0m93 67h0m-153-174h0m18 174h0m-135-96h0m303-16h0m-347-26h0m420 95h0m-233 0h0m-36-147h0m164 125h0m51 43h0m-298 32h0m132-102h0m-8 2h0m206 9h0m-261-69h0m-20 81h0m-97-66h0m201-39h0m-9 153h0m173-29h0m-185-72h0m-48-65h0m47 8h0m55 112h0m-55-124h0m-177 65h0m151-30h0m7 55h0m-34 68h0m117-12h0m-47-56h0m-203 66h0m-3-79h0m187 111h0m13-16h0m-150-29h0m186-109h0m-198 155h0m199-137h0m75 111h0m-226-116h0m-66 28h0m303 23h0m-226 52h0m48 27h0m142-84h0m-16 8h0m49-44h0m-224 97h0m-99-78h0m333 14h0m-99-18h0m-57 59h0m85-110h0m-206 105h0m99-62h0m72 84h0m-130 62h0m52-34h0m-13-138h0m28 82h0m-153-74h0m205-8h0m-8 81h0m-213-70h0m32-21h0m164 68h0m-130 85h0m276-55h0m-262 2h0m-55 47h0m256-42h0m-214 53h0m214-80h0m-202-87h0m6 156h0m227-41h0m106 6h0m-342 59h0m86-117h0m108 69h0m-130-132h0m99 59h0m-62 7h0m-135-57h0m57 125h0m236-137h0m-299 5h0m232 132h0m42-66h0m-250 102h0m187-33h0m-23-13h0m-73-87h0m14-26h0m59 152h0m1-19h0m-47-86h0m17-61h0m-47 178h0m143-152h0m-97 121h0m108-85h0m-162 88h0m-3-51h0m166-61h0m-128 3h0m-17 15h0m-83-27h0m212 125h0m97-102h0m0 85h0m-157-111h0m117 163h0m11-52h0m-135-54h0m-5-23h0m-174 31h0m153 47h0m-3-145h0m34 74h0m31-38h0m109 104h0m-198-30h0m-90 4h0m85-122h0m190 120h0m-6-29h0m-294-17h0m74 76h0m52 10h0m-106-121h0m163-24h0m-132 116h0m111 10h0m27-39h0m142-34h0m-105 8h0m-7 38h0m-198-67h0m170 53h0m126 8h0m-175-47h0m17 86h0m8-70h0m-145 142h0m144-194h0m-83-13h0m18 5h0m160 68h0m42 125h0m-188-194h0m158 177h0m-146-121h0m-113 104h0m170-119h0m-45 35h0m-70 45h0m61 23h0m-23 3h0m44-12h0m-143-35h0m102 33h0m-104-7h0m166-17h0m-151-63h0m201 45h0m-112 52h0m-106 30h0m88-11h0m166-93h0m-30-49h0m-38 114h0m-190-15h0m326-6h0m-154-14h0m66 38h0m70-55h0m-175-21h0m130 49h0m-66-33h0m-24 47h0m-194-34h0m35-72h0m210 101h0m114 45h0m-196-50h0m-39-123h0m84 49h0m-11 92h0m69-13h0m-224 55h0m289-53h0m-219-128h0m261 110h0m-226 74h0m234-30h0m-240-161h0m20 103h0m57-75h0m-58 37h0m134 64h0m-278 9h0m-2 54h0m164-130h0m212 56h0m-229-14h0m-182 60h0m225 6h0m8-75h0m57 87h0m-1-37h0m-147 20h0m255-50h0m-102 5h0m-222 13h0m314 26h0m-22-71h0m-99 21h0m-135 20h0m38 2h0m-144-43h0m185 37h0m-5-33h0m-145 85h0m85-15h0m230 1h0m-24-28h0m-69-121h0m-200 186h0m167-191h0m-197 194h0m223-66h0m-250-49h0m19 95h0m319-46h0m-128-97h0m-158 109h0m241-64h0m-96-24h0m155 8h0m-30 79h0m-195-1h0m52-144h0m125 70h0m-1 78h0m-27-50h0m-71-73h0m49 102h0m-274-29h0m310 0h0m-33 0h0m-115-33h0m39 89h0m-18-81h0m-3 29h0m-30-56h0m138 76h0m-170 34h0m270-5h0m-168-8h0m-194-45h0m122-89h0m-21 180h0m-52-193h0m286 100h0m-181-40h0m-71 80h0m218 37h0m-174 13h0m15-178h0m-76 149h0m-90-94h0m248 49h0m-73-85h0m-31 146h0m54-116h0m-19 74h0m166 51h0m-332-6h0m333-17h0m-351-139h0m317 51h0m-4 68h0m85-4h0m-11 11h0m-34-2h0m-351-72h0m236-8h0m-219-26h0m-21 129h0m-8-120h0m182 127h0m56-31h0m-34-106h0m21 85h0m-127 64h0m124-70h0m-192-119h0m129 123h0m-173-62h0m82 107h0m0-5h0m131-65h0m162 71h0m-98-44h0m-255-5h0m106-8h0m187-6h0m45-1h0m-90-27h0m88 32h0m-186 45h0m153 31h0m-125-85h0m186-25h0m-225-55h0m101 136h0m97 29h0m-166-153h0m203 108h0m-73 16h0m-71 5h0m-227-78h0m196-23h0m173 41h0m-179-11h0m17 48h0m20-1h0m-178 49h0m143-195h0m-44 5h0m-13 175h0m84-20h0m153-39h0m-143 31h0m-194-134h0m20 78h0m-51-20h0m290 86h0m-116-78h0m97 67h0m-39-132h0m41 111h0m-105 17h0m176 24h0m33-15h0m-255-33h0m269 38h0m-112-55h0m-252 47h0m114-146h0m-77 177h0m109-110h0m-127 78h0m155-101h0m48 84h0m61 12h0m-161-69h0m-50 36h0m253 86h0m-158-103h0m23 19h0m-71-61h0m234 114h0m-361-161h0m46 54h0m275 114h0m-182-75h0m107-6h0m-81-86h0m34 6h0m-10 42h0m8-37h0m-70 63h0m93 16h0m-192 48h0m251-32h0m-80 46h0m-164-98h0m270 51h0m-305-79h0m197 135h0m42-139h0m-131 161h0m22-65h0m43 24h0m-134-85h0m163 100h0m138 12h0m-37-60h0m-151 45h0m-94 45h0m124-182h0m-77 153h0m102-159h0m114 65h0m-301 82h0m368-23h0m-209-87h0m166 44h0m-323 83h0m168-45h0m-66 35h0m-37-106h0m119 103h0m11-52h0m-20 20h0m-170 51h0m90-7h0m76-67h0m3-25h0m-81-51h0m199 34h0m-186 107h0m77-1h0m-47-105h0m92 52h0m-136 58h0m-99-137h0m249 79h0m-73 20h0m-10-40h0m55 46h0m-83-89h0m115 53h0m-71 12h0m0 27h0m-41-153h0m27 154h0m184-47h0m-197-30h0m-124-25h0m62 101h0m114-110h0m-56 8h0m57 78h0m-87 19h0m-95-16h0m95-72h0m-6 123h0m169-64h0m48 21h0m-168-104h0m20 139h0m-197-40h0m293-47h0m-216 48h0m145-129h0m-51-5h0m59 84h0m-32 63h0m-201-59h0m285 107h0m-230-148h0m241 109h0m-4 38h0m-267-145h0m219 123h0m-264-101h0"/>
<path stroke="#9fd0e8" d="m3430 819h0m7 8h0m-24-9h0m24 5h0m-3 46h0m-47-4h0m61-32h0m-3 5h0m-50 0h0m10-15h0m11-20h0m12 27h0m1 17h0m-37 8h0m32-32h0m-71 53h0m29 1h0m66-27h0m-23-14h0m4 7h0m18 2h0m-6 10h0m7-21h0m-50-17h0m-1-1h0m41 56h0m-28 3h0m-45-13h0m29-29h0m-30 11h0m-8-7h0m53-24h0m19-6h0m-9 11h0m-20 31h0m10 29h0m5-15h0m29-24h0m-62 0h0m-6 20h0m-12-38h0m82 37h0m-21-31h0m-63 11h0m16 29h0m22-65h0m50 18h0m-28-23h0m-5 77h0m-30-3h0m38-54h0m-9-16h0m-14 65h0m27-59h0m-25-2h0m8 19h0m26 2h0m-19-22h0m-47 63h0m-18-5h0m22 24h0m46-45h0m-33-3h0m-30 39h0m87-63h0m-79 44h0m48 4h0m-56-7h0m25 11h0m50-8h0m-42 11h0m0-7h0m-28-9h0m14-6h0m53-22h0m-32 46h0m23-35h0m7-38h0m-65 49h0m29-41h0m16 15h0m-49 50h0m205 133h0m-7 2h0m-11 22h0m-2-28h0m-10 43h0m19-78h0m24 81h0m-27-70h0m90 28h0m-29-36h0m-64 72h0m58-12h0m44-8h0m-19 8h0m-102-20h0m10 24h0m12-50h0m68 11h0m-26-23h0m24 18h0m-17-14h0m43 56h0m-79-32h0m10-38h0m-4 45h0m33 23h0m20-61h0m-50 54h0m-27 19h0m19-28h0m74 13h0m-85-29h0m60-2h0m18-8h0m7 4h0m-81 42h0m13-24h0m59-5h0m-88 6h0m20-19h0m60-10h0m-82 12h0m20-2h0m22-2h0m-3-31h0m26 45h0m-10-1h0m-5 54h0m0-67h0m-29 12h0m-2 20h0m65-22h0m-52 41h0m-49-20h0m121 2h0m-82-33h0m-24 40h0m92-16h0m11-30h0m-74 26h0m-15-2h0m29 6h0m-18-32h0m-31 46h0m49 1h0m-7-6h0m1 33h0m72-37h0m-65 3h0m60-1h0m-23 4h0m7-56h0m-70 11h0m79 38h0m-45-34h0m29 19h0m8-42h0m14 29h0m-53 48h0m-30-24h0m80-16h0m-12-33h0m-55 26h0m0 54h0m-11-40h0m-30 18h0m-6 4h0m34-30h0m-21 47h0m60-59h0m-66 70h0m84-51h0m-41-50h0m-28 62h0m57-10h0m-7-55h0m45 75h0m-15-30h0m18 16h0m-77 25h0m-16-37h0m22-13h0m29-2h0m-42 27h0m-23 35h0m36 8h0m-12-10h0m74-69h0m-1-12h0m-30 40h0m-32-10h0m39 35h0m19 22h0m20-38h0m-94-39h0m34 30h0m-46 23h0m70 27h0m-17-12h0m-26 13h0m-77 25h0m35 5h0m-9-8h0m-9 16h0m377-75h0m-22-74h0m36 42h0m-28 62h0m20-22h0m3-47h0m-5 21h0m3-43h0m-12 24h0m7-10h0m2-70h0m-31 55h0m61-16h0m-60 28h0m70 16h0m-21 4h0m-1 43h0m-28-118h0m-16 107h0m49-88h0m-13 42h0m-16 0h0m49-14h0m-59-6h0m58 43h0m-56 24h0m-2-69h0m7 10h0m49-23h0m-67 10h0m1-12h0m62 23h0m-34 59h0m-9-5h0m10-34h0m0-52h0m-11 10h0m30-12h0m17 74h0m-66-45h0m20 27h0m23 8h0m-34-37h0m36-17h0m28 46h0m-58-16h0m1 73h0m41-100h0m-9 55h0m-18-5h0m-29-62h0m10-19h0m31 95h0m-15-100h0m-10 51h0m14 50h0m15-48h0m10-17h0m-48 23h0m-7-28h0m25 43h0m12-68h0m-12 122h0m23-1h0m-32-39h0m9-7h0m-18 10h0m18-71h0m-7 26h0m34 9h0m-5 60h0m-31-70h0m40 71h0m-23-56h0m-23 84h0m18-24h0m-4 4h0m-17-102h0m-4-3h0m18 19h0m-27 15h0m39 11h0m-18 34h0m-4-10h0m8-84h0m-22 42h0m11 44h0m20 7h0m-22-69h0m1 56h0m41-1h0m-34-68h0m25 69h0m-3-64h0m7 78h0m11 26h0m-43-44h0m21 71h0m25-54h0m-4 252h0m-85-72h0m21 65h0m45-94h0m-11 89h0m-38-10h0m26 15h0m-21-16h0m86-32h0m-45 7h0m-25-58h0m5 113h0m47-129h0m-76 77h0m4 46h0m4 9h0m50-80h0m15-55h0m15 98h0m-30 28h0m-6-115h0m13 38h0m-74-41h0m67 86h0m55-27h0m-125 34h0m69-65h0m-90-14h0m13-30h0m4 111h0m-6 7h0m12-14h0m84-41h0m2-51h0m3-17h0m-86 26h0m-21 66h0m13 44h0m83-113h0m2 39h0m-1-6h0m-8-37h0m-24 137h0m66-90h0m-53-1h0m17-33h0m-89 67h0m64 32h0m-49-3h0m26-96h0m-65 33h0m125-37h0m-9-2h0m-61 0h0m4 12h0m42 23h0m-44 32h0m79-76h0m-82 124h0m78-107h0m-19 88h0m-54-73h0m-61 59h0m8-25h0m31-7h0m99-2h0m-50 0h0m0 18h0m-1-1h0m-6-1h0m39-34h0m-99-7h0m99 35h0m-89 5h0m48 60h0m-34-6h0m111-94h0m-118 28h0m48-21h0m36-5h0m-54 25h0m50-22h0m12-44h0m-83 79h0m-15-57h0m70 26h0m-26 58h0m0-61h0m16-19h0m-15 42h0m-34-59h0m85 33h0m-60-14h0m82 45h0m-2-52h0m-95 37h0m37-18h0m-53-21h0m5 77h0m93-92h0m-18 107h0m-45-101h0m34 3h0m17 31h0m-5-5h0m-65-21h0m-27-4h0m59 64h0m8-15h0m-52-21h0m-8-58h0m55 36h0m-9 17h0m47-20h0m-101-8h0m133 40h0m-11-24h0m-51 49h0m-27-57h0m52 18h0m-103-47h0m48 55h0m28 90h0m-19-90h0m56-24h0m-84 52h0m16-33h0m55-20h0m29-2h0m-30 3h0m-35 21h0m43-22h0m-107 61h0m17-17h0m34 12h0m75-38h0m-98 79h0m6-116h0m80 19h0m-88 102h0m-7-30h0m44 0h0m13-30h0m-98-59h0m129 0h0m0 4h0m-48 146h0m-48-43h0m97-36h0m-5-13h0m-22 0h0m38-13h0m-75 21h0m-38 43h0m71-83h0m67 18h0m-54 37h0m2-70h0m-74 74h0m118-26h0m-88 5h0m63 13h0m-1-6h0m-26-1h0m47-25h0m-4 63h0m-17-8h0m-32 36h0m-87-108h0m-24-18h0m16 34h0m106 4h0m27-48h0m-9 71h0m-20 17h0m-73 12h0m2-74h0m98 6h0m-48 101h0m-78-109h0m75 7h0m-61 72h0m17 2h0m34-98h0m-66 39h0m33-20h0m-6 65h0"/>
<path stroke="#149d1f" d="m3443 1296h0m73-28h0m-111 72h0m-45-52h0"/>
</g>
<g stroke-width="19">
<path stroke="#fdb550" d="m306 2562h6m10 292h6m100-219h6m-146 4h6m255-39h6m-175 189h6m-103-1h6m-52 16h6m212-235h6m-157-12h6m226 118h6m-42-85h6m-57-28h6m-191 265h6m87-308h6m-111 258h6m101-208h6m26 275h6m-134-104h6m179-191h6m-165 121h6m170 86h6m-184-25h6m57 16h6m158-85h6m-68-42h6m-45 63h6m98-12h6m-157 108h6m-72-235h6m42 4h6m27 43h6m124-95h6m-202 288h6m137-304h6m98 156h6m-96 62h6m-227 45h6m101-137h6m165-64h6m-185 224h6m98-269h6m-29 321h6m-90-133h6m167-163h6m-143 47h6m78 180h6m-152-68h6m174-174h6m-300 300h6m165-128h6m125-14h6m88-132h6m-130-46h6m-232 356h6m314-201h6m-287 249h6m229-190h6m-193 85h6m-15 14h6m-65-167h6m134 223h6m188-333h6m-339 163h6m130 58h6m-133 10h6m267-165h6m-116 147h6m-132 33h6m18-72h6m56-122h6m34-71h6m-89 271h6m38-31h6m-1-3h6m-2 100h6m-92-52h6m73-186h6m-147 215h6m177-325h6m-46 242h6m-91 95h6m128-344h6m27 28h6m-196 32h6m24 258h6m180-301h6m-158 43h6m46 50h6m64 47h6m42 45h6m-311-12h6m83 24h6m177-121h6m-254 144h6m-4-143h6m338-59h6m-249 303h6m-29-260h6m23-26h6m103 141h6m-229 72h6m132 146h6m-20 25h6m-28-144h6m-118 26h6m185 22h6m-18-126h6m-60-140h6m189-3h6m-134 176h6m-6 4h6m104-206h6m-173 307h6m-14 2h6m-47-245h6m73 0h6m-151 12h6m45 27h6m87 131h6m-9-175h6m123-84h6m-31-17h6m-132 277h6m-16-251h6m-57 350h6m115-45h6m-89-304h6m83 306h6m19-58h6m64-219h6m-29-42h6m-187 275h6m114-192h6m-39 211h6m-23-58h6m-7-9h6m59 76h6m-143 60h6m-115-105h6m-3 29h6m224 2h6m-187 32h6m108-8h6m-144 60h6m71-28h6m-11-154h6m50-88h6m-4-53h6m188-35h6m-93-25h6m-170 368h6m-84-100h6m295-286h6m-41 155h6m-157 100h6m85 111h6m-126-51h6m-6-217h6m54 182h6m-76-128h6m-20 31h6m-44 65h6m167 94h6m7-128h6m-133 98h6m81 77h6m-175-33h6m11-95h6m90 30h6m155-274h6m-207 352h6m75-37h6m-150-118h6m267-87h6m66-70h6m-128 255h6m-68-5h6m103-134h6m-277 150h6m240-241h6m-224 75h6m309-71h6m-157 254h6m-181-10h6m-67-25h6m212-242h6m-30 44h6m-120 247h6m102-201h6m-108-66h6m-23 273h6m281-237h6m-281 152h6m-33-61h6m103 103h6m-146 32h6m334-227h6m-120 101h6m60-166h6m-211 162h6m147 86h6m-155 25h6m70-250h6m-59 254h6m87 25h6m-183-5h6m246-262h6m-152 13h6m118 116h6m-149 171h6m177-190h6m-166-131h6m-113 39h6m235 23h6m-273 184h6m91 51h6m176-273h6m-150-35h6m-51 189h6m45-171h6m-49 228h6m196-266h6m-213 262h6m-128-15h6m3-66h6m46-27h6m224-167h6m-215 58h6m61 343h6m95-67h6m49-223h6m-199 62h6m-61 34h6m300-160h6m-258 38h6m-82 188h6m77-263h6m-29 47h6m94 283h6m54-67h6m-101 110h6m-12-183h6m-103 41h6m171-64h6m-136-87h6m168-47h6m-180 288h6m-19-17h6m87-27h6m22-95h6m-140 37h6m69 154h6m133-170h6m-270 98h6m76-199h6m8-54h6m68-8h6m-161 100h6m301-165h6m-95 87h6m-161-14h6m169 174h6m-146-105h6m-110 134h6m-47-13h6m-5 50h6m14-28h6m119-151h6m174-105h6m32 29h6m-186 185h6m177-156h6m-153 46h6m-221 174h6m100-90h6m94-119h6m-83 105h6m236-155h6m-146-23h6m21-40h6m-196 232h6m124 111h6m-31-215h6m-51 178h6m170-109h6m-290 168h6m317-225h6m-80 67h6m-252 164h6m311-235h6m-114-47h6m-109 203h6m-105-87h6m262-119h6m-300 269h6m87-144h6m58 72h6m160-162h6m-286 225h6m37-154h6m261-136h6m-163 167h6m-126 0h6m82 78h6m157-194h6m-77 106h6m-99 231h6m-94-101h6m290-279h6m-68 54h6m-155 299h6m247-326h6m-183 237h6m-177 3h6m-35-64h6m-4-58h6m324-157h6m-110 70h6m19 34h6m-111-50h6m82 33h6m36 15h6m2 45h6m-177-78h6m107 77h6m-94 84h6m113-176h6m-38 202h6m76-270h6m-267 153h6m-48-62h6m238-44h6m-82-19h6m70 124h6m-174-153h6m80 316h6m20-267h6m-125 355h6m30-248h6m-18 169h6m67-226h6m-58-65h6m178 97h6m-113 62h6m-223-3h6m316-161h6m-215-6h6m-20 66h6m-10 7h6m-10 211h6m89 8h6m12-46h6m39-151h6m-143-21h6m-94 224h6m-29-193h6m119-120h6m86 258h6m-173-141h6m259-108h6m-141 67h6m37 146h6m-246 71h6m157-56h6m200-222h6m-233 249h6m36 20h6m-60-29h6m163-295h6"/>
<path stroke="#dbb2e2" d="m497 2945h6m8-132h6m-180 140h6m152-154h6m-52 182h6m-78-44h6m99-62h6m9 64h6m61-202h6m118-176h6m-288 345h6m245-355h6m-216 344h6m99-138h6m54-185h6m-185 417h6m68-206h6m19-6h6m8 27h6m-201 100h6m405-420h6m-127 128h6m-77 39h6m-206 326h6m196-244h6m-4 4h6m-11 23h6m-26 65h6m-13-132h6m-33 237h6m-11-129h6m158-246h6m-322 411h6m141-143h6m160-285h6m-86 230h6m49-125h6m-163 185h6m-68 90h6m27 1h6m-121 51h6m128-30h6m-4-143h6m28 61h6m12-24h6m10-61h6m-74 132h6m-2-30h6m254-329h6m-358 326h6m-54 83h6m298-418h6m-115 329h6m81-236h6m-116 221h6m-104 141h6m124-211h6m-92 118h6m-31 85h6m78-243h6m137-187h6m-113 255h6m-27-4h6m231-253h6m-127-31h6m-112 274h6m-112 173h6m100-191h6m-252 180h6m202-154h6m155-281h6m-217 407h6m103-179h6m-195 145h6m-5 40h6m-8-38h6m71-12h6m-116 92h6m141-189h6m-187 149h6m214-179h6m-182 186h6m-56 16h6m123-21h6m-15-75h6m232-234h6m-31 32h6m-234 269h6m336-456h6m-355 467h6m-25-38h6m-86 59h6m45 5h6m4-49h6m-4 66h6m29-103h6m152-240h6m36 48h6m-60 23h6m-20 107h6m-60 148h6m65-318h6m-167 334h6m90-178h6m282-273h6m-135 111h6m-170 108h6m-130 223h6m194-339h6m8 117h6m-98 78h6m-92 64h6m289-328h6m-124 68h6m40 50h6m-99 47h6m-83 231h6m-130-45h6m266-329h6m-71 264h6m130-331h6m-130 260h6m-88 109h6m18-115h6m15 20h6m-44 76h6m-117 30h6m191-239h6m-214 298h6m181-206h6m-2 17h6m-184 122h6m214-114h6m-99 100h6m71-44h6m70-297h6m-97 186h6m-67 99h6m-59 111h6m-119 22h6m34-69h6m124 82h6m-194 0h6m392-454h6m-168 184h6m-36 101h6m38-45h6m-140 193h6m89-125h6m-55-12h6m139-127h6m31-34h6m-129 80h6m-160 250h6m231-370h6m-196 328h6m-78-5h6m221-88h6m-143 101h6m335-441h6m-364 467h6m145-233h6m-204 131h6m116-52h6m-127 70h6m167-78h6m-232 177h6m308-444h6m-111 217h6m170-241h6m-156 147h6m-170 326h6m109-40h6m251-469h6m-295 334h6m232-269h6m-9-9h6m-401 409h6m223-189h6m81-94h6m22-47h6m-275 360h6m195-343h6m-283 356h6m57-82h6m303-375h6m-166 216h6m-244 222h6m132-50h6m80-86h6m52-122h6m-30 48h6m-3 33h6m59-192h6m-111 159h6m91-35h6m39-96h6m-282 245h6m265-318h6m-155 269h6m4 82h6m-123-33h6m136-43h6m-167 160h6m139-248h6m5 177h6m213-391h6m-271 253h6m45-70h6m19-2h6m4 61h6m16-124h6m78-108h6m-196 410h6m45-189h6m-18 112h6m110-288h6m-141 358h6m241-424h6m-257 405h6m163-395h6m-240 448h6m-49-86h6m11 93h6m119-229h6m25-46h6m-57 224h6m-138-61h6m51 116h6m-58 159h6m-156-60h6m38 143h6m-35-55h6m95-146h6m-37 276h6m28-12h6m-77-257h6m166-64h6m-179 249h6m110 45h6m-108-79h6m13-77h6m-11-17h6m62-22h6m-46 217h6m63-275h6m-108 312h6m41-281h6m-24 139h6m-54-196h6m87 113h6m30 79h6m-48-154h6m-6 218h6m-146-168h6m76 146h6m31-232h6m89 144h6m-202-110h6m180-4h6m-62 137h6m-131-99h6m43-50h6m68 160h6m-24-157h6m51-12h6m-121-1h6m-43 46h6m-50-12h6m85 8h6m19 129h6m30-112h6m-21 261h6m-22 6h6m-38-259h6m101 16h6m-42-54h6m-9-31h6m-117 23h6m128 93h6m-83-71h6m145 61h6m-112-88h6m-6 17h6m19 136h6m-155-63h6m63-114h6m121 21h6m-31 262h6m-154-273h6m163 105h6m-171-99h6m68 1h6m-135 45h6m101 129h6m46 97h6m-146-201h6m179 188h6m-55 53h6m-152-239h6m112 173h6m21 17h6m-36 40h6m-56-213h6m70 142h6m-51-25h6m42-212h6m32 175h6m-51-144h6m-41 261h6m79-211h6m-39 251h6m-106-339h6m-62 68h6m80-12h6m121-62h6m-143 75h6m32 109h6m-34 120h6m141-286h6m-82 72h6m-124 177h6m124-216h6m-93-5h6m45 126h6m-21 50h6m-119-146h6m43 8h6m50 129h6m-1 90h6m-76-21h6m131-223h6m-178-10h6m-4 6h6m96 300h6m14-66h6m-9-274h6m-93 67h6m67-48h6m81-34h6m-108 327h6m147-333h6m-91 153h6m-98 146h6m76-54h6m64-263h6m-3 50h6m-116 258h6m-30-233h6m-29 274h6m-7-223h6m44 109h6m67-131h6m-64-57h6m-103 212h6m-5 0h6m71-248h6m25 307h6m-4-38h6m-57 56h6m64-43h6m-50-86h6m67 118h6m-143-134h6m-37-25h6m110 36h6m54-19h6m-89 160h6m-40-129h6m-45-20h6m1 41h6m170-69h6m-3 47h6m-158 11h6m5 64h6m-23 38h6m45-70h6m-7-194h6m-123 31h6m1-29h6m50 187h6m31-42h6m-104-118h6m-1 98h6m46 78h6m25-179h6m90 3h6m-97 258h6m-102-241h6m1 79h6m2 2h6m71 55h6m-83-127h6m119 21h6m-154-27h6m69 194h6m120-61h6m-217-127h6m216-39h6m-134 5h6m73 58h6m-107 188h6m-82-223h6m182 126h6m18-97h6m-99 84h6m81-7h6m-71 148h6m-72-158h6m-29-127h6m66 232h6m119-293h6m-92 52h6m-84 5h6m27 222h6m-17 46h6m-83-169h6m196-6h6m-8-137h6m-183 170h6m36 104h6m156-296h6m-94 346h6m6-213h6m-69-104h6m108 203h6m-26-194h6m9-21h6m-140 221h6m16-16h6m29 140h6m-98-329h6m86 21h6m70 113h6m-115 187h6m45-160h6m-19 92h6m-41-9h6m-53-74h6m-25 22h6m118-3h6m12-146h6m-89 276h6m-32-111h6m121 4h6m-98 40h6m-16 81h6m-77-181h6m87-160h6m-75-5h6m22 257h6m68-94h6m46 99h6m-95-241h6m-68 44h6m-74-3h6m-2-18h6m142 280h6m-73-203h6m48 221h6m-130-266h6m24 7h6m3-5h6m169-67h6m-21 196h6m-2-40h6m-90-134h6m92-22h6m-100 16h6m-61 284h6m127-274h6m-121 298h6m134-308h6m-114 17h6m103 165h6m-178-208h6m-31 253h6m-42-159h6m66 69h6m-45-121h6m156 130h6m-158 11h6m188-189h6m-199 83h6m104 103h6m-33-151h6m0 233h6m-12-181h6m-51 32h6m101 80h6m-142 54h6m93 36h6m-164-248h6m105 211h6m75-141h6m-83 168h6m78 5h6m-7-97h6m-10-147h6m-24-31h6m-65 43h6m8-22h6m66 294h6m-117-159h6m6-102h6m-57-50h6m61 207h6m-20 51h6m-71-265h6m159 200h6m-108 144h6m119-150h6m-177 19h6m59-172h6m104 359h6m-34-10h6m-7 20h6m24-28h6m-13 40h6m-14 2h6m-16-30h6m11-2h6m-18-9h6m5 44h6"/>
<path stroke="#7a2eb0" d="m932 2424h6m159 112h6m-132 162h6m11-47h6m3-203h6m26 150h6m-117 3h6m71-63h6m-161 5h6m107-5h6m-22-47h6m92 118h6m-9 55h6m-34 52h6m-72-277h6m99 157h6m-187-70h6m158 147h6m16-181h6m-100 111h6m24 97h6m-55-59h6m13-31h6m33-79h6m8-64h6m43 196h6m-137-117h6m143 137h6m-161-222h6m113 247h6m-47-160h6m68 121h6m-133-70h6m-26-159h6m-42 94h6m78 151h6m87-38h6m-15 6h6m11 22h6m-109-135h6m15-73h6m23-35h6m86 178h6m-255-48h6m212-40h6m-220-38h6m69-5h6m122 140h6m-44-101h6m-123 184h6m11-174h6m28 79h6m-124-45h6m230 2h6m-151-21h6m83-2h6m-59-87h6m-9 65h6m67 193h6m-107-292h6m-4 20h6m-30 210h6m-23-22h6m78-111h6m-68-75h6m125 187h6m-113-55h6m-31 68h6m34 59h6m-24-189h6m12-49h6m23 56h6m-109 58h6m85 123h6m45-50h6m15-109h6m-154 128h6m83-138h6m-69 20h6m76 129h6m55-95h6m-169 21h6m71-146h6m-58 188h6m-14-120h6m89 187h6m-32-25h6m-22-229h6m75 200h6m-129-45h6m23-155h6m95 96h6m-45 105h6m-110-6h6m142-30h6m-98 32h6m-8-198h6m27-27h6m-57 182h6m12-125h6m34 173h6m34-30h6m-54 81h6m22-263h6m37 61h6m-161 8h6m12 108h6m132 31h6m-136-183h6m124 205h6m-99-187h6m-8 14h6m-7-48h6m-56 259h6m41-205h6m-7 91h6m80 45h6m-26-107h6m-54-9h6m-123 91h6m79-105h6m-49 35h6m30 144h6m-15-285h6m12 179h6m81 98h6m-103-27h6m-56-4h6m87 42h6m-19-179h6m18 168h6m-39-145h6m111 9h6m-21 22h6m-126 12h6m-40-78h6m48 18h6m-99-21h6m91-59h6m38 85h6m-17 154h6m-55-131h6m-15 71h6m2-56h6m23 138h6m88-18h6m-80-268h6m-49 22h6m-25 268h6m-22-139h6m134-3h6m-4 121h6m-6-126h6m-34-82h6m-36-15h6m-94 146h6m-13-84h6m69 185h6m-152-162h6m31 117h6m107 44h6m64-67h6m-26-197h6m-71 16h6m58 111h6m-9-76h6m-120 39h6m56-67h6m-145 10h6m113-23h6m-65 48h6m73 196h6m83-135h6m-35 60h6m-3 13h6m-114 27h6m-36 9h6m-89-113h6m242-39h6m-184-69h6m-14-9h6m50 16h6m-54-20h6m-48 95h6m194 13h6m9 52h6m-164-168h6m181 173h6m-180-54h6m149-23h6m-50-51h6m-103 225h6m-74-60h6m54 57h6m74-31h6m49-141h6m-134 12h6m12-77h6m-103 177h6m204 40h6m-73-263h6m4 78h6m74 164h6m-107-231h6m32 110h6m-81-148h6m58 119h6m-86 115h6m-50-174h6m-67 32h6m40 185h6m81-194h6m-62 21h6m106-32h6m-14-15h6m-71-5h6m-103 140h6m137 112h6m-77-141h6m98-89h6m-177 127h6m71-142h6m13 71h6m-64-77h6m43 89h6m74-107h6m-220 120h6m41-39h6m32-63h6m151 95h6m-166 150h6m27-125h6m-16 119h6m7-65h6m-3 72h6m92-202h6m4 170h6m-42-129h6m-19-24h6m-161 6h6m176-36h6m-90 234h6m-45-211h6m15-56h6m82 230h6m-15-16h6m-68-169h6m-84 103h6m166 45h6m-95-27h6m-9 12h6m-23-83h6m128 94h6m1-144h6m-119 27h6m38 176h6m-57-145h6m-78 116h6m36-209h6m16 207h6m78-175h6m-51-1h6m-64 46h6m-18-102h6m83 293h6m26-223h6m-70 83h6m-113 7h6m60-175h6m17 247h6m46 51h6m-52-268h6m-12-10h6m64-1h6m30 232h6m-81 24h6m-38-159h6m27 54h6m-32-125h6m-1-57h6m61 104h6m-52 176h6m56-245h6m-103 259h6m127-4h6m-201-223h6m115 120h6m-43-108h6m51-23h6m57 259h6m-44-53h6m-24-225h6m-12 48h6m6 124h6m-120-133h6m98 79h6m-62-46h6m112 187h6m-119-43h6m-139-81h6m179-41h6m-71-42h6m-49-42h6m1 241h6m-17-153h6m98 13h6m-71-49h6m-27 194h6m78-143h6m-176 16h6m97-87h6m38 205h6m-57-163h6m17-71h6m3 60h6m18-43h6m19 210h6m42-127h6m-176 107h6m70-186h6m-53 185h6m44-212h6m-4 11h6m35-17h6m-46 156h6m-28-23h6m-83-123h6m69 27h6m77-43h6m-81-16h6m18 239h6m51 10h6m-81-69h6m-7 101h6m6-191h6m77 30h6m-151 107h6m89 277h6m24-16h6m-42-105h6m-114-47h6m37 3h6m115 180h6m-78-15h6m193 39h6m-110 13h6m-109-178h6m78-43h6m-27 72h6m-92 73h6m147-72h6m-220-39h6m73 118h6m115-18h6m-24 61h6m-4 32h6m91-27h6m-170-21h6m-55-188h6m37 23h6m7 49h6m-31 85h6m99 36h6m-177-30h6m191 19h6m-177-150h6m101 200h6m-43-248h6m-65 10h6m103 181h6m-147-167h6m13 35h6m102 117h6m21-78h6m-89 24h6m52-121h6m-57 237h6m-19-30h6m-100-123h6m119-73h6m-123 143h6m67-141h6m17 80h6m20 79h6m-119 32h6m95-6h6m-12 16h6m168 13h6m-203-168h6m-53 73h6m198 26h6m-77 35h6m-44 37h6m-128-83h6m146 94h6m-47-246h6m-131 37h6m179 12h6m-65 164h6m7-28h6m-29-133h6m134 176h6m-68-33h6m-103-96h6m-41-89h6m-22 117h6m44-122h6m-5 19h6m-48 72h6m24 27h6m-39-78h6m135 122h6m-207-152h6m155 16h6m-9 157h6m22 15h6m-91-107h6m-6-52h6m43 190h6m14-57h6m-94-26h6m51-20h6m11 123h6m9-43h6m-99-48h6m75 32h6m-86 16h6m48-35h6m4-39h6m-100-30h6m184 23h6m-155-96h6m-70 176h6m-17-38h6m213-37h6m-129 120h6m-2-123h6m-102 22h6m64-83h6m-2 129h6m19-126h6m188 136h6m-163 39h6m-67-122h6m33 104h6m72-39h6m21-68h6m-37 140h6m-107-147h6m-112-55h6m152 13h6m-64 24h6m159 105h6m-268-178h6m187 163h6m32-63h6m-178-45h6m163 101h6m-232-150h6m120 177h6m72 20h6m-117-75h6m120-58h6m13-31h6m-81 28h6m17 80h6m-31-72h6m59 90h6m-117-184h6m-112 129h6m109-121h6m21 104h6m-24 14h6m-32-39h6m-25 105h6m142 26h6m-167-113h6m199 115h6m-289-195h6m-1 121h6m153-129h6m-125 211h6m97 12h6m2-31h6m-82-211h6m32 108h6m104 9h6m-243-43h6m38 68h6m112-130h6m138 162h6m-77-12h6m-68-142h6m-79 184h6m-36 7h6m67-176h6m-88 29h6m134 33h6m-112-26h6m8 24h6m-42-82h6m40 227h6m28 8h6m-78-214h6m128 200h6m-63-36h6m-98-76h6m185 99h6m-236-58h6m99-76h6m-31-19h6m82 39h6m-120-64h6m-46 157h6m136 12h6m-167-53h6m129-59h6m8-38h6m-132 96h6m-22-105h6m54 8h6m-59 115h6m-8-151h6m20 14h6m51 141h6m-60 18h6m151-80h6m-113-91h6m15 189h6m57-117h6m-104-83h6m150 166h6m-1 72h6m-74-191h6m-72-23h6m-16 96h6m-26 89h6m-31-198h6m35 90h6m25-37h6m17 82h6m-67-146h6m-23 159h6m-29-84h6m36 96h6m81 63h6m-74-63h6m-74-22h6m-32-6h6m148-143h6m19 185h6m-84-67h6m67-17h6m-186-85h6m141 106h6m-71 36h6m-43-168h6m-56 137h6m109-106h6m-29 193h6m-26-152h6m139 21h6m-203-54h6m24 162h6m186-48h6m-151-83h6m4 145h6m51-51h6m-15 70h6m-81-151h6m177 60h6m-245 67h6m134-203h6m-162 134h6m133 72h6m-66-112h6m144 114h6m-114-24h6m10-73h6m7-106h6m92 212h6m-145-193h6m-93 10h6m78 174h6m-28-89h6m53-3h6m-128-15h6m133-133h6m68 234h6m-244-201h6m-16 10h6m143 138h6m-65-108h6m67 191h6m-46-26h6m96-41h6m-202-128h6m144 141h6m-153-173h6m221 148h6m-195-57h6m53 125h6m53-46h6m-2-88h6m74 47h6m-172-111h6m-100-9h6m87 169h6m-114-188h6m112 126h6m73-27h6m-109 87h6m40 48h6m162-34h6m-63-5h6m-119-209h6m54 164h6m-112-44h6m38-56h6m151 162h6m-113-48h6m-19-12h6m-9 33h6m-14-163h6m22 214h6m-53-19h6m3-226h6m-152 162h6m147 26h6m-42 25h6m131 24h6m-216-218h6m79 227h6m-26-73h6m-122-157h6m47 69h6m98 129h6m-22-209h6m106 142h6m-43-47h6m-123 141h6m107-63h6m-82-179h6m-27 207h6m-21-171h6m138 177h6m-99-191h6m-2 73h6m-20 70h6m-66-145h6m110 97h6m-63 138h6m97-88h6m-83-128h6m-2 148h6m-22 62h6m-2-180h6m-20 174h6m8 1h6m43-154h6m-93 159h6m-24-215h6m10 197h6m-61-159h6m95 178h6m-78-146h6m-62-70h6m21 60h6m152 89h6m18 31h6m-195-184h6m-52 3h6m224 100h6m-94 127h6m44-106h6"/>
<path stroke="#ffa500" d="m1205 2544h6m59-24h6m-104-63h6m12 93h6m-99-59h6m-115-36h6m29 54h6m212 12h6m53-27h6m-315-6h6m86-32h6m123 81h6m135-17h6m-267-88h6m-79 26h6m218 69h6m-195-41h6m27-88h6m198 107h6m-1 52h6m-188-64h6m126 61h6m-282-86h6m109 29h6m-56-46h6m-86 16h6m330-21h6m-86 6h6m-238 6h6m155-9h6m-90-34h6m1 2h6m103 126h6m-53-122h6m92 95h6m-226-40h6m325-15h6m6 33h6m-348-69h6m93 32h6m-106 2h6m282-8h6m-151-2h6m204 51h6m-38-21h6m-352-69h6m259 109h6m-36-19h6m-49 43h6m-77-31h6m-55-13h6m155 28h6m-66-37h6m186 72h6m-95-16h6m-186-92h6m-58-9h6m177 21h6m39 51h6m-195-62h6m129 39h6m-119-25h6m149 95h6m-185-99h6m-27-23h6m-20 12h6m49 44h6m49 26h6m-78-76h6m238 26h6m-137 58h6m-107-7h6m198-7h6m-163-17h6m-132-18h6m-4 18h6m8-101h6m-64 67h6m118 31h6m121-68h6m-201-15h6m37 91h6m25-76h6m3 69h6m98 7h6m-177-76h6m-62 39h6m85-67h6m72 37h6m5-10h6m112 23h6m-143 1h6m-139-12h6m66 27h6m-55 8h6m-43 17h6m264-41h6m-257-37h6m193 83h6m-46-1h6m-86 1h6m-15-73h6m-94 56h6m139-13h6m299 27h6m-3-66h6m-35 187h6m-4-102h6m-65-26h6m72 27h6m-41 61h6m31-143h6m-93 60h6m15 22h6m32-52h6m-14 35h6m-44 5h6m70-41h6m52 53h6m-77-36h6m83-28h6m-35 23h6m17 37h6m14-13h6m-12 82h6m-36-150h6m-71 29h6m7 101h6m-28-41h6m93 52h6m23-83h6m-166 34h6m21-26h6m-13-4h6m-20-52h6m-12 113h6m134 51h6m-95-153h6m66 70h6m-46 71h6m-56-115h6m7-36h6m-12 92h6m8-22h6m96 39h6m-77-22h6m33-38h6m24 51h6m-66 78h6m-59-216h6m-2 191h6m9-75h6m-7-31h6m68 17h6m22-2h6m-92 15h6m-1-1h6m-110 15h6m129-104h6m-69 20h6m-39 64h6m48 92h6m-48 3h6m133-47h6m-166 9h6m94-145h6m-4 3h6m-7 74h6m-48 13h6m-10 133h6m-14-37h6m61-94h6m-76-31h6m69 148h6m-60-134h6m-35-45h6m-6 20h6m-2-2h6m-40 48h6m11-4h6m-36-42h6m113 82h6m-87-119h6m87 157h6m-70-15h6m-22-96h6m-7-67h6m-25 114h6m69-24h6m-73-76h6m-5 50h6m50 121h6m54-15h6m-40-69h6m35 67h6m-7-48h6m-171-43h6m87 134h6m-8-123h6m-10 79h6m-7 56h6m-33-118h6m-16-90h6m81 69h6m-153 1h6m82 128h6m-6-126h6m-98 68h6m51 54h6m84-45h6m-3 58h6m-62-77h6m-23-35h6m46-62h6m-71 179h6m103-68h6m-38-43h6m-98-26h6m123-19h6m-132 105h6m88-22h6m-36-130h6m7 96h6m-38-67h6m-45-43h6m-75 80h6m22 27h6m133 78h6m-15 10h6m-95-190h6m11 64h6m85 97h6m-137-34h6m79-131h6m-90 86h6m-14 10h6m108 64h6m-98-150h6m9 59h6m36 118h6m-35-107h6m-23-11h6m64 1h6m-129 0h6m101 63h6m41-100h6m-135 87h6m25-47h6m44 74h6m-97-7h6m27-39h6m71-62h6m-28 111h6m-58-67h6m40 28h6m55 64h6m-159-43h6m92-42h6m-43 49h6m34-116h6m-34 126h6m61-8h6m0-92h6m-71 150h6m62-37h6m-69-106h6m47 97h6m-50 54h6m-19-199h6m-83 147h6m24-132h6m123 50h6m-109-49h6m-58 74h6m49-34h6m77-38h6m-38 154h6m-44-87h6m35-72h6m-14 25h6m-75 28h6m53-11h6m-72 13h6m23-47h6m-27 40h6m-28-61h6m87 42h6m-72 22h6m-21-3h6m55 14h6m-49 20h6m113-54h6m-147 78h6m92-28h6m-15-109h6m11 98h6m-76-41h6m-69 4h6m78 108h6m-28-93h6m-10 28h6m64 36h6m-93-114h6m78 159h6m-79-154h6m78 137h6m-58-143h6m37 88h6m30 75h6m230 202h6m-28 11h6m52-31h6m-242-61h6m209 61h6m-130-150h6m41-19h6m25 196h6m-6-70h6m-84-38h6m27 36h6m-111 6h6m96-29h6m-89-123h6m-56-20h6m17 17h6m76 59h6m149 118h6m-121 36h6m-121-1h6m171-6h6m-183-44h6m15-28h6m80 70h6m-92-191h6m73 188h6m133 8h6m-173-18h6m-152-115h6m117-23h6m3 8h6m97 145h6m-21-102h6m-72 38h6m-54-37h6m-11 4h6m-131-50h6m121 120h6m-7 68h6m52-96h6m-187-102h6m301 185h6m-130-18h6m-74-147h6m78 125h6m91-1h6m-181-50h6m160 48h6m-186-171h6m165 165h6m-81-44h6m53 62h6m-213-147h6m140 67h6m-200-85h6m295 144h6m-163-134h6m123 148h6m-28-92h6m-146-43h6m93 162h6m-8 18h6m-134-86h6m118 54h6m-8 5h6m-213-148h6m167 9h6m121 135h6m-134-50h6m70-15h6m74 54h6m-29 22h6m-122-188h6m31 125h6m-105-44h6m-21 135h6m-92-180h6m162-24h6m62 91h6m-6 78h6m-16-55h6m-133-128h6m92 83h6m-49 62h6m-101-59h6m48 11h6m-42 24h6m89-44h6m-125 18h6m11-69h6m26 69h6m1-65h6m75-2h6m-206-21h6m-42 10h6m185 143h6m17-37h6m-68 81h6m-62-157h6m20 91h6m136 34h6m-167-21h6m5-59h6m120-93h6m-80 44h6m-37 12h6m-33 4h6m202 117h6m-158-22h6m34-66h6m-4 95h6m86-14h6m-221-28h6m-44-100h6m118 0h6m-22-36h6m107 178h6m38-42h6m-78-28h6m-185-165h6m106 232h6m23-30h6m59-76h6m-80 24h6m153 70h6m-141 38h6m-40-67h6m21 44h6m-118 26h6m144-37h6m-192-110h6m-20-102h6m-14 62h6m288 163h6m-283-140h6m78-43h6m-30 25h6m126-1h6m-63 146h6m-11-68h6m77-65h6m-147 23h6m-28 113h6m-14-14h6m146-115h6m-46 69h6m-75 13h6m100-20h6m-150-79h6m117 140h6m-74 50h6m-124-143h6m22 6h6m141 106h6m-113-95h6m32 121h6m91-169h6m-129-78h6m-26 167h6m203 54h6m-279-80h6m161-100h6m-73-12h6m65 13h6m-15 65h6m-59 43h6m69 60h6m47 29h6m-117-144h6m86-21h6m-130-75h6m18 249h6m62-100h6m28-65h6m-17 141h6m10-128h6m-137 145h6m-122-195h6m20 17h6m108 56h6m-73-96h6m67 64h6m-130 16h6m119 25h6m58 93h6m-37-25h6m46-64h6m-26 71h6m29-106h6m-257-25h6m209 28h6m-32 80h6m-79-77h6m148 69h6m-146-110h6m191 147h6m-145-85h6m106 130h6m-166-138h6m-76-61h6m40 56h6m66 108h6m13-69h6m-73 107h6m42-140h6m50-43h6m-5 83h6m-106 29h6m59 42h6m-83-132h6m-9-12h6m42 41h6m-94-6h6m240 96h6m-206 23h6m141-18h6m-57-77h6m-110 72h6m132-94h6m-85 20h6m-105-150h6m74 201h6m123-3h6m-126-81h6m73 118h6m-213-243h6m234 242h6m-136-211h6m-48 34h6m107 103h6m-117-142h6m-122 45h6m221 32h6m-68 85h6m-19-76h6m34 127h6m-75-214h6m109 103h6m-70 32h6m8-106h6m-5 133h6m-172-137h6m70-37h6m107 182h6m-131 39h6m-61-128h6m212 65h6m-163-3h6m-69-7h6m86-170h6m202 241h6m-220 21h6m4-129h6m12 13h6m-61 41h6m7-77h6m-12-106h6m108 98h6m-90 167h6m135-39h6m-103 38h6m-72-117h6m34 90h6m-63-144h6m-70-18h6m113 79h6m-80-34h6m152-1h6m-60 35h6m-37-101h6m71 206h6m-51-118h6m28 84h6m-109-46h6m-71-78h6m205-21h6m-102 50h6m75-43h6m-128 41h6m135-27h6m-137 16h6m-21 65h6m50 80h6m86-188h6m23 184h6m-85-213h6m-92 0h6m-78 320h6m9-46h6m-81 57h6m123-24h6m24-61h6m17 4h6m-77 54h6m15-29h6m12-4h6m15-37h6m-106 76h6m33-46h6m27 4h6m-10-11h6m-89 30h6m50-17h6m52-20h6m-76 33h6m66-50h6m5 3h6m-60 21h6m-11-1h6m-57 22h6m-17 14h6m60-32h6m21-16h6m-80 32h6m-37 41h6m20-23h6m20-8h6m49-24h6m-43 0h6m58-26h6m-57 17h6m29-14h6m-131 65h6m-45 20h6m117-34h6"/>
<path stroke="#87ceeb" d="m2085 2971h6m-161-167h6m26 446h6m1 213h6m3-250h6m-40 323h6m49-278h6m5 107h6m-33 45h6m61-391h6m-103-124h6m-71-77h6m75 46h6m64 308h6m-91 9h6m21 71h6m-68-197h6m79-130h6m-4 114h6m-45-168h6m26 320h6m11 0h6m52-71h6m-69-153h6m-15 140h6m-44-213h6m7 13h6m68 477h6m-100-385h6m-138-156h6m196 556h6m-10-344h6m-85 394h6m-65-572h6m169 291h6m-16-38h6m-68 163h6m-39-23h6m57-56h6m-7-86h6m-137-177h6m72 274h6m57-204h6m-23-162h6m-92-58h6m35 511h6m111-189h6m-38-139h6m-47 331h6m-66-437h6m66-7h6m7 85h6m-127 24h6m-9-172h6m72 152h6m70 360h6m-97-190h6m87 175h6m-75-279h6m-129-135h6m84 15h6m-126-32h6m147 14h6m-88 150h6m80 227h6m5-240h6m-82 144h6m-24-118h6m96 185h6m-123-335h6m58-21h6m-43 7h6m133 397h6m-105-452h6m39 320h6m-74-22h6m53-238h6m-11 341h6m-36-271h6m9 35h6m-31-122h6m-135-39h6m156 583h6m22-12h6m-49-231h6m47-31h6m31-14h6m-131-291h6m72 581h6m-200-584h6m201 182h6m-131-99h6m126 14h6m-34 243h6m-161-335h6m78 236h6m58 338h6m-17-515h6m-155-50h6m232 129h6m-60 337h6m31-282h6m-83 214h6m-14 148h6m-81-562h6m42 414h6m-27-180h6m99 85h6m-89 352h6m24-319h6m-121-246h6m60 88h6m118 287h6m-158-341h6m28-124h6m115 450h6m-124-51h6m56-28h6m70-239h6m-195-176h6m29 328h6m33-237h6m-42 353h6m-53-429h6m115 409h6m-167-398h6m93 454h6m-10 258h6m55-429h6m77-163h6m-61 58h6m-177-98h6m52 182h6m52-144h6m66 16h6m-135-18h6m95 56h6m-64 258h6m-73-467h6m-10 58h6m130 299h6m-51 4h6m59-236h6m-93-47h6m-102 20h6m60 250h6m45 155h6m19-291h6m-109-61h6m127 479h6m-154-534h6m77 516h6m-13-558h6m-32 2h6m54 215h6m47 59h6m-121 158h6m18 153h6m108-498h6m-62 414h6m28-241h6m-36 224h6m-15 26h6m-171-516h6m106 461h6m-44-439h6m-92-33h6m122 650h6m28-546h6m-112-115h6m132 414h6m-26-86h6m-52-271h6m1 386h6m-26 63h6m-87-448h6m124-1h6m-34 585h6m74-522h6m-39 278h6m-104-229h6m55 212h6m65-3h6m-60-332h6m17 225h6m14 98h6m-197-261h6m172 261h6m-60-59h6m-47 36h6m-3 90h6m71 137h6m-6-142h6m-68-400h6m24 409h6m77-8h6m-134-175h6m94-182h6m-44 306h6m-115-329h6m146 359h6m-99 69h6m49-373h6m-61 527h6m111-479h6m-136 102h6m-69-197h6m77 2h6m-81-58h6m109 145h6m17-27h6m-47-63h6m46 105h6m6-49h6m-75 358h6m88-204h6m-139-267h6m8 104h6m122 374h6m-2 2h6m-36-339h6m-43 179h6m-108-179h6m148 207h6m-51-220h6m48 80h6m-196-53h6m132 259h6m44-14h6m-49-22h6m-120-387h6m94 487h6m-41-324h6m-46 362h6m9-472h6m80 225h6m-1 205h6m-35-105h6m22 225h6m-179-559h6m177 312h6m-11-140h6m6 76h6m-84 353h6m86-171h6m-259-451h6m220 324h6m-26 85h6m-100 51h6m126 5h6m-132-1h6m-15-311h6m135 37h6m-168-70h6m123 357h6m-25-185h6m-80 138h6m-103-349h6m231 22h6m-151 273h6m-90-346h6m128 257h6m17 293h6m-106-623h6m116 155h6m-1 138h6m-23 0h6m-47 87h6m-40 56h6m91-226h6m-13 101h6m-133-162h6m-5-2h6m6 20h6m111 65h6m-108 33h6m79-168h6m-96 645h6m82-466h6m21 10h6m-241-232h6m197 550h6m-21-146h6m-51 188h6m48-517h6m-153-26h6m155 1h6m-152-22h6m133 380h6m-10-150h6m5 129h6m-50 178h6m73-528h6m-169 86h6m71 327h6m-104-469h6m25 159h6m-53-126h6m-14 22h6m88 108h6m115 34h6m-15 155h6m-12 5h6m-10 141h6m-55-315h6m-59-107h6m54-16h6m48 452h6m-39 99h6m17-203h6m-245-392h6m257 219h6m-140-82h6m3-139h6m-8 520h6m18-133h6m43 144h6m-53-161h6m90-79h6m-112 314h6m63-420h6m-89 310h6m6 154h6m-20 53h6m59-283h6m63-143h6m-150 360h6m64-415h6m45 310h6m-80-174h6m87-243h6m-68 224h6m-95 351h6m52-209h6m52-364h6m-52 169h6m-30 49h6m107 121h6m-127-362h6m7 559h6m53-328h6m17-89h6m-202-185h6m146 77h6m-1 485h6m-80-575h6m88 548h6m25-366h6m7-25h6m-173-184h6m50 549h6m-111-436h6m184 25h6m-106 169h6m-39 386h6m103-179h6m-19 2h6m39-49h6m-155-492h6m139 167h6m3 223h6m-116 296h6m9-7h6m-17-3h6m43-484h6m48 251h6m-72-100h6m-109-249h6m57 325h6m-133-416h6m149 120h6m16 74h6m4-60h6m-122-152h6m71 387h6m-66-45h6m138-96h6m-122 91h6m-19-309h6m-12 50h6m120 290h6m-36 22h6m-25 176h6m32-267h6m-59 93h6m-100-203h6m102-112h6m38 86h6m-121 32h6m44 363h6m-31-542h6m82 466h6m-41-114h6m-47-75h6m-55 28h6m23-172h6m43-30h6m10 296h6m-10-49h6m-100-119h6m39 218h6m-51-214h6m125 161h6m-99-24h6m112-124h6m-14-108h6m-93 310h6m69-9h6m-1-225h6m-73-85h6m43-43h6m-145 50h6m16 292h6m11 283h6m85-217h6m5-299h6m-123 521h6m88-439h6m-129-217h6m102 436h6m-176-493h6m75 234h6m107-66h6m-91-152h6m46 287h6m-36 336h6m-40-7h6m135-434h6m-16 238h6m14-271h6m-106 418h6m-63-328h6m-10-242h6m22 415h6m8 187h6m-54-517h6m-6-118h6m28 648h6m-14-603h6m117 311h6m-71-276h6m61 110h6m-51 191h6m52-138h6m-76 108h6m-58-315h6m-100 36h6m80 547h6m-71-580h6m120 435h6m-26-320h6m-67 341h6m126-284h6m-111 519h6m125-612h6m-105 93h6m-62-118h6m86 112h6m-140-220h6m149 159h6m-64 533h6m-4-395h6m-56-5h6m26 421h6m52-322h6m-85 50h6m43-81h6m-43-260h6m-47-90h6m1 168h6m9 328h6m109-315h6m-90-114h6m-65 100h6m140 231h6m-107 297h6m-25-215h6m-11-134h6m-16 405h6m1-713h6m25 240h6m-55-211h6m-68 42h6m147 116h6m13-68h6m-119 3h6m87 449h6m-88-535h6m37 540h6m-114-481h6m-31-112h6m185 543h6m41-389h6m-104 434h6m38-316h6m18-160h6m26 314h6m-30-234h6m-27-152h6m-79 259h6m-15 171h6m70-270h6m20-105h6m-73 528h6m-110-548h6m65 343h6m85-243h6m-216-150h6m148 35h6m-71-17h6m45 423h6m72-85h6m-64-68h6m-94-349h6m34 741h6m-24-460h6m-16-201h6m150 419h6m-131 7h6m-14-225h6m89 153h6m30-83h6m-72 284h6m46-447h6m-114 181h6m-12 175h6m-7 136h6m78-467h6m-40 141h6m6 52h6m13 78h6m33-18h6m-192-466h6m-24 130h6m206 121h6m-56 144h6m-115-80h6m83 369h6m-30-261h6m102-188h6m-39 124h6m11 155h6m-150-256h6m1 11h6m124-141h6m-40 298h6m-58 33h6m-33-385h6m20 396h6m31-69h6m-105-299h6m170 97h6m-73 121h6m61-200h6m-102 418h6m-53-20h6m-85-440h6m151 15h6m-114 75h6m83 312h6m-31 28h6m24-328h6m46 337h6m-3-214h6m-36-140h6m-89 29h6m-88-100h6m-27-31h6m100 1h6m-38 199h6m21-197h6m-4 569h6m74-541h6m11 187h6m-93-232h6m9 205h6m14 96h6m-101-255h6m138 122h6m-115-9h6m132-10h6m-94-96h6m30 129h6m-103-108h6m91 259h6m-185-353h6m62 100h6m-37-111h6m96 380h6m-63-57h6m67 65h6m-63 287h6m123-548h6m-165-3h6"/>
<path stroke="#fb9a99" d="m898 3198h6m9 23h6m33 10h6m-86 13h6m47-78h6m-31 30h6m-91 42h6m40 65h6m-33-113h6m-29 21h6m79 75h6m6-19h6m-15 12h6m-143-28h6m27 23h6m-13-50h6m144 15h6m-45 7h6m-21 33h6m24-75h6m-112 71h6m117-73h6m-75 21h6m-135-35h6m31 61h6m129 37h6m-35-49h6m20-6h6m12-24h6m-39 25h6m-102 42h6m22-1h6m-95-70h6m20 72h6m-13 9h6m40-26h6m-6 23h6m-38-85h6m110 91h6m-146-32h6m51-2h6m-47-70h6m104 84h6m64-21h6m-7-3h6m-23 40h6m35-63h6m-99 22h6m-130-43h6m78 90h6m7-51h6m30 40h6m-68 27h6m117-17h6m-73-24h6m-31 23h6m-32-69h6m101-49h6m-81 142h6m-18-117h6m-27 54h6m26 47h6m46-74h6m13 2h6m-39-25h6m-118 34h6m113 32h6m-90-50h6m-67 12h6m135 54h6m-15-4h6m-48 38h6m-85-78h6m-17-21h6m-33 35h6m232-30h6m-142 88h6m-19-75h6m31 11h6m-27 33h6m-23-70h6m-58 45h6m8 2h6m-13 18h6m2-20h6m91 6h6m-83-9h6m171-19h6m-57-49h6m-158 78h6m116-66h6m-49 35h6m-95 18h6m125-65h6m16 52h6m-169 20h6m32 23h6m128-14h6m-153-31h6m91 48h6m7 0h6m56-1h6m-121-62h6m-1 62h6m-77-88h6m44 110h6m-51-28h6m169-25h6m-211 5h6m105-35h6m-136 7h6m45-16h6m-31-3h6m16 23h6m159-16h6m31 7h6m-33-56h6m-72 133h6m-116-57h6m127 54h6m19-116h6m-151 75h6m74-46h6m-56 0h6m-34 91h6m127-32h6m-22-82h6m-74 26h6m64-38h6m-167 55h6m17-17h6m26 106h6m88-90h6m49-59h6m-233 53h6m165 19h6m-114 39h6m104 16h6m35-4h6m-46-34h6m-33 54h6m-86-80h6m-57 49h6m136-56h6m-29-2h6m23 17h6m-71 16h6m26-29h6m-105 14h6m223-12h6m-139 67h6m-122-50h6m75-34h6m-81-9h6m134 43h6m-5 13h6m64-2h6m6-55h6m-10-30h6m-69 0h6m-90 112h6m-29-41h6m-50-5h6m60 20h6m85-6h6m-131-12h6m113 34h6m-84 34h6m-70-84h6m119-12h6m3 69h6m34-109h6m-194 24h6m190-16h6m-24 99h6m-64-40h6m-103-19h6m212 8h6m-56 27h6m-201 47h6m-13-21h6m-44 37h6m3-2h6m12-25h6m-15 53h6m-57-52h6m9 36h6m19-13h6m-27 25h6m-29-54h6m46 31h6m7-13h6m-58 23h6m68 7h6m-58-29h6m-7 37h6m32-67h6m-50 14h6m13 17h6m-19-19h6m89 34h6m-80 35h6m-20-20h6m-42-29h6m24 30h6m13-14h6m24-45h6m-36 43h6m51 10h6m-74 5h6m77 14h6m-95-29h6m24-20h6m22-19h6m-41 54h6m-28-19h6m-23-14h6m89 4h6m-111 29h6m85-49h6m-67 54h6m-6-59h6m-11-3h6m66 50h6m-4 23h6m-39 39h6m39 182h6m14-164h6m-6 165h6m-55-160h6m59 150h6m-52-150h6m-41-8h6m79 34h6m-78-7h6m49 145h6m-44 3h6m11-118h6m-36 8h6m-17 101h6m54-39h6m-58 46h6m-13-187h6m51 22h6m0 173h6m-100-36h6m88 6h6m-48-112h6m47-37h6m-49 7h6m21 33h6m31 66h6m-53 62h6m6-89h6m-98-12h6m83 85h6m-88-107h6m91-44h6m-38 117h6m-73-6h6m97-97h6m4 151h6m-24-138h6m-78-18h6m32 61h6m33-37h6m12 50h6m-117-104h6m36 198h6m12-186h6m-67 48h6m-5 110h6m45-5h6m51-18h6m-22 36h6m-84-112h6m0 14h6m13-78h6m-15 58h6m-2-44h6m9 10h6m9-21h6m-88 53h6m55-56h6m37 122h6m-100 30h6m14 28h6m9 1h6m82 4h6m-64-138h6m53 106h6m-69-109h6m18 36h6m-27-32h6m-58 36h6m31-91h6m0 63h6m44 71h6m-98-113h6m8 23h6m38 85h6m-36-16h6m88 54h6m-131 6h6m-26-89h6m4-8h6m98-17h6m-78-57h6m55 176h6"/>
<path stroke="#1476ba" d="m1331 3360h6m22 45h6m213-25h6m-154-85h6m-109 103h6m2 94h6m-73 81h6m144-91h6m-20-186h6m29 148h6m-17-173h6m-63 20h6m138 59h6m-125-122h6m-49 176h6m-34 146h6m48-147h6m-65 131h6m75-5h6m91-171h6m-249 241h6m116-285h6m18-70h6m-32 38h6m169 100h6m-197 85h6m-42 97h6m216-231h6m-8 12h6m-34-6h6m39 7h6m-48 4h6m-231 224h6m64-265h6m-2 133h6m8-64h6m106-49h6m-60 149h6m137-148h6m-73 1h6m-124 54h6m92-46h6m-119 70h6m-43-11h6m-69 178h6m120-291h6m33 226h6m-136 66h6m5-166h6m237 30h6m-228-36h6m39 99h6m97-135h6m-107 159h6m-8-28h6m29-82h6m6 68h6m-46-206h6m-79 32h6m154 45h6m-94 144h6m40-294h6m-108 221h6m145 43h6m-35-179h6m-35-91h6m-12 37h6m26 276h6m-125-90h6m-85 159h6m291-276h6m-114-106h6m127 182h6m-33 52h6m-183 4h6m12-193h6m172 53h6m-47 236h6m-125-127h6m-93-22h6m211 11h6m-194 149h6m188-181h6m-13-33h6m-18 15h6m35 23h6m-38-64h6m-101 200h6m89-212h6m29 76h6m-166-191h6m90 182h6m-159-27h6m224 116h6m-141-216h6m-9-48h6m16 272h6m46-107h6m-170 109h6m209 35h6m-159-302h6m6 334h6m-24-261h6m-92 289h6m152-61h6m-4-30h6m38-110h6m-147-116h6m-32 40h6m205 41h6m-329 277h6m322-126h6m-207 38h6m-58-141h6m2 72h6m-50 123h6m127-71h6m-21-252h6m18 24h6m-100 66h6m13 256h6m-31 1h6m86-79h6m-42-246h6m-75 306h6m-39-18h6m268-191h6m-80-33h6m-100 54h6m-97 121h6m20 52h6m20-219h6m43-129h6m-52 393h6m121-138h6m-10 33h6m-36-59h6m-53-204h6m-117 272h6m281-114h6m-18 38h6m-37 21h6m27-136h6m-205 254h6m-59 19h6m265-131h6m-153-98h6m-32-79h6m-34 70h6m-62-8h6m56 85h6m56-151h6m38 70h6m-113-55h6m-58 117h6m50-100h6m109 42h6m-148-18h6m62-82h6m-98 84h6m148 47h6m45 110h6m-42-24h6m-171-181h6m126-83h6m-98 312h6m-117 61h6m276-244h6m-59-34h6m-161 305h6m43-27h6m31-351h6m91 142h6m-121 116h6m57 11h6m-7-4h6m54-36h6m-209-28h6m225-82h6m-193 243h6m-126-40h6m296-132h6m5-22h6m-237 45h6m90-42h6m110-74h6m-60 50h6m-49-88h6m65 77h6m-17 44h6m29 30h6m-138-248h6m-39 99h6m116 62h6m-67-79h6m-89 266h6m-79 64h6m53-162h6m-78 109h6m91-110h6m-29 7h6m64 33h6m48 28h6m-147-78h6m125-29h6m-66 17h6m6 20h6m-85 31h6m-44 127h6m41-182h6m-64 191h6m156-67h6m106-60h6m-10 56h6m-16-98h6m-8 51h6m-17 87h6m-23-194h6m38-54h6m-229 283h6m9-215h6m86 124h6m112-74h6m-208-43h6m-5 55h6m-52 109h6m32-96h6m35-21h6m55-178h6m-118 40h6m157 43h6m-103-84h6m23 229h6m24-91h6m-139 198h6m93-113h6m-80-170h6m-108 222h6m46-190h6m258-1h6m-280 234h6m233-153h6m-261 144h6m264-116h6m-210-98h6m-89 186h6m142-307h6m19 204h6m53 55h6m-158-208h6m9 100h6m-52 59h6m158-105h6m-201 230h6m134-280h6m74 66h6m-102-89h6m140 180h6m-131 61h6m-97 43h6m-94-15h6m228-210h6m-169 260h6m157-189h6m-238 191h6m221-236h6m-126 157h6m59-219h6m84 150h6m-181-141h6m-21 123h6m-118 160h6m153-161h6m105-97h6m-58 196h6m80-156h6m-105 79h6m56-105h6m-164 134h6m19-51h6m100-105h6m-200 247h6m223-69h6m46-83h6m-19-81h6m-102 188h6m43-147h6m-70 37h6m-43-164h6m165 82h6m-162-104h6m-16 10h6m-82 359h6m72-300h6m70 10h6m80 167h6m-287 51h6m119-252h6m-73 319h6m53-268h6m4 87h6m-5-116h6m2 153h6m-94 155h6m247-158h6m-124-200h6m40 98h6m-99 62h6m-65 153h6m-10-21h6m91-282h6m-15 225h6m-27-23h6m-178 123h6m24 20h6m143-313h6m-44 301h6m-1-247h6m-42 250h6m65-137h6m-45-50h6m-25-61h6m-48-26h6m41 158h6m81-145h6m-161 187h6m108-25h6m-66-200h6m73 233h6m-84-175h6m-50 199h6m70-22h6m-21-136h6m71-81h6m50 53h6m-55 98h6m-111 5h6m220-19h6m-258-2h6m220-29h6m-185-162h6m-37 103h6m2 225h6m8-273h6m37-39h6m10 226h6m-133 100h6m271-198h6m-100-28h6m-88 163h6m64-185h6m-92 84h6m-2-187h6m17 171h6m113 24h6m-228 127h6m187-186h6m64 35h6m-110-70h6m111 106h6m-245 129h6m-38 13h6m114-385h6m-24 106h6m-95 198h6m17-63h6m-65 139h6m121-400h6m25 263h6m-133 153h6m-3-55h6m231-192h6m-101-106h6m110 97h6m-31 58h6m-208 39h6m207 5h6m-198-166h6m31 278h6m64-48h6m-77-242h6m-31 37h6m119 39h6m-60-146h6m-93 380h6m55-358h6m132 249h6m-262 125h6m-13-37h6m54-96h6m154 6h6m43-121h6m-19 61h6m-167 13h6m63-172h6m-138 113h6m71 62h6m22 90h6m-181 68h6m1-4h6m160-307h6m-79 233h6m55-122h6m-76 47h6m2-74h6m16-53h6m-88 195h6m25 16h6m158-153h6m-120-38h6m-32 222h6m127-154h6m-74-109h6m45 90h6m-142 169h6m82-23h6m-10-257h6m-29 147h6m99 108h6m9-66h6m-98 46h6m101-165h6m-73-128h6m-163 215h6m-1-43h6m23-17h6m134-12h6m-112 192h6m43-278h6m118 94h6m-110-153h6m-29-21h6m50 194h6m-164 171h6m111-95h6m-67 64h6m81-177h6m2 20h6m-144 241h6m56-275h6m65 136h6m-45-243h6m-55 282h6m130-17h6m-102-206h6m-45 247h6m175-198h6m-224 232h6m154-202h6m-64 76h6m47-82h6m-10 132h6m-176-61h6m83 92h6m-50-195h6m-19 140h6m-57 109h6m31-214h6m-63 219h6m236-237h6m-172 80h6m23 152h6m52-110h6m49 13h6m-59-2h6m-24-174h6m92 151h6m-193 29h6m186-101h6m-232 162h6m19-198h6m-28 269h6m219-252h6m-96-25h6m104 122h6m-169-26h6m-69-28h6m-18 123h6m202-188h6m-9 0h6m-148 190h6m-19-118h6m34 30h6m-144 135h6m122-324h6m-106 330h6m118-399h6m-41 126h6m26 7h6m-128 247h6m277-111h6m-253-22h6m125-10h6m-23-210h6m-106 212h6m-30 107h6m57-122h6m-28-39h6m-35-21h6m160 157h6m-151-186h6m217 142h6m-174-191h6m-76 123h6m199-40h6m-4 25h6m-175 145h6m-2-115h6m119-63h6m-128-12h6m-69 172h6m17 44h6m-21 69h6m61-180h6m-75 172h6m142-241h6m-149 84h6m139-65h6m85 95h6m-212-160h6m190 138h6m-125-86h6m-53 155h6m-69 74h6m165-86h6m-56-161h6m-92 103h6m197-135h6m-77 77h6m-66 149h6m-66-28h6m17-40h6m-95-63h6m143-174h6m-49 15h6m-140 297h6m128-49h6m-83 71h6m111-140h6m-26-213h6m-66 222h6m57-161h6m19 170h6m-25 50h6m115-38h6m-131-158h6m-45-71h6m-39 91h6m-95 240h6m45-193h6m37 149h6m-66-28h6m99-227h6m23-10h6m-206 300h6m-30 19h6m144-121h6m-82 74h6m111-44h6m-86 28h6m-22-102h6m-65 150h6m154-23h6m144-95h6m-88-94h6m-103-7h6m-45-39h6m33 40h6m-54 81h6m25-118h6m118 70h6m-111-63h6m-26 278h6m91-231h6m-171 221h6m197-108h6m-30 33h6m-78-237h6m-29 136h6m114 76h6m48-140h6m-339 247h6m167-195h6m41-26h6m-50-85h6m142 194h6m-27-126h6m-126 36h6m100 122h6m-119-307h6m131 164h6m-47-8h6m-43-66h6m-192 297h6m79-256h6m142 13h6m45 83h6m-177-135h6m-94 319h6m-27-58h6m-60 32h6m146-125h6m167-54h6m-228-95h6m191 107h6m33 52h6m-142 51h6m23-230h6m39 127h6m-220 176h6m207-285h6m-55 145h6m0-269h6m-137 231h6m90-165h6m-63 216h6"/>
<path stroke="#90ee90" d="m299 3913h6m-86-327h6m77 325h6m122-151h6m-177-116h6m52 200h6m-60 16h6m17-99h6m-1 106h6m36-253h6m7 224h6m-44-100h6m134 132h6m-124 32h6m-59-38h6m-19-105h6m38-193h6m52 260h6m-100-31h6m39 45h6m42-311h6m-133 51h6m212 257h6m-52-91h6m24 148h6m-91-95h6m-113-15h6m47-169h6m36 41h6m81 203h6m-96-23h6m20-288h6m-153 58h6m95 27h6m-41 231h6m-6 42h6m38-183h6m48 75h6m-118 157h6m29-222h6m-33 162h6m59-408h6m17 59h6m10 250h6m-144-180h6m151 259h6m-74-232h6m-96 153h6m98-41h6m-35-126h6m-74-56h6m5 43h6m33 222h6m-10 34h6m-20-11h6m54 7h6m79 32h6m-177-109h6m5-182h6m60-22h6m-12 101h6m-64 27h6m14-138h6m33 37h6m-4 96h6m91 83h6m-105-175h6m75 155h6m-87 26h6m-43 35h6m68-314h6m-107 357h6m-24-144h6m105 66h6m-39-276h6m-28 109h6m65 165h6m-81 123h6m-13-194h6m136 15h6m-190-134h6m198 247h6m-190-123h6m87 4h6m-73 56h6m17 36h6m104 10h6m-134 13h6m138 37h6m-20-58h6m-91-254h6m-61 318h6m-47-276h6m198 252h6m-129-278h6m-3 173h6m-75 115h6m49-232h6m-62 141h6m64-243h6m-87 216h6m10-53h6m-7-12h6m-27-26h6m19-85h6m84-41h6m54 208h6m-132-120h6m-38 150h6m170 71h6m-3 39h6m-186 0h6m-16-52h6m9 26h6m74-54h6m100 59h6m-69-63h6m-116-70h6m-13 136h6m-22 1h6m75-374h6m-110 120h6m105 241h6m89 35h6m-110-90h6m-98-186h6m40 237h6m-22 1h6m-18-270h6m49 259h6m122 19h6m-15-68h6m-102-67h6m-126-145h6m126 178h6m-123-132h6m62 222h6m141 0h6m-196-262h6m148 160h6m-153 158h6m188-31h6m-167-175h6m-11-145h6m-67 123h6m102 142h6m-4 21h6m-13-283h6m-41 14h6m24 96h6m-14 30h6m-27-76h6m-29 153h6m118 4h6m-142 73h6m39-258h6m15 178h6m-26-176h6m-9-23h6m-70 145h6m166 103h6m-26-91h6m-134 28h6m-22-66h6m-11-97h6m129 134h6m-104-26h6m41-178h6m11-24h6m-113 142h6m55 193h6m149 61h6m-199-16h6m15-313h6m-83 140h6m101 124h6m-6-133h6m-87 24h6m76-145h6m90 171h6m-135 7h6m-78-123h6m67 196h6m9-218h6m-2 329h6m-20-54h6m121-111h6m-24-19h6m-59-211h6m-36 43h6m-10 130h6m104 70h6m-61-274h6m-156 81h6m92 10h6m-76 202h6m83-310h6m94 388h6m-111-276h6m74 182h6m-145 16h6m19-82h6m-64-92h6m118-126h6m15 221h6m-81-203h6m109 242h6m-124-75h6m-22 19h6m1-131h6m-17 311h6m125-129h6m-61-214h6m-100 285h6m-2-43h6m52-196h6m69 221h6m45 35h6m-216-156h6m22 186h6m149-110h6m-30-33h6m-167-140h6m208 288h6m-124-348h6m44 246h6m-74-67h6m80 138h6m-134 72h6m8-165h6m14-191h6m32 171h6m6 13h6m71 68h6m-107-260h6m70 313h6m-26-141h6m-141-94h6m174 227h6m-121-164h6m107 159h6m-203-229h6m38-30h6m87 210h6m-108 57h6m49-40h6m-47 47h6m-3-130h6m17 163h6m129-20h6m-110-329h6m-65-8h6m-6 259h6m63-9h6m85 83h6m-58-105h6m-89 71h6m-25 44h6m-24-7h6m63-187h6m-130-27h6m103-11h6m-91 35h6m34 179h6m13-242h6m150 219h6m-117-16h6m-60-145h6m-20 185h6m-3-161h6m143 131h6m-139-306h6m4 95h6m-60 135h6m90 41h6m-78 70h6m36-245h6m26 186h6m2-302h6m-95 322h6m4 15h6m2-224h6m-43 196h6m25-229h6m20 186h6m-1-195h6m87 179h6m-172-73h6m89 139h6m56-107h6m-67 97h6m-39-231h6m-7-61h6m102 217h6m-189-74h6m-7-25h6m203 204h6m-179-107h6m64-57h6m123 170h6m-225-233h6m23 90h6m-24 112h6m21-44h6m-28 5h6m7-216h6m40 4h6m114 301h6m-157-136h6m133 69h6m-17-34h6m-116-119h6m5 249h6m-116-327h6m178 235h6m-158-59h6m41 21h6m-15 72h6m33-147h6m25-179h6m-14 132h6m96 199h6m-16-72h6m-179-85h6m-1 77h6m51-63h6m7 110h6m8 17h6m17-55h6m-76 7h6m61 2h6m-108-57h6m13 80h6m45 13h6m-74-37h6m-28-95h6m1 9h6m1-22h6m90 114h6m-137-79h6m202 139h6m-81-31h6m-139-190h6m209 216h6m-189-81h6m42-256h6m17-29h6m-38 237h6m-30 117h6m-26-282h6m96 8h6m-21-86h6m-14 244h6m-87 65h6m60-1h6m-22 52h6m23-140h6m-66-136h6m77-72h6m-67 170h6m118 129h6m-116-246h6m50-4h6m-104 287h6m53-243h6m-4 13h6m33 204h6m-62-84h6m113 149h6m-136 17h6m-12-4h6m-35 0h6m75-122h6m-28 176h6m12-110h6m-32-247h6m-96 2h6m-14 1h6m113 268h6m-103-234h6m29-38h6m59 208h6m42-45h6m-2 51h6m-99-167h6m-20 291h6m57-166h6m-86 113h6m62-213h6m-102-67h6m130 140h6m-78-144h6m-3 239h6m143 52h6m-175-86h6"/>
<path stroke="#fc0c1e" d="m701 3939h6m77 94h6m-71-171h6m104 95h6m-216-171h6m174 214h6m-109-58h6m-23-67h6m59-81h6m62 127h6m-1 0h6m-3 41h6m-94 49h6m-89-240h6m177 166h6m-162-6h6m147 105h6m-47 15h6m-73-228h6m-66 47h6m131 185h6m-44-33h6m72 20h6m-229-242h6m87 13h6m121 131h6m0 35h6m-98-98h6m81 79h6m-89 54h6m-2-105h6m-5-104h6m-85 97h6m40-13h6m73 159h6m-30-47h6m73-10h6m-202-57h6m64 16h6m-46-91h6m-24 57h6m14-81h6m86 175h6m-178-224h6m172 265h6m-62-234h6m56 104h6m-87 127h6m-17-216h6m118 141h6m-149-55h6m-3-26h6m83 14h6m75 33h6m-91-89h6m68 178h6m-116 19h6m-60-248h6m-56-14h6m171 81h6m-29 111h6m-67 8h6m-58-197h6m38 12h6m-84-4h6m101 220h6m-71-92h6m143 108h6m-53-111h6m59 113h6m-129-174h6m42 151h6m67-87h6m-131-128h6m97 191h6m-200-204h6m69 68h6m-27-17h6m107 232h6m-68-50h6m15-18h6m-21-149h6m4 58h6m-72 58h6m-14-64h6m56 102h6m102-18h6m-121-30h6m81-14h6m6 110h6m-156-138h6m92 90h6m40 48h6m-100-59h6m-37-172h6m128 144h6m-113 61h6m73-27h6m42-78h6m-114 58h6m-90-52h6m117-23h6m-164-119h6m74 135h6m86 117h6m-100-224h6m-42-16h6m154 111h6m13 145h6m-61-231h6m-45 236h6m76-123h6m-98 90h6m9 32h6m50-98h6m-39-112h6m-64-36h6m115 226h6m-132-60h6m15-14h6m10-87h6m-18-12h6m-5 28h6m0-12h6m88 118h6m-171-206h6m11 21h6m39 186h6m-40-72h6m17-124h6m-44-19h6m-85 45h6m107 109h6m16-12h6m34 135h6m-78-252h6m-44 89h6m116 4h6m-121 10h6m64 91h6m-78-84h6m-74-143h6m224 153h6m-28 30h6m-53 98h6m-134-148h6m146 145h6m10-84h6m-64 70h6m-14-121h6m47 161h6m-69-132h6m12 73h6m68 10h6m-65-29h6m-69 19h6m-104-236h6m55 44h6m-24 89h6m79-59h6m0 166h6m-20-80h6m61 94h6m-78-123h6m54-32h6m-68 7h6m140 78h6m-65-98h6m-39 84h6m36 85h6m30-32h6m-115-64h6m69 14h6m-86-51h6m-10 124h6m-74-120h6m94-107h6m-92-18h6m-59 17h6m193 133h6m-9-2h6m-57 66h6m-87-176h6m-40 82h6m111-22h6m52 96h6m-126 39h6m59 18h6m17-41h6m-144-115h6m35 60h6m48-37h6m-14 122h6m-6-92h6m74 37h6m-63 84h6m-23 15h6m-55-269h6m27 220h6m50 44h6m51-77h6m-10-61h6m-140 115h6m-22-139h6m78 160h6m-143-255h6m83 228h6m43 24h6m-124-111h6m160 42h6m-93-11h6m-8 21h6m-80-71h6m25 29h6m120 99h6m-59-24h6m3 12h6m63-78h6m-38 89h6m-182-185h6m73 167h6m94-8h6m-33-149h6m-51 169h6m-77-225h6m39 178h6m71-69h6m-152-2h6m95 62h6m3 76h6m-64-42h6m5-10h6m55-27h6m11 70h6m-82-3h6m-21-153h6m-82-74h6m36 98h6m-11-1h6m124 134h6m-36-196h6m-130-84h6m134 86h6m-10 199h6m-102-230h6m2-11h6m-12-4h6m40 195h6m41-171h6m-103 103h6m58 93h6m-44-151h6m76-54h6m51 173h6m-164-14h6m151 39h6m-171-205h6m10 169h6m-34-58h6m62 74h6m-53-201h6m75 171h6m5 76h6m-59-228h6m29 176h6m-3 16h6m38-85h6m-119-22h6m155 98h6m-223-234h6m118 212h6m21-92h6m-110-64h6m-33 102h6m126-84h6m-114-30h6m124 221h6m-193-255h6m52-5h6m13 148h6m64 69h6m-85-189h6m-51 66h6m83 68h6m30 64h6m-151-202h6m196 137h6m-36-32h6m-110 102h6m45 12h6m-10 41h6m4-64h6m-84-50h6m141 0h6m18 81h6m-223-234h6m197 152h6m-152-16h6m148 50h6m-161-38h6m47-51h6m101 39h6m-120-51h6m-12-64h6m74 131h6m-72-106h6m69 173h6m-64-11h6m-5-176h6m-24 184h6m196 3h6m-28-4h6m90-106h6m-66 121h6m85-85h6m-97 72h6m-3-91h6m-3-15h6m-6 116h6m23 7h6m40-117h6m-106 156h6m119-86h6m-63-66h6m-52 116h6m-18-124h6m90-19h6m-175 92h6m1-118h6m6 115h6m145-82h6m-193-30h6m140-1h6m-42 181h6m48-94h6m-23 81h6m23-122h6m-66 58h6m-23 33h6m-91-19h6m-10-120h6m112 172h6m-31 35h6m-35 9h6m48-38h6m-18-71h6m-3-65h6m-29-34h6m39 150h6m-67 53h6m8-39h6m80-103h6m-173 71h6m43 16h6m-71-51h6m110 75h6m28-139h6m-141-39h6m142 2h6m-143 133h6m181-54h6m-175 103h6m20-161h6m15 86h6m62-83h6m-39 24h6m-89 35h6m58 126h6m51-198h6m-40 6h6m-60 73h6m82-72h6m-128 206h6m-25-80h6m88-119h6m-54 163h6m-10-143h6m56 81h6m-76-7h6m24 44h6m16-127h6m-107 95h6m121-102h6m-42 99h6m39-91h6m27 34h6m-46 91h6m19-10h6m-81-136h6m71-10h6m51 106h6m-136-12h6m74-77h6m-160 48h6m98 73h6m-116-78h6m68 16h6m106 19h6m-150-103h6m140 116h6m-32-112h6m-55 177h6m-27-120h6m32 91h6m-31-147h6m-18 81h6m-17 140h6m91-68h6m-105-101h6m-95-41h6m41 131h6m110 11h6m-142-61h6m5-51h6m68 23h6m-52 134h6m-70-199h6m187 114h6m-103-109h6m14 193h6m-11-202h6m0 3h6m-105 140h6m59-43h6m-8-33h6m33 71h6m-15 10h6m-36 40h6m33-75h6m54 47h6m-90-14h6m94-24h6m-62 39h6m-66 61h6m44-126h6m-69 132h6m107-203h6m-163 172h6m177-95h6m23-207h6m52 103h6m-119-171h6m39 121h6m46-12h6m-93-45h6m96 49h6m-16-30h6m-111 22h6m61-131h6m9 243h6m28-19h6m-40-5h6m27 4h6m-55 12h6m-24-239h6m14 61h6m47 170h6m-123-194h6m122 198h6m-128-187h6m28-57h6m-2 176h6m67 34h6m-117-24h6m108 39h6m-5-17h6m-29 89h6m-117-216h6m106 141h6m-83-116h6m42-54h6m44 175h6m-128-150h6m-12-33h6m15 36h6m-5-19h6m24 93h6m-2-152h6m41 223h6m26 3h6m-139-58h6m93 111h6m20-4h6m-61-44h6m-25-10h6m27-45h6m-15-115h6m-94-24h6m13 173h6m49 54h6m-47-236h6m30 44h6m-36 157h6m109-8h6m-111-157h6m37-20h6m-76 29h6m8 109h6m15-160h6m-45 52h6m110 155h6m9-14h6m-34-111h6m-115 72h6m70-113h6m-4 223h6m-7-174h6m-19-74h6m-65 145h6m121 46h6m-30-45h6m-83-171h6m102 205h6m-74 43h6m51-20h6m-58-147h6m-43-22h6m25-16h6m3 139h6m18-75h6m-36 118h6m-87-181h6m-1 49h6m26 71h6m-52-108h6m74-42h6m-60 49h6m37 146h6m63 45h6m-42-49h6m-6-186h6m36 181h6m-6-39h6m-91 9h6m17-145h6m-29-3h6m-57 85h6m33 91h6m-20-66h6m92 92h6m-83-218h6m77 208h6m3-16h6m-28 37h6m-80-64h6m92 30h6m-134-16h6m-7-174h6m74 83h6m-52 64h6m-28 34h6m0-31h6m-40-112h6m121 150h6m-67 27h6m-34-60h6m29-189h6m17 194h6m-1 51h6m-75-50h6m77-122h6m-50 166h6m-29-214h6m-17 154h6m-1 30h6m66 13h6m-60-222h6m13 259h6m-76-153h6m60-55h6m3 211h6m-29-87h6m37-140h6m-50-17h6m-45 49h6m-26-15h6m114 230h6m-24-33h6m-98-179h6m103 87h6m-30-1h6m25 69h6m-64-195h6m-38 137h6m74 72h6m-35-172h6m-41-41h6m5 28h6m-3-41h6m-60 27h6m4 144h6m112 66h6m-75 17h6m-7-253h6m35 57h6m-99 9h6m75-11h6m-72 103h6m82 76h6m-56-237h6m-14 13h6m49 215h6m-110-69h6m65-57h6m-209 408h6m-78 33h6m42-47h6m98-43h6m-175 34h6m33 30h6m78-64h6m22-33h6m-58 111h6m28 2h6m-84-84h6m82 30h6m-79-34h6m60-8h6m-14-10h6m-23 135h6m-110-25h6m60-1h6m101-69h6m-75 29h6m-108 40h6m171-57h6m-145-15h6m97 74h6m-38-109h6m53 96h6m-18-39h6m7-9h6m-157-1h6m48-26h6m-18 19h6m84 53h6m-76-74h6m55 95h6m-6-12h6m-20 19h6m-18-86h6m22-3h6m16 49h6m-75 2h6m-12 32h6m26-84h6m-100 2h6m121 82h6m13-41h6m-195-23h6m168-32h6m-99 76h6m78 19h6m-15-78h6m-58-17h6m-44 24h6m-50 64h6m125-64h6m17-4h6m-154 59h6m-6 28h6m72-94h6m52 55h6m-18-29h6m-19 26h6m31-61h6m-50 46h6m29-60h6m-175 62h6m146-5h6m23-37h6m-41 62h6m34-39h6m-55-32h6m46 49h6m-70-36h6m18 33h6m14 30h6m-44-94h6m46 17h6m-22 11h6m-22 80h6m-70-76h6m2 107h6m-85-37h6m87-5h6m-96 6h6m114-85h6m-41-12h6m-31 50h6m44-19h6m5 0h6m-17-11h6m44 1h6m-18-2h6m-82 12h6m31 47h6m25 34h6m-100-80h6m59 44h6m-68-54h6m91-34h6m-113 43h6m91 60h6m-106-46h6m95 63h6m-70-46h6m-85 23h6m49-22h6m-22-37h6m16 48h6m9 43h6m-19-33h6m-16-35h6m13 18h6m-3-4h6m-53-40h6m73 106h6m-89-41h6m76 51h6m36-132h6m-77 91h6m32-56h6m19-61h6m-76 111h6m77-56h6"/>
<path stroke="#149d1f" d="m1699 3786h6m-29 236h6m16-305h6m-227 369h6m122-225h6m122 39h6m-79-5h6m-138 241h6m-106-61h6m245-286h6m-234 296h6m55 43h6m-76 35h6m221-198h6m-238 89h6m100 5h6m-94 76h6m-28-6h6m180-425h6m132 18h6m-43 72h6m-292 353h6m2 25h6m153-327h6m-12 31h6m135-171h6m0 167h6m-282 230h6m71-315h6m213-80h6m-15 106h6m5 54h6m-133-23h6m90 16h6m-141 174h6m-148 71h6m229-206h6m-274 252h6m184-363h6m9 94h6m-163 328h6m264-458h6m-173 375h6m-157-1h6m203-236h6m-193 185h6m173-97h6m98-112h6m27-102h6m-112 119h6m-100 290h6m128-183h6m-43-205h6m-92-5h6m26 92h6m33 148h6m44-124h6m-224 235h6m53 74h6m62-462h6m119 136h6m-286 209h6m167-6h6m-128 33h6m-4-26h6m93-206h6m150-161h6m-122 184h6m-212 181h6m55 67h6m182-154h6m-156 55h6m15-209h6m55 105h6m-179 125h6m241-52h6m-29-106h6m6 91h6m-89-160h6m6 144h6m104-135h6m-49 200h6m-59-341h6m-170 402h6m136-267h6m-189 251h6m212-102h6m-163 141h6m241-408h6m-169 359h6m148-152h6m-283 193h6m13 33h6m-1-25h6m261-422h6m-42-2h6m-102 166h6m90-201h6m33 113h6m-231 421h6m149-203h6m-108 74h6m-16 38h6m54-295h6m112-45h6m-298 287h6m279-216h6m-90 164h6m57-340h6m28 131h6m-31 25h6m-208 258h6m170-240h6m-2 128h6m11-271h6m-162 404h6m36-379h6m-86 362h6m-24 13h6m-42 106h6m185-309h6m-206 297h6m41-66h6m108-424h6m109 146h6m-111 217h6m-114 67h6m113-163h6m-178 130h6m240-197h6m-38 100h6m87-181h6m-95 58h6m-162 293h6m223-348h6m-215-99h6m222 99h6m-322 248h6m77 131h6m64-357h6m42 46h6m-70 122h6m52-5h6m-21-102h6m35 151h6m-197 71h6m122-168h6m116-283h6m-215 434h6m66-320h6m56 106h6m-99-67h6m-54 370h6m169-515h6m-104-20h6m-190 466h6m141-282h6m61-2h6m-80 258h6m-7-6h6m-125 25h6m36 52h6m36-53h6m-86 39h6m296-491h6m-212 404h6m193-392h6m-273 460h6m191-294h6m-1 20h6m86-143h6m-314 383h6m252-167h6m18-243h6m-48 164h6m-135-88h6m38-82h6m9-1h6m-193 381h6m197-120h6m-183 133h6m263-367h6m-278 398h6m-30 14h6m330-421h6m-309 380h6m106-230h6m18-24h6m109-151h6m-104 321h6m-113 37h6m109-87h6m-161 197h6m72 49h6m-37-14h6m101-223h6m42-4h6m-118-163h6m85 96h6m85-31h6m-117 48h6m-160 178h6m116-272h6m70-151h6m-138 379h6m7-220h6m-126 307h6m84 69h6m96-495h6m-3 176h6m-30 95h6m-59 115h6m187-382h6m-38 72h6m-42 75h6m-79-158h6m129 109h6m-283 234h6m17 38h6m-27-1h6m46-46h6m98-188h6m67 68h6m-45-132h6m10 105h6m-104-71h6m84 133h6m-127 254h6m39-508h6m-139 393h6m278-215h6m-120-68h6m-184 335h6m-11-94h6m54 114h6m246-348h6m-246 329h6m215-404h6m-313 418h6m42-81h6m64-40h6m179-305h6m-72 130h6m-43 86h6m-113 140h6m-119 2h6m201-362h6m-196 352h6m108-28h6m-70 13h6m113-217h6m-91 296h6m26-89h6m145-215h6m-288 303h6m150 28h6m-139-56h6m291-311h6m-62 89h6m-248 235h6m249-219h6m-96-112h6m86 129h6m-53 77h6m-187 133h6m152-344h6m26 245h6m67-224h6m-264 330h6m250-309h6m46-18h6m-330 364h6m174-355h6m-194 234h6m6 77h6m211-298h6m-265 199h6m107 5h6m147-67h6m-23 88h6m-213 30h6m268-162h6m-111-86h6m73 82h6m-113-50h6m107 110h6m-303 82h6m-11-24h6m260-354h6m-195 505h6m-44-49h6m220-434h6m56 120h6m-35 13h6m26-126h6m-167-22h6m4 117h6m8 45h6m-60 241h6m139-193h6m15-139h6m-195 312h6m233-374h6m-61 160h6m-268 198h6m318-225h6m-355 303h6m11 18h6m109-56h6m-47 96h6m24-133h6m58-217h6m67 224h6m8-181h6m-257 238h6m260-124h6m-201 62h6m-25 151h6m-53-183h6m190-126h6m106-190h6m-243 431h6m13 63h6m-8-32h6m-90-130h6m314-330h6m-262 452h6m146-234h6m21-233h6m-16-1h6m-133 490h6m68-205h6m-117 150h6m184-450h6m-180 488h6m217-350h6m-352 327h6m258-271h6m-23-25h6m104-128h6m-187 102h6m48 196h6m87-201h6m-176-29h6m-11 255h6m-138 84h6m171-292h6m-107 242h6m150-215h6m-153 279h6m-10-116h6m-74 60h6m295-256h6m-294 246h6m197-75h6m-32-292h6m87 57h6m-292 275h6m-23 72h6m154-454h6m-175 375h6m96 93h6m-17 21h6m173-281h6m-52 22h6m111-184h6m-317 452h6m223-127h6m-59-175h6m140-84h6m-66-85h6m-262 412h6m172-204h6m-93 136h6m-56 152h6m260-459h6m-295 329h6m-75-25h6m117 125h6m223-390h6m-45-75h6m-271 408h6m157-263h6m-110 248h6m-81 28h6m93 53h6m198-444h6m-23 274h6m-299 54h6m202-140h6m-92 179h6m133-380h6m61 35h6m-52 188h6m-36-41h6m-45 8h6m49-224h6m-5 317h6m-16-303h6m-46 55h6m30 114h6m-44-174h6m-51 329h6m20-314h6m-194 401h6m208-97h6m61-166h6m-78 180h6m-125 127h6m-29-5h6m244-308h6m-323 228h6m257-27h6m-272 83h6m67 19h6m91-342h6m-164 355h6m16-68h6m250-367h6m-53 137h6m-225 237h6m-30-46h6m229-75h6m-129 141h6m118-230h6m-38 94h6m50 12h6m31-191h6m29-60h6m-178-19h6m32 173h6m108-135h6m10-83h6m-74 312h6m-53-145h6m-58-51h6m20-38h6m61 193h6m-133 113h6m-35 122h6m59-403h6m-125 301h6m58 66h6m75-326h6m132 24h6m-34 61h6m-27-22h6m53-87h6m-358 311h6m348-251h6m-62-130h6m-156 105h6m-167 256h6m308-373h6m-309 364h6m225-126h6m77-93h6m-99-121h6m-157 339h6m21-29h6m262-266h6m-183 44h6m-5-19h6m-42 280h6m70-258h6m-91 272h6m83-245h6m90-179h6m-179 85h6m17-82h6m-167 448h6m261-308h6m-57 189h6m30-153h6m-12-142h6m-76 124h6m46 152h6m-199 58h6m-13 33h6m248-313h6m-102 46h6m37-69h6m37 192h6m37-221h6m-205 339h6m-10 64h6m-101 52h6m-16-25h6m91-87h6m105-356h6m82 133h6m21 10h6m-324 237h6m125-377h6m155 48h6m-284 335h6m78-5h6m39-247h6m-8 2h6m151-25h6m-253 298h6m47-343h6m152 176h6m-106-238h6m-169 344h6m282-264h6m12 68h6m-125 73h6m98-204h6m-11-18h6m-19 266h6m-309 68h6m66 149h6m229-503h6m55 106h6m-77-13h6m-142-80h6m-83 499h6m73-521h6m177 78h6m-104-78h6m-240 411h6m318-248h6m-321 247h6m203-62h6m-2-213h6m-5-26h6m-84 337h6m-71-41h6"/>
<path stroke="#dbb2e2" d="m362 2779h6m-81-30h6m90-8h6m45 84h6m56-327h6m-87 330h6m-196-65h6m52 96h6m61-280h6m40 41h6m95-50h6m-284 253h6m280-88h6m-252 152h6m179-43h6m-41-253h6m63-85h6m38 90h6m-117-44h6m-112 264h6m45-193h6m77 129h6m-155 39h6m160-265h6m-125 234h6m61-161h6m-66 243h6m-103-78h6m41-4h6m176 13h6m-144-83h6m48-114h6m39 21h6m-157 303h6m108-58h6m-169-88h6m174-34h6m-26-142h6m-43 27h6m-66 44h6m1375 167h6m-179-83h6m182 105h6m241 595h6m58-528h6m40 233h6m2 48h6m13-196h6m-136 85h6m121-121h6m18-25h6m-118-35h6"/>
<path stroke="#fdb550" d="m405 2994h6m75-24h6m-47-59h6m88-152h6m-25 38h6m-39 16h6m35-65h6m-134 167h6m-81 0h6m11 21h6m143-38h6m-67 67h6m75-53h6m177-355h6m-168 182h6m3 23h6m-200 217h6m-9-47h6m200-164h6m-71 43h6m-52-12h6m30-34h6m65-20h6m-149 151h6m210-202h6m-80-21h6m-171 304h6m-29-17h6m-48-16h6m-17-2h6m188 6h6m78-221h6m-164 244h6m-60-63h6m261-295h6m-110 150h6m44-21h6m103-213h6m-125 139h6m191-146h6m-356 412h6m-85 22h6"/>
<path stroke="#ffa500" d="m339 2997h6m197-213h6m55-147h6m140-105h6m-193 217h6m183-209h6m189-101h6m128 132h6m24 35h6m-55 360h6m1009 340h6m-214-426h6m148 265h6m-1265 124h6m2 304h6m-77-102h6"/>
<path stroke="#fc0c1e" d="m400 3290h6m1099-665h6m-746 937h6m575-221h6m62 54h6m147-74h6m-127-48h6m101 164h6"/>
<path stroke="#1476ba" d="m918 2443h6m96 186h6m-70-81h6m75 274h6m48 137h6m-48-72h6m-39-91h6m140 53h6m42 113h6m-423 616h6m29 476h6m-142-253h6m-51-6h6m115 228h6m43 3h6m162 8h6m65-76h6m-175 148h6m102 53h6m509-98h6m-11 70h6m172-391h6m-4 298h6m-51-108h6m-60 161h6m170-360h6"/>
<path stroke="#7a2eb0" d="m1358 2473h6m-294-57h6m187 43h6m777 667h6m-137-318h6m84 78h6m-1116 381h6m5-17h6"/>
<path stroke="#87ceeb" d="m1505 2603h6m-14 18h6m171 90h6m-120 0h6m103 108h6m-8-197h6m-95 103h6m104-107h6"/>
<path stroke="#149d1f" d="m1335 3560h6m108-231h6m-93 264h6m-721 194h6m167 128h6m-63 104h6m-91-68h6m178-51h6m57 248h6m-62 14h6m54-10h6m-48 14h6"/>
</g>
<g stroke-width="16">
<path stroke="#fb9a99" d="m2596 2755h0m-161 86h0m160-78h0m-53-42h0m-41 129h0m-40 22h0m112-147h0m-105 27h0m-32 130h0m30-53h0m-62 60h0m135-130h0m-64 76h0m2-51h0m-5 7h0m-58 141h0m49-173h0m98 33h0m-160 138h0m95-189h0m105 22h0m-125-20h0m-55 149h0m112-120h0m-82 5h0m20-22h0m-20 130h0m-14 3h0m-9-7h0m5-73h0m131-116h0m-146 189h0m33 46h0m53-88h0m-92 52h0m14-62h0m56-6h0m-80 95h0m168-179h0m-75 83h0m5-59h0m39-34h0m9 34h0m-145 149h0m36 25h0m17-109h0m44-55h0m-81 161h0m168-201h0m-33 24h0m-136 131h0m20 46h0m113-163h0m-102 48h0m-37 94h0m165-141h0m-140 123h0m45-70h0m-72 126h0m138-170h0m-9-84h0m-109 244h0m55-99h0m-25 62h0m43-43h0m-49-41h0m117-45h0m-61 69h0m-89 56h0m-12 40h0m178-228h0m-159 202h0m147-233h0m-5 32h0m-50 69h0m-115 136h0m83-149h0m-62 25h0m24 127h0m123-133h0m-41-13h0m60-29h0m-173 178h0m28 3h0m-28 31h0m77-139h0m-52-19h0m89-77h0m-107 229h0m141-206h0m-84-10h0m-17 40h0m164-88h0m-85 96h0m-100 134h0m-15-117h0m85 30h0m64-97h0m-103 47h0m82-32h0m-19 76h0m-85 105h0m-3-132h0m103-4h0m-58-62h0m51 56h0m-67-32h0m108 16h0m10-39h0m-44 45h0m22-10h0m-63-34h0m-30 4h0m78 51h0m-61-62h0m45 54h0m53-69h0m-125 77h0m-44 160h0m-16-85h0m83-96h0m-76 144h0m49-172h0m153-33h0m-83 72h0m-54-56h0m-11 51h0m-16 14h0m98 4h0m-133 98h0m168-118h0m10-70h0m-49 86h0m61-81h0m-123 171h0m85-117h0m13-37h0m-104 58h0m-18-32h0m30 73h0m-20-69h0m84 34h0m-106-3h0m32 39h0m68-71h0m-8 25h0m-49-10h0m66-2h0m-41-49h0m-90 58h0m98-50h0m-21 99h0m-88 22h0m-10 61h0m73-175h0m-29 63h0m30 24h0m18-52h0m-62 37h0m29-24h0m-36 155h0m20-67h0m110-80h0m-81-62h0m84 12h0m-113 180h0m-21-32h0m185-160h0m-112 40h0m-61 159h0m13-6h0m137-208h0m-108 30h0m61-20h0m-108 174h0m108-124h0m-113 146h0m103-169h0m11 37h0m21-28h0m-119 7h0m121-49h0m28 0h0m-17 67h0m-170 164h0m-7-55h0m16 32h0m183-236h0m-98 93h0m-36-33h0m-26 187h0m-22-3h0m91-165h0m-87 111h0m-8 77h0m62-73h0m20-130h0m-48 43h0m173-70h0m-89 36h0m24-58h0m-151 195h0m174-147h0m-121 42h0m48-20h0m44-70h0m-4 66h0m-92 39h0m-20 123h0m42-182h0m-48 72h0m63-39h0m-42-9h0m-39 58h0m28 98h0m97-144h0m-91 10h0m-9 14h0m168-90h0m-26 21h0m-74 34h0m-8-6h0m4-26h0m-72 61h0m58 79h0m69-103h0m-115 53h0m-4 44h0m144-119h0m-1 21h0m-83-4h0m-97 198h0m90-215h0m-19 23h0m-22-24h0m49 59h0m101-89h0m-8 40h0m-59 9h0m-29-28h0m50 23h0m-44 90h0m-69 52h0m1-108h0m-10 108h0m138-203h0m-152 208h0m4 27h0m95-165h0m-10-56h0m29 39h0m13 11h0m-35 72h0m-110 20h0m119-105h0m-78 18h0m-12 162h0m104-147h0m-61 1h0m-6-13h0m-27 119h0m-10 26h0m-21 8h0m158-201h0m31-25h0m-174 241h0m40-114h0m81-76h0m-87 157h0m13-165h0m25 80h0m-20-86h0m11 108h0m-55-46h0m24 94h0m26-154h0m-62 187h0m-8-118h0m123-43h0m-36-26h0m-49 19h0m72-29h0m-71 191h0m71-174h0m37-47h0m-141 164h0m14-55h0m39-73h0m-54 179h0m152-199h0m-149 217h0m-14-7h0m220 245h0m48 46h0m39-64h0m3 35h0m-152-44h0m-12-5h0m99 65h0m225-21h0m-263-42h0m201 13h0m-25 46h0m-110-106h0m173 55h0m18 2h0m-110 11h0m73 25h0m108-58h0m-20-15h0m-61 25h0m69-21h0m-120 102h0m-37-10h0m-31-68h0m-36-26h0m-19 55h0m139 35h0m-172-76h0m5 35h0m88 21h0m89-16h0m-105 50h0m-155-89h0m205 53h0m-22 4h0m-55-21h0m157 22h0m-273-53h0m55 71h0m279-90h0m-194 88h0m-65 7h0m155-78h0m82-15h0m-209 45h0m28 27h0m70 8h0m65-40h0m-382-102h0m283 77h0m105 65h0m-87-2h0m-78-14h0m18-56h0m-128 12h0m7 15h0m162 59h0m53-5h0m-238-72h0m151 63h0m138-8h0m11-49h0m-86 82h0m-193-93h0m52 75h0m21-50h0m94 1h0m88 12h0m20-35h0m-260 12h0m187 25h0m-142 15h0m185-23h0m-125-4h0m-49 33h0m-72-84h0m-91-44h0m436 58h0m-98 15h0m51 10h0m-338-2h0m153 15h0m156-21h0m72 10h0m-280 51h0m70-48h0m136 0h0m-257-12h0m36 59h0m-157-127h0m107 26h0m276 37h0m-79 93h0m-71-55h0m153 21h0m-162 21h0m-181-115h0m282 82h0m16-41h0m-72 54h0m52-24h0m-102-62h0m60 100h0m103-80h0m-92 67h0m-131-3h0m124-63h0m-269-75h0m197 157h0m89-14h0m28 20h0m-150-29h0m162 3h0m25-18h0m-293-35h0m147 16h0m44 10h0m188-16h0m-98 32h0m-244-45h0m60-5h0m-21 58h0m213-49h0m-6 22h0m-263-27h0m96 46h0m59-2h0m-175-42h0m189 12h0m46 48h0m-148-13h0m-141-128h0m207 130h0m-116-36h0m73-12h0m70 40h0m12 28h0m123-75h0m-106-1h0m-27 42h0m82-24h0m-242-34h0m15 45h0m353-49h0m-38 16h0m-142 31h0m79-19h0m16 54h0m-187-6h0m94-19h0m4-9h0m-41 81h0m-9-125h0m93 93h0m-247-74h0m109 44h0m139-14h0m-42 38h0m-109-70h0m70 13h0m-141-7h0m67-5h0m77 16h0m43 49h0m-33-22h0m-71-19h0m67 26h0m-133-25h0m61 27h0m223-55h0m-3 9h0m-229 81h0m142-60h0m101-40h0m-42 74h0m-179-4h0m-90-35h0m354-28h0m-6-5h0m-185 69h0m-182-68h0m94 10h0m68 24h0m195-44h0m-221 67h0m81-10h0m-97-33h0m15-8h0m-57-3h0m105 77h0m-97-29h0m286-56h0m-149 60h0m-63-13h0m-34 54h0m-26-31h0m-29-26h0m3 33h0m133 24h0m66-74h0m-66 37h0m146-58h0m-75 59h0m-109 43h0m-110-48h0m303-55h0m-200 36h0m8-1h0m-155-25h0m-41 13h0m334 13h0m-215 10h0m166 23h0m-85-72h0m-90 61h0m-174-135h0m461 69h0m-323 67h0m184-6h0m-50-45h0m-34 23h0m-126-14h0m77 83h0m-5-4h0m124-3h0m83-84h0m-159 53h0m150-20h0m-173-34h0m203 4h0m-173 57h0m83 11h0m39-55h0m-255-1h0m63 47h0m264-65h0m-242 51h0m-74-59h0m68 64h0m-108-85h0m-53-39h0m436 48h0m-114 60h0m-111-65h0m62 66h0m-149 29h0m168-24h0m-54 14h0m-37-44h0m212-11h0m-314 36h0m59 14h0m187-17h0m-219 9h0m92-5h0m8-11h0m159-35h0m-162-8h0m429 237h0m2-9h0"/>
<path stroke="#6f35a0" d="m2955 2842h0m49-18h0m-108-102h0m159-162h0m-154 229h0m127-104h0m-19-54h0m-95 87h0m36 16h0m103 54h0m-95-3h0m-74-149h0m223 78h0m14-22h0m-22-8h0m-173-40h0m43-43h0m-3-38h0m8 46h0m170 137h0m-107-4h0m-89 18h0m122-182h0m-26 153h0m10-39h0m-170 88h0m173-199h0m-67 179h0m50-194h0m32 147h0m-113-12h0m-76-13h0m75 100h0m92-83h0m-93 62h0m-40-11h0m-14-89h0m101 23h0m17-61h0m-117 99h0m36-70h0m68 53h0m47 99h0m-47-85h0m20-11h0m-59-102h0m-60 151h0m162 43h0m-12-93h0m-120-8h0m-29-79h0m128-25h0m-37 22h0m-23 156h0m90-14h0m3-55h0m-148-19h0m-6-1h0m-42 46h0m165-160h0m-2 150h0m-137 24h0m37-71h0m42-64h0m17-23h0m-129 121h0m84 125h0m-39-232h0m101 63h0m-44 57h0m100-3h0m-10 4h0m-23-113h0m-14 135h0m16-13h0m-32-29h0m40 10h0m32 41h0m-38-60h0m-36 12h0m28-57h0m-101 55h0m43 131h0m-45-41h0m-24-162h0m104 172h0m1-74h0m-111-5h0m15-42h0m92 92h0m-65-133h0m1 184h0m75-171h0m-120 82h0m125-78h0m29 26h0m-117-104h0m149 179h0m-74-167h0m-75 57h0m144 109h0m-103-141h0m3 66h0m-78 41h0m88 83h0m-66-190h0m138 91h0m-124 82h0m122-21h0m-138-73h0m125-33h0m-164 0h0m132-72h0m58 156h0m-46 84h0m-80-71h0m43-79h0m-75-38h0m72 188h0m-30-85h0m11-162h0m-2 117h0m82 67h0m-61-23h0m0 30h0m132-52h0m-220-68h0m64 131h0m23-46h0m-100-24h0m63 125h0m5-55h0m-7-133h0m-26 28h0m45-15h0m-43-15h0m101-98h0m-105 105h0m-24 132h0m86-199h0m72 41h0m33 141h0m-95 43h0m-7-215h0m-35 165h0m89-129h0m-45 41h0m-106 52h0m132-14h0m62-45h0m-171 79h0m155 2h0m-71 66h0m10-102h0m-83-33h0m-38-40h0m168 16h0m-118-33h0m94 14h0m-119 51h0m-2-14h0m43-64h0m7 35h0m1 152h0m64-206h0m-2 149h0m109-48h0m-59 94h0m7-82h0m-170 87h0m2-76h0m162 77h0m-67-64h0m-7-85h0m37 54h0m0-79h0m-25-75h0m-31 266h0m39-188h0m62 163h0m-28-219h0m-47 20h0m17 110h0m59 58h0m-21-201h0m-10 47h0m14-45h0m-127 153h0m55 97h0m29-255h0m96 219h0m-96-89h0m73 101h0m-126-176h0m129 155h0m-176-99h0m27-34h0m36 90h0m-30 120h0m-3-86h0m-18-68h0m51 115h0m56-77h0m-57-139h0m-35 83h0m44-74h0m-49 194h0m35-133h0m-22 112h0m5 4h0m73-48h0m-10-11h0m-23 35h0m-100-20h0m83 61h0m91-102h0m-109-10h0m44-80h0m-23 12h0m-68 56h0m35 180h0m-9-143h0m-7-99h0m-8 170h0m27 2h0m88-73h0m49-98h0m-122 158h0m104-9h0m-50-34h0m-87-92h0m94 8h0m26 41h0m-28 135h0m-116-196h0m93-2h0m-125 93h0m113-22h0m68-107h0m-119 34h0m44 73h0m2 126h0m-12-151h0m85 79h0m-70-181h0m-119 177h0m69 35h0m0-171h0m13 135h0m41 104h0m19-125h0m-21 82h0m2 22h0m95-129h0m-161 165h0m-20-90h0m216 2h0m-70-213h0m26 101h0m-21 150h0m-101-19h0m14-178h0m26 211h0m-69-59h0m108-45h0m54 67h0m-149-120h0m127 95h0m-143-77h0m11-29h0m-14 138h0m78-87h0m90 16h0m-16 53h0m-92-170h0m25 116h0m14-5h0m1-4h0m-48-136h0m7 249h0m19-10h0m25-256h0m-85 89h0m81 160h0m46-75h0m-173 79h0m110-252h0m86 236h0m-103 11h0m83-36h0m-139-54h0m110 19h0m-79 79h0m50-196h0m53 195h0m-109-114h0m121-3h0m-197 52h0m112 11h0m-5-168h0m-19 187h0m-15-18h0m64-67h0m65-28h0m23-7h0m-63 74h0m-94 106h0m145-61h0m-44-184h0m-19 175h0m0-205h0m-78 281h0m32-242h0m-56 180h0m167-49h0m-77 29h0m-37 56h0m-65-192h0m93 117h0m73 39h0m-40-50h0m-41-14h0m-98 77h0m19-74h0m143-23h0m-143 14h0m24-101h0m75 221h0m27-195h0m-13-7h0m-62 72h0m42-57h0m-56-7h0m-69 68h0m15 5h0m91 29h0m-101 11h0m-20-23h0m124-103h0m22 11h0m45 91h0m-92-45h0m-29-75h0m4 20h0m-13 26h0m31 54h0m57 17h0m46 6h0m-134-8h0m110-37h0m0-108h0m-160 170h0m46-127h0m1-29h0m120 204h0m-36-160h0m-95 83h0m114 86h0m7 20h0m-104-181h0m-39 68h0m163 13h0m-109 121h0m106-120h0m-41-2h0m-48-135h0m34 221h0m88-141h0m-39-73h0m-75 99h0m-40 118h0m78-245h0m-85 158h0m40 75h0m-78-144h0m78-25h0m97 87h0m-101-107h0m36 204h0m1-127h0m-69 31h0m88-109h0m-122 62h0m15-23h0m138 168h0m12-72h0m-115 101h0m-46-135h0m122 36h0m-12 48h0m8-68h0m-13 78h0m-102-86h0m153 85h0m-58-70h0m-58-135h0m138 67h0m-132-78h0m-29 31h0m51 218h0m18-76h0m-102-7h0m97-55h0m59 9h0m41-11h0m-108-71h0m-75 84h0m29 83h0m68-139h0m-1 183h0m17-94h0m-127 4h0m6-64h0m89 115h0m-68-175h0m148 163h0m-176-152h0m51 143h0m112-204h0m-40 163h0m-98-93h0m154 87h0m-158-114h0m85 188h0m-44-138h0m168 105h0m-136 50h0m105-46h0m-96-68h0m61 1h0m0-153h0m14 205h0m-99 89h0m71-119h0m-4-145h0m-82 30h0m134 3h0m-112-70h0m-98 202h0m84-100h0m-71 114h0m178-107h0m-153 34h0m59 123h0m-83-26h0m185 4h0m-37 12h0m-131-121h0m63-95h0m79-28h0m-39 255h0m12-78h0m-74-104h0m166 140h0m-43-125h0m-118 124h0m42-45h0m72-133h0m-142 33h0m177 70h0m-42 31h0m-132-66h0m90 154h0m-5-214h0m209 553h0m8-56h0m-80-23h0m14 12h0m75-58h0m-35 24h0m67 81h0m-38-8h0m23-3h0m-93 2h0m69 31h0m43-74h0m-18 56h0m-70-12h0m56-32h0m5-8h0m-67 62h0m55-68h0m6-16h0m47 25h0m-26 57h0m-34-2h0m47-46h0m-64 31h0m-58-54h0m6-22h0m9 69h0m37-83h0m-4 76h0m-8-66h0m44 2h0m-32 26h0m-9 24h0m27-15h0m-59-15h0m116 49h0m-34-36h0m-25 42h0m-41-22h0m47-32h0m0 59h0m8-78h0m-1 32h0m-45 38h0m-4-20h0m83-16h0m-77 19h0m-26-31h0m66 26h0m7 21h0m-57-32h0m-7 15h0m71 18h0m-27 1h0m-37-52h0m50 61h0m41-5h0m-49-2h0m-11-5h0m38-2h0m-41 10h0m73-29h0m-44-72h0m33 94h0m-6-9h0m-35-21h0m-36-8h0m-15 68h0m-5-15h0m11-32h0m-8-14h0m60 14h0m-75 31h0m54-4h0m-13-16h0m64 11h0m-4 3h0m-53 4h0m-32-57h0m-31 4h0m27 5h0m64-29h0m-2 53h0m-57-63h0m1 14h0m28 71h0m-7-2h0m11-69h0m-45 58h0m-14 1h0m28-27h0m-22-24h0m-2 54h0m102-71h0m-100 40h0m-9 21h0m106 13h0m-112-27h0m61 37h0m15-17h0m48-38h0m-47-56h0m-15 103h0m38-8h0m-47-79h0m-19 9h0m45 75h0m4-3h0m-12-77h0m-7 55h0m-6-2h0m-40 34h0m35-8h0m0-63h0m62 26h0m-113-2h0m131 43h0m-53 2h0m-61-41h0m26 1h0m72 20h0m-75-14h0m58-39h0m25 49h0m-17 37h0m-20-32h0m-5-28h0m-30-2h0m-46 14h0m99 3h0m-49-69h0m-46 27h0m25-22h0m88 78h0m-109-35h0m-4 9h0m20 12h0m82 35h0m-13-23h0m-65-15h0m71-35h0m-48 2h0m7 96h0m2-37h0m-40-25h0m102-34h0m-14 50h0m-10 4h0m-41 10h0m47-34h0m-1 38h0m-45-20h0m1-36h0m-1-18h0m-48 38h0m50-69h0m-22 48h0m-15 55h0m81-55h0m6-4h0m-51 39h0m16-17h0m20 30h0m-9-19h0m-19 19h0m22-13h0m-85 22h0m70-10h0m32-9h0m-12 19h0m-33-51h0m18-17h0m-50 82h0m14-101h0m33 68h0m-4-6h0m-17-37h0m12-4h0m62 32h0m-65 17h0m6-61h0m-8 65h0m8-14h0m34-61h0m-46 80h0m-13-89h0m39 3h0m-13-3h0m-8 104h0m37-98h0m13 18h0m-96 35h0m65 54h0m-74-84h0m-6-19h0m-28 24h0m97-27h0m-60 113h0m126-27h0m-130-13h0m92 38h0m31-81h0m-51-44h0m-29 45h0m44 0h0m-70 14h0m4-11h0m38 68h0m-16-91h0m53 93h0m13 25h0m-99-19h0m9-44h0m-4 55h0m57-130h0m-103 82h0m155-20h0m-7-23h0m-122 45h0m19-34h0m47 50h0m69-68h0m-93 81h0m32-62h0m45-6h0m-137 28h0m40-33h0m20-56h0m-30 55h0m62 15h0m-38-8h0m-47-6h0m52-47h0m23 2h0m85 33h0m-172 23h0m133 27h0m-26-53h0m39-27h0m-72 102h0m-71-65h0m116 74h0m-101 7h0m69-110h0m34 114h0m10-57h0m-27-84h0m25 113h0m25-49h0m-50-26h0m10 92h0m26-75h0m-27 31h0m-90-43h0m47-20h0m76-6h0m34 52h0m-161-24h0m75 53h0m-22-82h0m16 120h0m-33-42h0m100 11h0m-64 64h0m1-22h0m-31-91h0m40-50h0m33 70h0m-132 28h0m98 26h0m-94-89h0m150 28h0m-55-14h0m-74 81h0m120-84h0m24 4h0m-59 87h0m-45-92h0m-3 47h0m43 44h0m-18-104h0m-18-29h0m-64 75h0m44-46h0m65-14h0m-82 89h0m58 15h0m34-116h0m-100 39h0m3 76h0m122-62h0"/>
<path stroke="#fdbf6f" d="m3563 2357h0m-119 62h0m58-39h0m-89 19h0m38 67h0m-84-157h0m136 99h0m-127-31h0m-46-41h0m90-35h0m81 54h0m-37 33h0m-87-42h0m91 101h0m73-123h0m-69-1h0m-3-36h0m-99-11h0m3 174h0m37-175h0m34 18h0m-111 49h0m138 65h0m89-36h0m-194 58h0m118-80h0m-109 58h0m-17 43h0m-43-80h0m45 5h0m-7 49h0m24 42h0m-13-114h0m-23 5h0m168 38h0m-148-105h0m10 161h0m-2-87h0m-37 60h0m232-58h0m-202-14h0m30-55h0m44 147h0m-81-34h0m23-131h0m-70 98h0m188-12h0m-140 88h0m70 16h0m47-144h0m36 42h0m2 23h0m-49-76h0m-166 77h0m112-57h0m143-20h0m-65 103h0m-129-63h0m171 67h0m-60-114h0m-17-43h0m-71 28h0m38 56h0m-79-42h0m59-8h0m-30-7h0m-24 113h0m189-69h0m-144 24h0m-61-3h0m214-9h0m-196 102h0m128-182h0m16 78h0m-64 85h0m8-63h0m5 36h0m0-10h0m-31 29h0m55-57h0m-31 51h0m-62-130h0m117 63h0m23 9h0m9 43h0m-104-23h0m-36-19h0m-9 6h0m20 48h0m51-63h0m-68-23h0m25-20h0m23 49h0m-15-88h0m70 72h0m-17-26h0m-33-20h0m11-15h0m-46 43h0m126 87h0m2-61h0m-212 14h0m135-6h0m-38-79h0m73 82h0m-73 13h0m48-7h0m-5 44h0m-146-20h0m162 19h0m-1-3h0m-26 24h0m-13-64h0m-12-95h0m119 56h0m-222 33h0m59 0h0m-22 4h0m51-88h0m127 62h0m1 109h0m-104 2h0m-6-182h0m-83 134h0m172 23h0m18-99h0m-97 8h0m50-61h0m-16 100h0m-118 40h0m168 2h0m-100-45h0m-6-82h0m86-7h0m-133-1h0m187 86h0m-10-17h0m-16 68h0m-79-131h0m-45 18h0m34 72h0m79 2h0m-186-21h0m177 66h0m-188-38h0m101-10h0m-90-16h0m36-6h0m55 14h0m-18 44h0m18-124h0m83 80h0m-38-87h0m-113 92h0m-46-11h0m96-35h0m42-29h0m-57 40h0m89 92h0m-32-133h0m37-13h0m-101 139h0m104-125h0m-55 30h0m-47 39h0m90-59h0m-154 79h0m69 57h0m73 31h0m75-131h0m-36-45h0m-85 47h0m-26 73h0m-25-53h0m-9-21h0m98-21h0m63 121h0m-72-40h0m-15 21h0m124-32h0m-123-15h0m-78 43h0m-40-62h0m118-78h0m54 102h0m44 11h0m-96-54h0m-30 60h0m23-116h0m-54 6h0m1 93h0m140 44h0m-152-96h0m79 94h0m21-31h0m-1-10h0m-40-17h0m11-64h0m-60 14h0m52 42h0m-22-59h0m117 160h0m-25-77h0m-95-59h0m-20 50h0m170 40h0m-162-117h0m20-25h0m42 179h0m3-75h0m-51-51h0m-89 56h0m194 13h0m-9-7h0m-130-38h0m147-9h0m-180 75h0m109-9h0m-113-37h0m124-25h0m-28 68h0m-21-71h0m5 65h0m-56-88h0m163-26h0m-55 23h0m-3 14h0m-49 34h0m132 39h0m-212-48h0m189 74h0m-146-137h0m15 107h0m-42 39h0m20-97h0m25-20h0m-43 40h0m27 18h0m27-31h0m114-22h0m-89 114h0m45-144h0m-140 65h0m59-46h0m17-35h0m111 24h0m-101 100h0m-33-101h0m11 1h0m27 45h0m17 63h0m-56-105h0m4 0h0m-40 129h0m20-13h0m20-142h0m2 127h0m181-77h0m-202 6h0m18-39h0m128 122h0m-76 36h0m-26-19h0m-23-3h0m-6-136h0m-32 22h0m166 71h0m-181-20h0m-1 12h0m217-72h0m-51 55h0m-47 5h0m-13-91h0m-67 159h0m-3-128h0m-29 63h0m34-41h0m42 9h0m-10 142h0m93-137h0m-126-6h0m140 63h0m-135-80h0m10 62h0m0 37h0m27-138h0m-27 99h0m142 7h0m-79-76h0m-66 114h0m161-41h0m-80 29h0m39-134h0m-51 25h0m59 105h0m-5-84h0m-120-17h0m92 51h0m37 62h0m14-101h0m-88 42h0m-28 47h0m115-110h0m-73 108h0m-128-31h0m187-34h0m7-5h0m28 26h0m-81-68h0m-52 28h0m90-33h0m-148 142h0m0-2h0m25 4h0m-42-84h0m221 71h0m-100-109h0m-109 113h0m68-27h0m529 321h0m143-40h0m-27 47h0m-13 47h0m-61-40h0m22-22h0m16 66h0m44-36h0m-25-66h0m-67 41h0m74 43h0m3-65h0m20 23h0m-82 6h0m50 63h0m-46 10h0m-23-115h0m3 28h0m12-9h0m60 5h0m-68-22h0m77-5h0m-19 1h0m27 25h0m-1-11h0m-44-5h0m-75 57h0m68-5h0m-31-40h0m25-20h0m31 14h0m20 2h0m-11-9h0m21 6h0m-70-7h0m89 16h0m-51 10h0m-20-52h0m44 82h0m1-24h0m-9-48h0m-106 40h0m113 70h0m-17-103h0m6 128h0m-26-87h0m15-1h0m-35 61h0m80-31h0m-5-28h0m-48-22h0m-75 1h0m72 50h0m-18-42h0m-73 22h0m92 56h0m-50-80h0m70-33h0m24 47h0m-8 3h0m15 32h0m-63 53h0m-31-100h0m50-24h0m1-10h0m-6-15h0m-24 132h0m8-74h0m33-64h0m-28 72h0m34-15h0m-9 60h0m42-63h0m-24 84h0m-13-76h0m-17 71h0m-12-65h0m37-38h0m9-15h0m-21 12h0m-31 124h0m-51-121h0m108 61h0m-80 12h0m-9-57h0m-11 2h0m71 69h0m-42-56h0m51 4h0m-31 34h0m12 16h0m20-80h0m-44 108h0m69-59h0m-104 26h0m24-27h0m-44 18h0m48-59h0m-56-6h0m130 44h0m-58 0h0m-61-3h0m51-23h0m37 12h0m44-21h0m-101 1h0m78 29h0m-43-63h0m-92 77h0m80 43h0m54-119h0m-24 34h0m32-15h0m-30-29h0m19 34h0m-114 18h0m67 51h0m-58-7h0m59-42h0m-28 16h0m-8 65h0m96-82h0m-59 85h0m-63-41h0m106-45h0m-76 8h0m38 38h0m59-81h0m-140 45h0m72 58h0m-17-93h0m55 30h0m35 9h0m-104-38h0m-35 0h0m13-1h0m31 26h0m-9 48h0m68 35h0m-5-73h0m13-27h0m14-15h0m-52 62h0m3 71h0m-1-139h0m22 28h0m5 75h0m8-98h0m-30 29h0m16 87h0m37-33h0m-41-46h0m-65-30h0m84-33h0m-60 131h0m81-87h0m-80 27h0m11 84h0m44-155h0m-117 109h0m127 0h0m-9-32h0m-75 21h0m36-23h0m2-58h0m-11 96h0m64-56h0m-42 62h0m-63-66h0m56 1h0m0-1h0m37-19h0m-53 93h0m20 32h0m11-141h0m-15 150h0m67-106h0m-30 1h0m-79 78h0m3-118h0m45 30h0m26-16h0m-61 96h0m255 703h0m-82-6h0m49 46h0m26-39h0m-20-45h0m-11 57h0m25-55h0m-63-1h0m0 72h0m-43 0h0m96-51h0m-32 71h0m-20-38h0m17-40h0m-38 64h0m-6-62h0m39 57h0m43-8h0m-18-15h0m36-30h0m-21-6h0m-8-26h0m-1 59h0m-12 44h0m39-72h0m-14-13h0m-29 73h0m-59-48h0m50 46h0m16-25h0m19-60h0m-47 12h0m67 36h0m-115 10h0m75-7h0m12 22h0m1 12h0m0-33h0m-44 6h0m-26-47h0m89 64h0m-40-82h0m3 17h0m36 42h0m5 1h0m-12-9h0m-37 48h0m-42-19h0m2-1h0m30 11h0m9-14h0m47-6h0m-63 28h0m42-26h0m-44 16h0m30 8h0m10-72h0m5 39h0m-56 7h0m38 20h0m-17-12h0m40-20h0m-31 10h0m15-6h0m-30 14h0m-31-1h0m82-23h0m15 23h0m-91-19h0m29-17h0m-4-36h0m54 3h0m-60 101h0m43-103h0m-60 25h0m49 46h0m-40 24h0m66-64h0m19 15h0m-54 6h0m-19 29h0m53-62h0m-8 30h0m-27 41h0m-3-65h0m-53 31h0m52-15h0m-159 170h0m-55 63h0m42-13h0m-42 9h0m30-34h0m-13-4h0m28-40h0m-35 33h0m-5 33h0m-8 1h0m5 6h0m-10-20h0m1-17h0m-23 4h0m38 50h0m25-59h0m33 10h0m-68-14h0m-17 0h0m-12 2h0m43 53h0m19-22h0m17-27h0m-10-34h0m-63 81h0m58-67h0m-34 14h0m46-30h0m-61 0h0m70 42h0m-17 1h0m13-21h0m-69 37h0m-6-19h0m84 14h0m-49-56h0m25 42h0m-15 20h0m-6 6h0m27-38h0m-69 17h0m46-6h0m3 22h0m-26 5h0m-24 6h0m75-50h0m-7-28h0m-63 20h0m36 60h0m28-72h0m6 27h0m3-25h0m-36 71h0m14-56h0m-4 34h0m43-12h0m-21-30h0m22 13h0m-80 39h0m30 19h0m-12 0h0m7-38h0m28 31h0m-57-3h0m-1 5h0m85-37h0m-54 33h0m29-9h0m-51 29h0m71-74h0m-12-13h0m-65 60h0m-1-36h0m11 4h0m23 45h0"/>
<path stroke="#d1b3da" d="m3638 2557h0m-3-3h0m2 2h0m-68 1h0m42 54h0m23-71h0m-38 54h0m9-6h0m-28 12h0m85-17h0m-110-13h0m65-11h0m6 52h0m20-45h0m-11 50h0m28-29h0m-75-43h0m60 7h0m-47 53h0m12-59h0m-24 10h0m27 23h0m-14 46h0m-35-43h0m79 14h0m10-7h0m-15-37h0m-45-25h0m45 87h0m-63-76h0m-23 68h0m42-33h0m16 40h0m-32-56h0m58 65h0m1-75h0m-40 14h0m-4 10h0m49 15h0m-43-52h0m33 62h0m-24-17h0m-16-18h0m38-5h0m-19-34h0m-7 59h0m37-39h0m-39 17h0m26 5h0m-19 36h0m51-46h0m-75-26h0m31 10h0m12 36h0m-76 19h0m110 1h0m-45-49h0m9 52h0m35-2h0m-9 15h0m-47-10h0m5-20h0m-12 35h0m-1-62h0m-16-7h0m56 3h0m-5 19h0m-18-27h0m-55 26h0m79-16h0m-17 19h0m-20-6h0m-2 34h0m-276 197h0m124-84h0m66 89h0m-68-84h0m-67-5h0m47 91h0m-101-34h0m147-27h0m-39 30h0m-13 65h0m-64-63h0m19 38h0m-40-20h0m149 10h0m-67-13h0m45 26h0m-71 21h0m-7-98h0m14 23h0m-68-21h0m103 11h0m10-5h0m-96 23h0m64 8h0m-26-70h0m61 43h0m14 80h0m-120-58h0m89 5h0m-90-13h0m94 31h0m-81 52h0m68-85h0m-22 88h0m-62-82h0m146 37h0m-78-60h0m-41 39h0m-5 46h0m56-77h0m23-28h0m1 24h0m37 54h0m-49-44h0m-80 44h0m8-54h0m87-25h0m-87 40h0m-33 25h0m181-28h0m-7-4h0m-23-7h0m-20 32h0m-97-21h0m140-1h0m-115-21h0m-14 18h0m79-42h0m-13 38h0m27 69h0m-109-66h0m71 22h0m22-58h0m-86 121h0m72-115h0m-81 47h0m25-56h0m19 55h0m67-30h0m-10-6h0m40 15h0m-71 34h0m65 20h0m-170-45h0m158 21h0m11-40h0m-133 66h0m-43-23h0m34-28h0m23 66h0m108-16h0m0-75h0m-4 29h0m-89 66h0m84-71h0m-137 19h0m37 79h0m73-60h0m-90-52h0m-13 16h0m83 72h0m-96-81h0m10 68h0m114-73h0m-86 39h0m57 54h0m12-94h0m41-4h0m-11-21h0m12-3h0m-60 62h0m49 36h0m-34-46h0m-50 80h0m14-5h0m44-49h0m-119-11h0m119-12h0m-54-5h0m87 33h0m17-70h0m11 4h0m-125 107h0m94-127h0m5 78h0m-38 44h0m53-83h0m43 44h0m-168-39h0m131-3h0m-142 14h0m118-29h0m-23 42h0m-83 38h0m123-17h0m-15-51h0m-109 0h0m131 39h0m-79 49h0m-44 14h0m-23-86h0m90-20h0m-6-42h0m-123 60h0m162 34h0m-33-49h0m-122 41h0m79 25h0m81-73h0m-118 65h0m90-99h0m-3 31h0m65 42h0m-73-77h0m-73 96h0m122 14h0m-158-44h0m37 5h0m59-69h0m67 32h0m-136 68h0m55-55h0m63-2h0m1 78h0m-16-79h0m-140 14h0m89-32h0m97 68h0m-11-35h0m-63 12h0m-41-34h0m14 83h0m-53 14h0m41-111h0m85 95h0m7-1h0m-4-117h0m-119 33h0m89 35h0m-10 30h0m14-53h0m-47 62h0m8 34h0m38-105h0m-15 12h0m8-42h0m-71 136h0m-17-26h0m-5-67h0m163 23h0m-27-8h0m-63 75h0m40-79h0m21 56h0m-128-49h0m101-33h0m-42-1h0m-26 2h0m57-7h0m6 47h0m69 31h0m-37-49h0m-60 9h0m91 5h0m-148-21h0m85 0h0m-91 80h0m103-92h0m576 50h0m-10 11h0m-21 6h0m27 15h0m6-5h0m-54-10h0m29 9h0m21-23h0m0 3h0m-2 19h0m29-26h0m-28 14h0m0-6h0m-31-15h0m-8 17h0m47 17h0m17-30h0m-59 26h0m45-28h0m-13 23h0m-22-9h0m6 0h0m13 183h0m-25 26h0m27 13h0m18-18h0m-31 19h0m14-62h0m15 33h0m-12 3h0m8-10h0m-3 14h0m-10 14h0m-20 8h0m-3-35h0m6-7h0m12 12h0m-18-31h0m15 45h0m-33-17h0m33 34h0m20-41h0m-4 5h0m-27 5h0m16-10h0m-10 7h0m13 35h0m5-16h0m-18 8h0m-33-18h0m12 45h0m54-60h0m-32 27h0m33-2h0m-60-40h0m13 30h0m0 26h0m-1-26h0m41-30h0m-4 53h0m-40-29h0m16-33h0m12 58h0m-34-12h0m20-48h0m-2-3h0m23 68h0m-15-10h0m-3-8h0m3 8h0m28 380h0m32 15h0m26-13h0m-24-36h0m45 39h0m-53-54h0m69 13h0m-84 0h0m0-4h0m46 67h0m8-36h0m18 26h0m-60-74h0m20 13h0m-13-17h0m-18 32h0m14-13h0m3 19h0m31 25h0m-16-47h0m53 21h0m-12 8h0m-28 17h0m-20-60h0m-4 30h0m-17 30h0m56-3h0m-29-19h0m34 20h0m-45-37h0m28 49h0m-17-17h0m-11-9h0m-1 2h0m-4-14h0m-6 19h0m26-16h0m-17-9h0m36 52h0m-10-4h0m-19-75h0m-5 25h0m24-5h0m-50 14h0m39 41h0m-32-35h0m64 40h0m-2-9h0m-324 144h0m95 18h0m-110 16h0m1 65h0m106-46h0m3-31h0m-75-26h0m17 18h0m-30 61h0m19-69h0m71 70h0m-60 16h0m13-15h0m-27-86h0m36 9h0m7 61h0m-55-81h0m43 115h0m-33-20h0m56-76h0m-94 42h0m31 55h0m29-55h0m-64 35h0m41-85h0m75 86h0m-28-62h0m-89 51h0m-4 2h0m55-57h0m7-27h0m-4 92h0m-17-64h0m32 78h0m-11-37h0m-9-58h0m-35 85h0m56-80h0m34 52h0m-74-57h0m63 49h0m-28 5h0m-41 41h0m39-62h0m-2-50h0m8 59h0m-20 18h0m22-74h0m-67 54h0m-3 35h0m68-46h0m39 29h0m-91-71h0m24 39h0m55 46h0m10-14h0m0 27h0m15-44h0m-111-42h0m88 65h0m-98 13h0m104 15h0m-41-35h0m-34 32h0m69-61h0m7 51h0m-28 19h0m2-1h0m33-9h0m-38-56h0m-59 66h0m62-92h0m0 3h0m-77 5h0m35 50h0m6-54h0m-23 97h0m-25-69h0m99 7h0m-10-28h0m-19 71h0m-28-97h0m43 113h0m-18 8h0m-50-7h0m27-24h0m-11 32h0m42-112h0m-20 31h0m-47-9h0m88-2h0m19 2h0m-102 59h0m7-8h0m-5-57h0m35 10h0m-51 22h0m37-36h0m29 54h0m36-42h0m-69 3h0m6 71h0m47-101h0m-41 25h0m76 58h0m-100-85h0m14 86h0m29-46h0m60 29h0m-93 18h0m41-63h0m19 31h0m-82 37h0m61 22h0m-328-106h0m-20 19h0m0-1h0m14 14h0m-3-49h0m14 53h0m-1-3h0m15-19h0m20 9h0m-21-27h0m-22 7h0m-11 0h0m19 28h0m25 2h0m-33 7h0m16-39h0m-19 10h0m-10 11h0m42-19h0m0 41h0m-39 0h0m30-45h0m-17 33h0m-4-39h0m5 56h0m16-12h0m4-38h0m-14 47h0m398 252h0m35-54h0m-13 15h0m22 59h0m35-37h0m-50-3h0m39 48h0m11-41h0m-41-35h0m10 25h0m-40 34h0m-2-48h0m26 9h0m39-14h0m-27 53h0m10-20h0m31 26h0m-68-60h0m24 11h0m7 15h0m-18 41h0m27-73h0m-24 59h0m-1-55h0m-11 49h0m30-40h0m34 50h0m-2 1h0m-3 4h0m-66-58h0m54 51h0m-6 5h0m-9-76h0m-9 43h0m18-1h0m-52-19h0m60 60h0m-54-78h0m5 85h0m31-54h0m-23-22h0m37 63h0m5-12h0m2-12h0m-14-48h0m-36 0h0m-13 63h0m58-50h0m-24-7h0m40 55h0m-39-63h0m17 8h0m-52 48h0m38-20h0m-16 40h0m33-69h0m-51 75h0m-389 17h0m-28-23h0m37 19h0m-25-25h0m-14 2h0m12 32h0m39-40h0m-19-19h0m-20-6h0m47 40h0m-27 21h0m21-44h0m-27-6h0m-6 34h0m18-21h0m-36-2h0m27-22h0m15 18h0m-19-4h0m21 25h0m-6-16h0m-45 25h0m50-13h0m-17 20h0m5-59h0m-23 0h0m20 56h0m-18 14h0m27-69h0m4 51h0"/>
<path stroke="#ff7f0e" d="m3734 2860h0m-38-136h0m48 0h0m-71 49h0m94 13h0m-39 75h0m4-121h0m11-21h0m-30 70h0m-43 31h0m89-103h0m-23 73h0m-5-28h0m-15 53h0m-14-95h0m-1 61h0m30 28h0m36-50h0m-34 28h0m27-24h0m15 0h0m-88 65h0m-6-83h0m75-27h0m-51 24h0m10 107h0m22-132h0m-11 138h0m-9-26h0m-5-119h0m54 15h0m-81 108h0m43 22h0m25-110h0m-23 2h0m-4 35h0m-45 0h0m97 59h0m-73-114h0m35 67h0m-8 50h0m11-112h0m-17 78h0m-16-5h0m41 36h0m-57-67h0m56 53h0m-51-13h0m14-103h0m6 109h0m-12 16h0m20-84h0m29 54h0m-73-37h0m34 5h0m-8 52h0m65-68h0m-14-14h0m-43-6h0m-5 88h0m52-61h0m-5-51h0m-12 74h0m-20 52h0m-44-33h0m83-24h0m-75 41h0m63-115h0m-29 16h0m-19 96h0m-19-60h0m31-37h0m66 96h0m-22-34h0m-5 52h0m-6-39h0m-33-33h0m42 38h0m-15-58h0m20 16h0m-45-27h0m24 64h0m-57-15h0m-16 35h0m44-33h0m-19 5h0m-19-18h0m45 0h0m-28 64h0m-2-118h0m39 130h0m-3 7h0m1-80h0m20 69h0m-37-140h0m-37 117h0m36-40h0m34-7h0m-24-47h0m-9 16h0m2 41h0m57 33h0m-10 4h0m6-77h0m-25 42h0m6 52h0m-18-113h0m-9 136h0m40-143h0m-28 0h0m-44-1h0m43 114h0m19-84h0m-66 72h0m36-108h0m37 76h0m15-31h0m-79-51h0m85 91h0m-38-51h0m28 55h0m-63 52h0m-7-3h0m-9-56h0m-3-6h0m10-46h0m3 1h0m32 30h0m-10 78h0m38-138h0m-56 65h0m-8 53h0m-12-7h0m0-18h0m80-50h0m-11-10h0m-1 53h0m-32 14h0m23-19h0m680 216h0m-39-100h0m2 76h0m-30-15h0m32 64h0m5-74h0m-47-14h0m19 26h0m-106-14h0m11-21h0m65-20h0m104 76h0m-188-42h0m107 42h0m68-56h0m-88 30h0m17 6h0m-9 16h0m53-22h0m-1 95h0m-46-13h0m-84-57h0m97-49h0m18 57h0m-20-44h0m59-5h0m-61 100h0m-106-87h0m93 90h0m10-16h0m29 4h0m-38-53h0m-81-24h0m159-1h0m-135 39h0m42-55h0m92 91h0m-148-44h0m86 52h0m-112-63h0m12-25h0m119-48h0m-23 144h0m67-43h0m-98-72h0m45 117h0m-12 11h0m13-144h0m50 47h0m19 34h0m-58-69h0m-49 13h0m7 48h0m10 36h0m-40-60h0m53 2h0m-5-41h0m24 7h0m-45 26h0m-85 0h0m133 99h0m-1-68h0m-115-29h0m81 35h0m44 19h0m33-25h0m-31-63h0m52 75h0m-11-10h0m-147-73h0m42 46h0m-14 74h0m-42-106h0m82 117h0m-33-104h0m59-25h0m5 127h0m-24-89h0m-109-27h0m77 15h0m14 17h0m25-26h0m51 73h0m-101-56h0m42 89h0m-16-2h0m27 3h0m-17-110h0m72 90h0m-65 6h0m-102-103h0m92 17h0m13 109h0m15-135h0m35 58h0m-20 45h0m-20-12h0m42-34h0m-69 2h0m-10 81h0m10-65h0m106 9h0m-65-58h0m-46 100h0m61-115h0m-20 54h0m51 24h0m-12-52h0m-90 62h0m42-119h0m-43 124h0m-18 10h0m50-111h0m38 23h0m40 46h0m-123 19h0m65-75h0m-24 4h0m13 6h0m-50 98h0m-17-96h0m-73 18h0m86 69h0m48-92h0m-10 9h0m-75 7h0m52 72h0m65 15h0m-26-141h0m6 42h0m7-20h0m20 36h0m-11 75h0m0-118h0m-108 95h0m48-69h0m98 62h0m-86-61h0m-7 43h0m93 30h0m-25-16h0m1-51h0m-43 77h0m39-72h0m-18 3h0m-60 93h0m39 7h0m-40-34h0m-1-97h0m78 15h0m-30-22h0m-68 75h0m54-46h0m33 92h0m-82-124h0m96 43h0m-82-18h0m71 107h0m-45-25h0m-36-93h0m72 100h0m-59-47h0m44 0h0m-34-50h0m-11 116h0m39-105h0m-4-18h0m-31 114h0m28 17h0m111-75h0m-25-22h0m-78-47h0m-98 7h0m5 12h0m98 12h0m-11 111h0m-9-145h0m72 85h0m-97-36h0m2-8h0m12-21h0m56 108h0m-82-36h0m39-71h0m32-14h0m54 88h0m-133-41h0m42 87h0m-23-54h0m66 14h0m-90-31h0m96 74h0m-44-141h0m-15 38h0m67 52h0m-63-48h0m-70-17h0m63 4h0m-73 37h0m93-23h0m-94-9h0m9 3h0m129 44h0m-19 2h0m64-5h0m-124-30h0m30-11h0m-10 4h0m61 63h0m-58-41h0m-7-34h0m16-15h0m-68 55h0m75-23h0m-110-6h0m96 45h0m0-84h0m3 18h0m17-12h0m50 28h0m-56-29h0m-86 44h0m128 53h0m-64-94h0m-101 40h0m90 44h0m21 26h0m-95-88h0m113 82h0m-20-76h0m32-26h0m-52 14h0m19 21h0m-101-3h0m140-20h0m-52 68h0m103-12h0m-29-13h0m9 42h0m-86-63h0m17-4h0m-90 34h0m133 51h0m-31-73h0m42 32h0m-60-33h0m56 10h0m-56-32h0m41 19h0m-10-25h0m6-3h0m-110 7h0m-25 33h0m152-63h0m19 106h0m-101 266h0m61 21h0m-45 39h0m-62-51h0m67-6h0m14 14h0m30 7h0m-72-26h0m60-13h0m-54-3h0m-8 64h0m-30-13h0m118 22h0m-81 23h0m23-14h0m52-5h0m-58-52h0m37 12h0m-62-30h0m25 29h0m4 46h0m6-49h0m-12 44h0m4-49h0m-24 36h0m39-11h0m-12 29h0m-5-60h0m41 23h0m-54-13h0m-12-37h0m30 69h0m5 7h0m-74-27h0m113-29h0m-43-6h0m-33 55h0m79-35h0m-64 50h0m-9-30h0m59-3h0m4 7h0m-9 4h0m-9-18h0m-32 3h0m29-47h0m-32 99h0m88-53h0m-64 15h0m-16-66h0m-7 64h0m4-56h0m-3-15h0m19 45h0m-35 2h0m-10 50h0m-22-20h0m54 24h0m57-3h0m-33-87h0m-75 47h0m25 53h0m-7-16h0m67-56h0m-61 58h0m9-37h0m-1 45h0m76-3h0m-44-92h0m-27 35h0m45-14h0m7 34h0m-83-28h0m27 15h0m60 3h0m-22 30h0m-30-3h0m12-41h0m-44-7h0m25 60h0m-21-75h0m35 91h0m56-72h0m5 9h0m-57 1h0m34 13h0m12 14h0m-79 10h0m22-37h0m27-29h0m-3 82h0m-79-43h0m45 36h0m-6-42h0m104 12h0m-108-27h0m37 2h0m3 5h0m-27-34h0m57 81h0m36-34h0m-32-43h0m-92 13h0m44 31h0m5-28h0m29 60h0m-9-20h0m-10 31h0m53-13h0m-26-73h0m-67-3h0m-4 28h0m15 70h0m51-105h0m-37-7h0m76 72h0m-94-9h0m47 20h0m-58-42h0m-18 587h0m-6-66h0m-10-13h0m78 46h0m-72-90h0m33 71h0m29-25h0m-125 43h0m8-10h0m104-41h0m-92-25h0m-25 28h0m106-1h0m10 13h0m-75 44h0m89-26h0m-138-31h0m21 15h0m33 2h0m63-68h0m-74 27h0m33 102h0m-22-118h0m85 69h0m-139-4h0m18-45h0m61 104h0m-13-85h0m46-53h0m-87 12h0m88 51h0m-90 0h0m131 17h0m-125 4h0m44-65h0m-47 67h0m51-44h0m-13 59h0m-2-20h0m35 13h0m-54-30h0m52 72h0m29-108h0m-122 35h0m83 3h0m69 38h0m-137-31h0m93-7h0m22-2h0m-123 24h0m-23 2h0m87-72h0m-13 81h0m96 5h0m-44-101h0m-85 86h0m0-49h0m52 5h0m-85-8h0m33 32h0m0 65h0m112-130h0m-54 68h0m36 5h0m-127-46h0m86 93h0m-30-30h0m-21-22h0m37-13h0m26 5h0m-102-19h0m91 28h0m-54 11h0m79-57h0m17-13h0m-114 80h0m53-7h0m66-23h0m34 9h0m-164 27h0m-2-50h0m54 8h0m-20 16h0m92-48h0m14 28h0m-51 30h0m29-53h0m-7 40h0m-14-28h0m0-12h0m23 81h0m-108-57h0m111 29h0m-45 46h0m-76-24h0m119-36h0m-24 6h0m-80-54h0m-23 12h0m147 26h0m-136 1h0m151 7h0m-25-18h0m3-16h0m-21 56h0m-56 55h0m-66-82h0m108 29h0m9-44h0m-18 24h0m-66 9h0m-27-48h0m19 91h0m24-63h0m23 32h0m-73 5h0m35-60h0m-22 68h0m16-14h0m-26 14h0m25-36h0m36 16h0m108 8h0m-112-29h0m31 64h0m-68 0h0m53 13h0m-65-92h0m40 66h0m79-71h0m-106-2h0m39 57h0m-62-29h0m121-58h0m27 71h0m-31-59h0m25 44h0m-40 65h0m-36-25h0m-39-1h0m46-16h0m-69-60h0m5 46h0m161-2h0m-68-9h0m-4 38h0m-38-52h0m34-20h0m-80 77h0m78-92h0m48 72h0m-8-79h0m-92 7h0m82 3h0m-32-13h0m9 68h0m-56 3h0m65-20h0m-58-30h0m-37 75h0m50-82h0m-31 56h0m90-3h0m0 1h0m-38 41h0m37 9h0m-29-77h0m-31-41h0m80 18h0m-92 71h0m97-64h0m-119 33h0m63-53h0m-65 103h0m-7 10h0m128-74h0m-84 85h0m-17-38h0m-2-47h0m48-9h0m15 20h0m48-12h0m-153-12h0m175 36h0m-171-19h0"/>
<path stroke="#9fd0e8" d="m3599 3020h0m-135-45h0m178-4h0m24 30h0m-194-21h0m189 22h0m-176 11h0m151 57h0m-35-5h0m-67-137h0m94 151h0m-111-153h0m112 71h0m-90-5h0m-41 8h0m144-28h0m-63-29h0m102 82h0m-34-58h0m3 6h0m-125 24h0m19-61h0m-34-14h0m183 49h0m-148 46h0m47-33h0m-87-60h0m119 27h0m-79-32h0m88 76h0m33-62h0m-23 121h0m-110-41h0m96-97h0m-61 113h0m-60 21h0m126-37h0m40-39h0m11 15h0m-91 71h0m92-93h0m-18 20h0m-74-23h0m-7 23h0m-95-44h0m-12 24h0m183 88h0m30-79h0m-41 22h0m-44 58h0m19-50h0m-25-36h0m36 3h0m-16 94h0m-150-49h0m67-65h0m-7 33h0m27 54h0m-95-66h0m205-4h0m30 32h0m-59 33h0m-17 8h0m-23-55h0m-54-67h0m2 45h0m95 26h0m-110-39h0m78 106h0m65-92h0m-18 29h0m-6 57h0m-61 23h0m-57-115h0m-21-36h0m93 101h0m-53 23h0m122-19h0m-97-99h0m45 104h0m-22-142h0m-86 40h0m65 67h0m-11-43h0m-122 28h0m25-36h0m57 113h0m-19-138h0m66 90h0m-45-62h0m-76 19h0m185 45h0m-137 10h0m154-41h0m30-16h0m-95-2h0m82 6h0m-37 95h0m12-76h0m-118 78h0m135-93h0m-150-39h0m60-13h0m-3 11h0m-79 56h0m82-77h0m56 2h0m-34 35h0m-27 11h0m56-52h0m10 13h0m-122 21h0m33 117h0m38-63h0m78-15h0m-139-6h0m-8 9h0m12 64h0m34 21h0m-79-110h0m153 78h0m3-6h0m-45-119h0m3 132h0m-39 27h0m68 0h0m-19-100h0m-102 2h0m64-42h0m-7 1h0m59-24h0m-46-12h0m-52 46h0m150 33h0m-103 45h0m47-10h0m-85 41h0m7-114h0m-2-21h0m80 115h0m16 27h0m67-84h0m-78 89h0m-74-145h0m91 30h0m-109 75h0m150 9h0m-27-44h0m-128-59h0m36 1h0m10 156h0m41-90h0m-13 90h0m-31-92h0m-12 63h0m44-18h0m-1 18h0m-12 7h0m27-171h0m-46 117h0m-48-88h0m175 53h0m-43 65h0m-8-48h0m20-42h0m-53 120h0m-72-27h0m111-60h0m-39 78h0m-138-79h0m169 9h0m-83 55h0m94-72h0m-99-52h0m-26 2h0m112 50h0m-105 0h0m97 101h0m-104-75h0m94-15h0m-51-72h0m55 112h0m-14-92h0m-28 53h0m67 1h0m-25 79h0m33-122h0m-64 24h0m-79-39h0m26 126h0m-23-137h0m10 38h0m100 22h0m-83 50h0m77-81h0m4-36h0m-61 25h0m-49-21h0m46 67h0m-61-15h0m49 87h0m-51-5h0m-35-35h0m34-79h0m45 70h0m1 45h0m47-69h0m27 89h0m495 241h0m-37-122h0m24 42h0m-52-51h0m29-38h0m-19-36h0m-13-5h0m17 147h0m32 76h0m51-39h0m-62-56h0m24 135h0m-53-125h0m42-53h0m-5-7h0m-21 56h0m-29-145h0m33 150h0m42 116h0m-36-47h0m8 44h0m-65-197h0m-5 39h0m82 120h0m-54-66h0m33 23h0m24 56h0m20 54h0m-56-208h0m7 82h0m12-43h0m42 117h0m-65-207h0m46 101h0m-26-1h0m-19 103h0m-6-76h0m43 119h0m-46-241h0m25 217h0m21 25h0m11-3h0m-33-110h0m-4 98h0m-65-197h0m57 195h0m-20-104h0m75 15h0m-34-25h0m-9-9h0m33 122h0m-69-111h0m42 120h0m-20-241h0m49 258h0m-39-61h0m7 10h0m-7-113h0m-1 22h0m-6 80h0m8 38h0m-40-267h0m76 232h0m-20-106h0m-18-37h0m3 44h0m24 138h0m5-2h0m-29-193h0m-9-29h0m4 60h0m-11 49h0m28 3h0m-55 2h0m36-161h0m56 281h0m-63-129h0m-15 23h0m77 86h0m-93-274h0m61 184h0m3-18h0m-1 63h0m-36 17h0m-24-134h0m17-62h0m36 63h0m-66-56h0m52 94h0m-44-90h0m2-6h0m76 247h0m-43-117h0m16-87h0m-15 77h0m-11-2h0m-2-150h0m14 137h0m-3-13h0m56 120h0m-57-70h0m-6-3h0m19-19h0m-30 3h0m28-46h0m-29-103h0m17 164h0m-11-4h0m9-15h0m0-14h0m1 87h0m19 0h0m-4-128h0m-53-30h0m54 41h0m-24-6h0m43 28h0m-6 115h0m17-147h0m-50 76h0m-9 9h0m11-178h0m74 173h0m-76-158h0m23 114h0m-14 10h0m26-38h0m-14 35h0m51 89h0m-42-7h0m-30-173h0m20 76h0m-27 34h0m13-43h0m22 129h0m-39-231h0m62 96h0m-39 141h0m11-2h0m-23-128h0m41 104h0m23-94h0m-32 121h0m-22-94h0m-8-63h0m65 161h0m-1-115h0m-58 71h0m-3-88h0m-6-120h0m16 156h0m1-13h0m-3 21h0m-46-60h0m-10-34h0m11-6h0m37 93h0m-7-165h0m9 149h0m-28-68h0m72 77h0m-15-8h0m-64-78h0m-12 18h0m84 155h0m-48-106h0m47 118h0m-50-232h0m7 130h0m17-24h0m-54-64h0m66 162h0m-21-173h0m15 82h0m47 145h0m-50-146h0m3-35h0m5 14h0m-67-71h0m94 238h0m-16 5h0m-19-74h0m3-66h0m-24 21h0m16-37h0m10 55h0m-2 32h0m-36-201h0m-16 60h0m46 70h0m21 110h0m-31-231h0m-10-14h0m-254 613h0m-71 132h0m-41-81h0m67 83h0m-30 25h0m-50-102h0m79 77h0m34-54h0m-9 4h0m53 49h0m-153-66h0m9 47h0m1-6h0m9-76h0m-10 7h0m19-35h0m57 121h0m-92-69h0m50 7h0m11 73h0m63 33h0m39-75h0m-58-74h0m1-17h0m30 148h0m-127-45h0m143 69h0m-147-90h0m46-117h0m-13 169h0m32-25h0m87 69h0m-148-98h0m-1 2h0m82-63h0m-81 52h0m88-47h0m-57 127h0m72-38h0m-49-123h0m44 55h0m-66 25h0m10-84h0m35 152h0m-28-48h0m37 43h0m-29-96h0m98 117h0m-21 5h0m-32-15h0m-50-183h0m37 203h0m-94-96h0m22 49h0m82 38h0m-36-48h0m-51-57h0m-25 19h0m135 100h0m-86-79h0m-14-46h0m-22-10h0m100 126h0m-57-95h0m-8 16h0m-9-19h0m8 14h0m9-89h0m42 105h0m95 24h0m-181-88h0m-2 20h0m88 86h0m65 11h0m-54-107h0m-28-59h0m1 94h0m-61 26h0m108-81h0m-105 61h0m53 69h0m23-60h0m-34 26h0m38 18h0m-75-31h0m-14 2h0m17 4h0m54-48h0m0-29h0m-10 131h0m70-96h0m-124 2h0m68 103h0m60-57h0m-71-37h0m21-20h0m24-54h0m-32-3h0m-9-3h0m-68 74h0m87-32h0m-46 32h0m22 45h0m-15 28h0m111-26h0m-124-153h0m-23 125h0m76 44h0m-103-8h0m32-7h0m77-56h0m-93-6h0m1-19h0m69 119h0m-7-54h0m74 18h0m-44-109h0m8 147h0m-102-117h0m56 68h0m-25-13h0m29 28h0m-21 11h0m27-24h0m35 8h0m-105-12h0m80 17h0m23-34h0m-23-59h0m28 12h0m-20 14h0m-26 77h0m55-26h0m-142-30h0m121-76h0m-62 149h0m-32-88h0m46 53h0m-60-62h0m88-66h0m99 146h0m-49-64h0m-129-23h0m34-26h0m53-4h0m-53 57h0m-27-1h0m167 52h0m-153-70h0m54-38h0m79 98h0m-86 14h0m-70-93h0m3 15h0m94 90h0m-11-113h0m78 99h0m-80-56h0m-59 9h0m84 19h0m-21 21h0m-76-51h0m-7-2h0m175 73h0m-143 10h0m-29-112h0m147 65h0m-77-4h0m-46-90h0m80-2h0m-91 26h0m66-58h0m25 108h0m-11 54h0m33-61h0m-21-84h0m-21 152h0m-83-114h0m75-47h0m85 157h0m-69-115h0m73 97h0m-119-50h0m-4-24h0m51 62h0m76 16h0m-112 2h0m62 39h0m-48-110h0m-54-35h0m18 79h0m77-95h0m-21 13h0m-29 44h0m22 93h0m-59-101h0m-36 40h0m83 28h0m-92-56h0m120-48h0m-77 22h0m59-10h0m-4 113h0"/>
<path stroke="#fa1719" d="m3756 3319h0m97-61h0m-46-35h0m-43-22h0m-85 33h0m22 25h0m124 52h0m-176-46h0m160-57h0m53 58h0m-129-44h0m106 56h0m-77 49h0m15-5h0m-11-12h0m-19-30h0m44-2h0m4-88h0m-32 110h0m66-52h0m-100 25h0m69 23h0m-62-39h0m41 55h0m14-88h0m-10 1h0m-17 126h0m87-88h0m-37-64h0m-122 45h0m23 41h0m41-68h0m-53 111h0m-44-65h0m154-36h0m-77 21h0m1-26h0m65-23h0m14 1h0m-5-17h0m-94 74h0m68 2h0m-40-9h0m90 48h0m-109 18h0m122-16h0m-92-62h0m-64-4h0m74-6h0m57-30h0m44 69h0m-29-52h0m21 63h0m-72-45h0m-35 92h0m90-47h0m-84-3h0m59 47h0m29-43h0m-16 28h0m-60-11h0m-47-61h0m54 111h0m-67-65h0m81-33h0m-126 31h0m159-66h0m16-21h0m-92 51h0m-38-14h0m146 54h0m-86-33h0m-42-48h0m43 114h0m45-5h0m-115-45h0m57-29h0m87 64h0m-20-116h0m-92 62h0m-10 44h0m96-60h0m-42 101h0m-36-81h0m54 86h0m-75-98h0m-7 35h0m142 29h0m-31 12h0m-28-115h0m-56 94h0m91-79h0m-17 110h0m52-58h0m-114-55h0m-8 41h0m40-16h0m-31 24h0m-7 20h0m10-3h0m79 10h0m-44 35h0m-26 25h0m18-22h0m74-87h0m-74 58h0m-40-84h0m2 91h0m19 28h0m-28-111h0m80-21h0m16 77h0m11-11h0m13-29h0m-34-7h0m-61 41h0m76 33h0m-146-81h0m-29 21h0m70 42h0m15-14h0m-6 41h0m78-88h0m-160 40h0m66-6h0m10-21h0m98 72h0m-116-50h0m131 35h0m-104-5h0m-16 28h0m52-114h0m-47 60h0m89 60h0m-85-112h0m32 87h0m54-122h0m-99 153h0m72-67h0m0 68h0m-61-64h0m8-10h0m74 61h0m-43 4h0m14-16h0m-70-6h0m-6-41h0m82-34h0m-46 123h0m94-117h0m-139 10h0m-34 14h0m76 19h0m28 20h0m-39-33h0m58-41h0m37 23h0m-83-34h0m28 135h0m79-103h0m-138-15h0m66 131h0m-27-87h0m66-45h0m-124 51h0m129-32h0m-131 8h0m28-11h0m30 90h0m7-23h0m12-7h0m-9-19h0m-22 47h0m-53-21h0m87 30h0m57-125h0m-95 84h0m20-19h0m112-33h0m-118 23h0m24 36h0m0-6h0m-34-66h0m113 36h0m-21 42h0m2 3h0m-96 2h0m2-85h0m124 38h0m-113-16h0m20 56h0m-28-94h0m52-31h0m-58 103h0m107-55h0m-51 113h0m30-108h0m31-7h0m-144 52h0m97-36h0m37-12h0m-105 38h0m117-35h0m-70 74h0m-2 22h0m66-44h0m-124-1h0m102-108h0m10 94h0m-55 37h0m29-14h0m-70 36h0m-77-55h0m91-18h0m93 13h0m-66 43h0m-99-73h0m142-17h0m30 67h0m-18-10h0m-44-77h0m1 48h0m-75 41h0m138-31h0m-118 1h0m88-65h0m30 99h0m-128-9h0m135-22h0m-208 3h0m116 67h0m-50-143h0m131 53h0m-52-5h0m48 49h0m-23-74h0m4 83h0m-81-46h0m-59-34h0m151 37h0m-19 51h0m-21 32h0m7-132h0m-28 110h0m8 1h0m-34-32h0m86 0h0m-27-65h0m26 41h0m-36 38h0m21-101h0m16 102h0m-102-53h0m46 70h0m-68-91h0m9 42h0m-12-11h0m154 7h0m-29 30h0m-446 433h0m53-16h0m42 77h0m-139-80h0m24 101h0m44-177h0m72 124h0m-136-111h0m89 110h0m-60-131h0m2 72h0m-25 61h0m81-71h0m25 15h0m34-45h0m14 81h0m-109 31h0m24 22h0m46-97h0m-22-32h0m-38 81h0m-104-79h0m182 35h0m-27 72h0m14 3h0m-87-45h0m94 10h0m-108-28h0m-65-3h0m197-16h0m-186 32h0m17-18h0m3 72h0m87-58h0m43 41h0m-21 7h0m-75-47h0m-60-91h0m120-17h0m80 62h0m-192 35h0m101-24h0m-76-7h0m129 93h0m-13-101h0m22 80h0m-6 4h0m-140-84h0m61 31h0m-47 52h0m100 39h0m-112-33h0m-22-117h0m117 9h0m-80 34h0m-25 49h0m9-102h0m132 131h0m-71-164h0m49 43h0m-28 102h0m12-17h0m-75-15h0m-52-49h0m87 114h0m-14-56h0m74-28h0m-78 28h0m-39-1h0m-15 2h0m100 30h0m74 28h0m-5-104h0m-72-39h0m-54 80h0m86 9h0m20-61h0m-20 96h0m-127-92h0m-3-41h0m144 50h0m-34-17h0m64 116h0m-9-92h0m-39 73h0m-101 32h0m-43-99h0m83 14h0m-50-10h0m110 32h0m-109-52h0m133 94h0m-91-73h0m17 55h0m-12-26h0m-11-48h0m73 102h0m-3-120h0m-75 139h0m12-31h0m61 15h0m-4-165h0m-16 53h0m-47 62h0m-20-15h0m2-29h0m-49-47h0m38-28h0m127 152h0m-154-108h0m26-48h0m151 81h0m2 1h0m-138 41h0m117-79h0m-86 81h0m104-37h0m-70-85h0m64 143h0m-158-44h0m177-21h0m-103-87h0m-61 20h0m141 30h0m-45 118h0m47-106h0m-140 40h0m168-19h0m-17 87h0m-159-111h0m109 96h0m60-52h0m-19 81h0m-186-101h0m31 47h0m70-25h0m9-65h0m47 41h0m-80 42h0m107-17h0m-47-42h0m5 21h0m-60 34h0m62-30h0m-124-32h0m59 23h0m-69-45h0m-13 44h0m132 2h0m-48 66h0m69-63h0m1-2h0m-32 67h0m29-114h0m-57 130h0m33-55h0m-98 7h0m-10-97h0m147 32h0m-79 78h0m64-103h0m17 62h0m-143 1h0m55 43h0m119-82h0m-69-45h0m-107 54h0m-18-6h0m11 36h0m86 71h0m-4-27h0m-61-52h0m89-75h0m59 27h0m-15 128h0m-101-60h0m119 27h0m-22-70h0m-74-33h0m74 41h0m11 111h0m-151-103h0m116-47h0m30 50h0m-112 11h0m120-40h0m-77 64h0m67 80h0m-151-77h0m156-39h0m44 5h0m-91-62h0m-124 57h0m65-5h0m84-3h0m-108 7h0m-9 43h0m165 68h0m-150-96h0m180-13h0m-198 17h0m30-6h0m-51-19h0m193 2h0m-16-23h0m-160 77h0m89 23h0m-96-107h0m104 130h0m48-23h0m-82-10h0m22 55h0m82-31h0m-66-70h0m-50 51h0m1-6h0m-56-60h0m58-15h0m57 90h0m13-59h0m-51 8h0m25-81h0m43 43h0m-100-52h0m-20 175h0m175-104h0m-196-2h0m-24-22h0m162 12h0m-133 57h0m189-31h0m-192-70h0m124 75h0m-35 37h0m-50-15h0m137-45h0m-68 22h0m-1-27h0m26 84h0m-41-140h0m-37 131h0m56-48h0m45-54h0m-184 28h0m220 27h0m-11-25h0m-90 9h0m-43 7h0m66 51h0m-3 53h0m-21-92h0m37-37h0m-115-9h0m53-41h0m30 51h0m-41 57h0m-15 53h0m91-114h0m-72 97h0m-28-19h0m-22-31h0m14-8h0m53-45h0m-34 73h0m-54-30h0m58-1h0m50 34h0m27 54h0m-35-137h0m75 31h0m-126 13h0m94 101h0m-13-150h0m-21 52h0m59 60h0m-14 8h0m28-77h0m16-13h0m-196-47h0m71 150h0m128-96h0m-171 39h0m132 43h0m-17-97h0m-104-68h0m-25 36h0m6-39h0m1 65h0m-17-44h0m-13 43h0m68 37h0m-51 18h0m160-43h0m-135-30h0m81 50h0m32-17h0m18 19h0m-97 79h0m41-37h0m29-36h0m-144-1h0m146-48h0m-74 71h0m82-57h0m-90 134h0m35-160h0m21 3h0m71 42h0m-35-31h0m-138 45h0m118-50h0m15 11h0m-37 95h0m-64-47h0m-6-6h0m329 368h0m-140 143h0m156-80h0m-96-69h0m53 77h0m-64 44h0m-48-16h0m166-38h0m-13-14h0m-19-21h0m-27 46h0m3-13h0m27-79h0m-74 34h0m-33 33h0m33 57h0m63-120h0m22 92h0m18-70h0m-119 82h0m6-82h0m6 99h0m98-53h0m-134-28h0m-26 37h0m36-41h0m99 19h0m-111 101h0m40-92h0m111 3h0m-16-2h0m-99-1h0m115 2h0m-72-55h0m-12-7h0m13 88h0m-59-67h0m-16 124h0m43-84h0m61 15h0m-114-26h0m10 104h0m41-72h0m-68 76h0m13-101h0m-7 78h0m126-107h0m8 74h0m-94-34h0m80-22h0m-18 53h0m-52 12h0m37-87h0m68-9h0m-8-9h0m14 46h0m-92 45h0m35 3h0m4-51h0m18 59h0m-100 41h0m125-85h0m-10 30h0m-63 36h0m-14-54h0m-49-3h0m141-39h0m-44 76h0m47-52h0m-6 12h0m-15-68h0m15 53h0m11 25h0m-130-19h0m126-14h0m-143 103h0m-10-112h0m136-20h0m24 24h0m-104 75h0m-65-40h0m68 26h0m17-89h0m80 61h0m-130-4h0m7 71h0m95-74h0m-33 25h0m-50-17h0m-20-5h0m121-41h0m-74-1h0m59 60h0m-149 58h0m87-14h0m-41-21h0m28-71h0m61-3h0m-45 51h0m-16 38h0m-17-53h0m120-52h0m-50 12h0m-125 54h0m42 59h0m127-108h0m-92 58h0m-18-24h0m88-30h0m-74 101h0m-22-74h0m-46 21h0m62-84h0m-16 132h0m-33-93h0m150 4h0m-135-1h0m-4 5h0m100 42h0m-84-9h0m71 29h0m-37 18h0m-46-89h0m29 87h0m-74-41h0m175-49h0m-123 24h0m46 14h0m-79 40h0m42-59h0m6-37h0m-21 117h0m19-79h0m16 12h0m-15 73h0m-57-32h0m88-4h0m-53-53h0m26 65h0m119-47h0m-37 7h0m4-17h0m-54 12h0m-35-65h0m4 109h0m22-18h0m-11-81h0m106 52h0m-36-5h0m7-13h0m13 40h0m-97 20h0m19-19h0m-53-46h0m122 34h0m-85-59h0m87 55h0m-15-32h0m40 22h0m-142-9h0m-38 22h0m71 3h0m4-85h0m-3 11h0m-8 46h0m4 31h0m96-66h0m-168 143h0m79-54h0m86-36h0m-41-27h0m20 26h0m0-13h0m-70 55h0m102-53h0m-44-29h0m-65 10h0m-49 93h0m72-134h0m-44 123h0m60-21h0m-47 31h0m36-65h0m15-9h0m-92 54h0m105-22h0m-32 47h0m37-90h0m-35 38h0m53-97h0m-67 114h0m53-12h0m-95 58h0m49-141h0m36 51h0m-47 73h0m-94-7h0m154-92h0m30-19h0"/>
<path stroke="#a3dc84" d="m2618 3779h0m45 46h0m-25-57h0m88-98h0m-109 92h0m84-65h0m-5 12h0m55 122h0m-44-73h0m15-88h0m-49 150h0m34-106h0m-16 8h0m-95 35h0m41-17h0m125 7h0m-18-26h0m-12-28h0m38 37h0m-57-67h0m67 138h0m-209-121h0m71 104h0m-60-138h0m85 107h0m-65-133h0m70 27h0m42 187h0m-85-209h0m14-10h0m117 152h0m-83-80h0m-83 62h0m42-131h0m51 175h0m97-37h0m-27-28h0m-137 7h0m125 109h0m-32-4h0m-1-161h0m14 4h0m-66-11h0m20 88h0m41-32h0m-104-28h0m48 112h0m34-114h0m53 61h0m-174-99h0m178 178h0m23-104h0m-160-76h0m41-22h0m124 136h0m-54 30h0m-103-188h0m123 203h0m-144-44h0m14-130h0m8 139h0m-22 20h0m-34-122h0m43 91h0m-55-52h0m150 22h0m53 17h0m-165-119h0m83 155h0m-26-86h0m-35 69h0m96-119h0m26 156h0m-112-36h0m84-79h0m-142 40h0m-15-96h0m109 9h0m47 37h0m76 52h0m-25-14h0m-39-62h0m-43 37h0m76 32h0m-86 64h0m-4-167h0m41 88h0m-65 81h0m-70-79h0m64-92h0m135 107h0m-93 59h0m-35 14h0m-49-114h0m200 60h0m-165-66h0m111-22h0m-149 51h0m129 62h0m-55-46h0m89 64h0m-136-89h0m19-85h0m61 63h0m-73 44h0m134-9h0m14 22h0m-176-98h0m171 62h0m18 97h0m-194-35h0m178 11h0m-113-151h0m3 170h0m-37-45h0m-30-63h0m101 70h0m-119-90h0m34 109h0m14-163h0m-3 192h0m105-52h0m26 20h0m-110-114h0m89 150h0m-61-173h0m97 166h0m-119-160h0m-51 27h0m119-14h0m16 73h0m26 16h0m-58-45h0m-38 101h0m80-1h0m-45-41h0m94 13h0m-111 9h0m51-112h0m29 67h0m-152-115h0m41 51h0m-75 0h0m76 59h0m103-6h0m-51 8h0m-1 1h0m11-20h0m-46-68h0m74 28h0m-113-21h0m-47-11h0m60 98h0m19-19h0m133 28h0m-449-317h0m298 268h0m-209-88h0m54-52h0m-23-79h0m80 110h0m-99-109h0m177 294h0m-289-354h0m168 135h0m237 251h0m-283-193h0m148 122h0m-128-158h0m48 106h0m-68-119h0m218 229h0m-308-397h0m4 6h0m73 65h0m136 264h0m-121-148h0m-110-129h0m151 193h0m-78-69h0m-38-153h0m55 39h0m219 273h0m-313-271h0m393 297h0m36-31h0m-376-317h0m35 196h0m207 75h0m16 18h0m-237-316h0m247 258h0m-225-244h0m54 204h0m76 2h0m-130-130h0m199 262h0m57-34h0m-326-218h0m61 5h0m99 39h0m12 115h0m-29-9h0m-20-52h0m-72-64h0m-34-60h0m63 150h0m279 173h0m-337-344h0m65 139h0m-5-31h0m-130-119h0m20 23h0m108 117h0m-32-49h0m157 82h0m-185-216h0m102 138h0m259 176h0m-281-88h0m60-26h0m-149-168h0m39 84h0m-9-84h0m43 81h0m-24 2h0m20 118h0m-7-209h0m10 65h0m196 258h0m-206-200h0m92 81h0m191 143h0m-278-175h0m20 21h0m75-22h0m7 60h0m93-10h0m-92-56h0m-91-39h0m-54-31h0m169 165h0m84 27h0m-7 41h0m-197-115h0m-54-110h0m186 165h0m-190-274h0m195 259h0m140 106h0m-113-26h0m-232-333h0m-8 84h0m311 246h0m72-40h0m-171 29h0m73 22h0m-228-243h0m-60-113h0m88 49h0m80 182h0m69-9h0m-20 105h0m-89-74h0m113 53h0m9-49h0m22 93h0m-92-99h0m-90-197h0m-10-6h0m-58 43h0m-32-16h0m207 282h0m-6-137h0m29 107h0m-218-363h0m-2 36h0m7 14h0m7-1h0m-31 6h0m381 325h0m-368-346h0m87 229h0m265 191h0m-180-160h0m-102-165h0m210 235h0m-86-112h0m89 98h0m-205-132h0m151 178h0m42-30h0m-70-114h0m-201-190h0m10 1h0m103 100h0m222 248h0m-236-143h0m-85-247h0m81 67h0m284 279h0m-164 16h0m-161-212h0m91 72h0m21 40h0m-141-170h0m252 154h0m-68 112h0m-57-72h0m-41-88h0m-39-79h0m311 253h0m29 0h0m-355-163h0m192 49h0m-62-51h0m-15 9h0m102 114h0m-161-142h0m96 27h0m77 155h0m-273-240h0m114 121h0m49-48h0m14 114h0m-200-297h0m29 145h0m293 127h0m-96 53h0m-62-140h0m-113-160h0m145 240h0m113 57h0m-249-283h0m-4-10h0m255 222h0m-251-273h0m-100 73h0m155 193h0m-103-143h0m311 234h0m-256-204h0m259 229h0m-249-163h0m244 61h0m-230-235h0m-91-10h0m140 250h0m-67-224h0m85 213h0m-22-109h0m179 154h0m-68 61h0m-121-123h0m-83-217h0m-45 97h0m208 174h0m-204-298h0m202 270h0m-135-194h0m18 0h0m-22 111h0m103 72h0m8 13h0m-197-223h0m253 268h0m6-25h0m-214-278h0m47-15h0m46 81h0m-45 47h0m88 137h0m-81-285h0m51 235h0m40-4h0m-42-56h0m-23 21h0m203 153h0m-228-199h0m161 247h0m-65-135h0m-111-173h0m-61-74h0m155 132h0m-64 50h0m3 56h0m13-60h0m-163-146h0m161 60h0m186 273h0m-340-299h0m158 6h0m-57 67h0m48-88h0m128 161h0m-36 8h0m-26-15h0m32 64h0m-198-209h0m69 19h0m6-39h0m179 317h0m-179-269h0m-59-68h0m102 188h0m45-60h0m69 154h0m-203-282h0m207 213h0m-108-90h0m-129-17h0m16-98h0m77 162h0m-38-75h0m251 276h0m-61-29h0m-195-232h0m39 56h0m-74-65h0m147 135h0m95 99h0m-24 4h0m40-80h0m-120-92h0m118 160h0m-246-345h0m-34 83h0m286 293h0m-155-132h0m-11 1h0m55-32h0m114 124h0m-140-225h0m-61 37h0m68 22h0m-44-24h0m-92-149h0m20 52h0m340 304h0m-275-125h0m1-203h0m8 68h0m-29-65h0m75 266h0m-195-281h0m401 377h0m-43-43h0m-231-299h0m-73-11h0m45 96h0m186 226h0m-101-157h0m276 169h0m-120-17h0m-307-285h0m112-3h0m22 133h0m110 106h0m-198-304h0m-32 97h0m120 53h0m-143-121h0m156 132h0m66 156h0m95 14h0m-202-146h0m-94-76h0m-9-19h0m228 231h0m-161-231h0m94 133h0m-77-29h0m33 12h0m182 102h0m-94 36h0m-116-153h0m84 16h0m63 79h0m-144-239h0m343 325h0m-206-67h0m15 94h0m169-19h0m-192-87h0m-129-183h0m187 253h0m-44-12h0m-144-276h0m-48 39h0m111 25h0m16 112h0m23-37h0m-118-81h0m182 218h0m-292-289h0m39 0h0m123 128h0m268 151h0m-284-138h0m227 222h0m-266-301h0m288 258h0m-327-359h0m51 34h0m129 161h0m-96 34h0m62-84h0m-68 61h0m253 159h0m-360-300h0m256 274h0m30 21h0m-154-195h0m180 177h0m-116-146h0m-12 57h0m-76-41h0m229 56h0m-274-147h0m199 95h0m-95 47h0m-79-277h0m-72 87h0m-6-9h0m313 253h0m65 2h0m-250-169h0m172 188h0m-285-324h0m-8-31h0m-30 91h0m95-46h0m26 162h0m-113-187h0m370 372h0m-331-228h0m19-36h0m173 154h0m-230-300h0m204 306h0m-197-200h0m268 209h0m-170-85h0m87 9h0m-113-143h0m288 317h0m-66-135h0m-198-113h0m175 122h0m-130-56h0m-64-152h0m43 113h0m-76-57h0m1-129h0m135 313h0m-159-199h0m355 197h0m-222-32h0m8-77h0m26 0h0m32 165h0m-150-163h0m156 144h0m-133-172h0m92 24h0m116 133h0m-285-203h0m115 72h0m-149-149h0m232 243h0m74 73h0m14-13h0m-285-226h0m-29-56h0m288 309h0m-142-172h0m175 86h0m-340-243h0m338 282h0m-57 1h0m-159-266h0m-98 14h0m-23-40h0m145 56h0m117 251h0m-99-159h0m-141-67h0m322 141h0m-284-139h0m116 66h0m37 90h0m-49-88h0m-135-140h0m251 300h0m-215-225h0m15-17h0m366 267h0m-266-200h0m45 55h0m-2 61h0m53 60h0"/>
<path stroke="#1476ba" d="m3026 3378h0m-41 44h0m9-32h0m-49 18h0m105 16h0m-90 9h0m-8-30h0m8 22h0m85 11h0m-95-75h0m29 19h0m-37-24h0m29 10h0m31 62h0m-46 7h0m-29-28h0m97 107h0m-4-71h0m-120-45h0m49 2h0m-31 40h0m64-19h0m37-4h0m-25-7h0m41-36h0m-10 115h0m-24-46h0m-71-8h0m-49-17h0m52-50h0m-1 79h0m6-36h0m107 109h0m-99-163h0m-28 66h0m10-22h0m94 106h0m32-142h0m-31 178h0m-75-150h0m32-10h0m38 9h0m-116 4h0m66 24h0m26 21h0m57 68h0m-43-82h0m-10 7h0m-40 19h0m94 29h0m-31-48h0m-34-45h0m-19-4h0m32 94h0m34-24h0m-11-81h0m-13 7h0m-66 40h0m96 113h0m-89-85h0m-27-27h0m110 108h0m17-47h0m-44-49h0m-66-53h0m40 15h0m56-17h0m-63 37h0m-50-6h0m93-51h0m-64 5h0m49 55h0m45 79h0m-153-81h0m44 8h0m112-21h0m-73-17h0m28 107h0m-37-124h0m65 16h0m-73-41h0m89 145h0m-147-111h0m144 101h0m-29-1h0m-15-66h0m-93-17h0m125 143h0m-62-108h0m-71 14h0m79-10h0m23 12h0m-111-37h0m146 110h0m-54-171h0m-6 82h0m51-53h0m-135 57h0m-8-26h0m154-39h0m-87 56h0m9 0h0m-19-45h0m-1 36h0m54 16h0m-68-12h0m54-3h0m-1-22h0m37 20h0m-1-36h0m-127 29h0m95 14h0m-10-54h0m-23 51h0m78 19h0m1 99h0m-85-122h0m114 74h0m-73-108h0m-47-22h0m7 69h0m2-66h0m-16 59h0m113 53h0m-29 26h0m-68-131h0m-51 30h0m32 21h0m38-16h0m65 58h0m-70-7h0m-6-109h0m92 82h0m-139-40h0m37 84h0m51-74h0m-55 42h0m4-21h0m56 27h0m-3-5h0m-6-30h0m21 13h0m-122-12h0m4 10h0m68-26h0m-65-20h0m68 60h0m54-27h0m-79 23h0m98 110h0m-44-122h0m56 43h0m-128-99h0m63 16h0m75 127h0m-122-156h0m-47 45h0m155 131h0m-87-125h0m51 48h0m-24-73h0m-46 12h0m-55 31h0m178 120h0m-96-168h0m49 110h0m-67-97h0m67 9h0m7 3h0m-32 25h0m29 22h0m-117-29h0m153 100h0m-103-112h0m26-3h0m-67-8h0m111-23h0m37 126h0m-78-65h0m-42 0h0m-58-29h0m26 43h0m13-65h0m89 15h0m18 84h0m-131-81h0m111 85h0m-85-138h0m17-1h0m-55 77h0m125 5h0m0 66h0m-23-75h0m34-14h0m-96-55h0m49 27h0m51 29h0m0 6h0m-26 80h0m-47-137h0m37 20h0m-47 29h0m230 45h0m16 132h0m-22-34h0m-22-71h0m-13 48h0m-19 9h0m107-19h0m-54 86h0m25-98h0m5 45h0m-1-93h0m19 65h0m-86-49h0m-10 10h0m32 24h0m-29 8h0m34-25h0m35 1h0m22 65h0m-27-41h0m3 47h0m-32 19h0m2-122h0m-13 72h0m6-17h0m25 68h0m27-20h0m-38 8h0m-32-103h0m24 45h0m62 1h0m-52-43h0m55 67h0m-101 21h0m25-22h0m4-52h0m-32 9h0m47-13h0m-50 3h0m15 41h0m67-44h0m-58 51h0m16 51h0m-19-118h0m16 65h0m18 18h0m17-45h0m15 69h0m-31 6h0m-3 29h0m42-63h0m-73 21h0m37-69h0m-56-9h0m53 108h0m11-112h0m-9 3h0m9-12h0m-28 103h0m44 17h0m-44-120h0m-37 95h0m76-91h0m-18 78h0m-38-5h0m62-77h0m-42 128h0m29-96h0m-17 83h0m35-24h0m-4-92h0m-78 35h0m72-19h0m-74 69h0m3-46h0m6 25h0m63 16h0m10-86h0m-77 96h0m14-83h0m-22 38h0m28-19h0m1 67h0m50-115h0m-87 64h0m71-35h0m-36 104h0m69-72h0m-55 27h0m42 11h0m-22 61h0m9-27h0m-64-60h0m18 70h0m-31-88h0m68-9h0m-6 104h0m2-145h0m-3 3h0m29 88h0m-8 34h0m3-81h0m-69 42h0m53 27h0m-7 1h0m-2-120h0m30 15h0m-17 18h0m-68-1h0m56-26h0m-49 29h0m34 101h0m-29-109h0m22 37h0m67 31h0m-81-27h0m38-52h0m34 115h0m-72-58h0m74 34h0m-51-94h0m-34 0h0m53 105h0m-11-111h0m-5 63h0m20 91h0m31-140h0m-63 122h0m34-94h0m-71 9h0m69-9h0m-47-5h0m44 71h0m24-102h0m-16 84h0m15 2h0m-31 9h0m-32-77h0m42-4h0m-14 86h0m-15-115h0m221-135h0m-65 2h0m38 93h0m-55-117h0m50 99h0m7-55h0m17-26h0m32 10h0m-36 85h0m28-57h0m-11-15h0m-117 59h0m93-10h0m-23-113h0m36 2h0m13-13h0m-22 10h0m-129 33h0m169 19h0m-112-55h0m100 81h0m-111-73h0m-1 67h0m54 12h0m56-37h0m-45 57h0m5-6h0m-79-48h0m107 43h0m-125-17h0m62-44h0m17-17h0m-24 80h0m153-61h0m-31 15h0m-145 20h0m-8 15h0m102-37h0m-100-2h0m31-48h0m88 76h0m-86 37h0m33 23h0m-26-27h0m20-103h0m-4 112h0m13-121h0m-29 86h0m97-74h0m-52 28h0m100-13h0m-134 21h0m129-42h0m-59 85h0m-162-15h0m108 53h0m45-102h0m-100 37h0m53 67h0m42-11h0m-58 2h0m110-69h0m-99 81h0m-16-94h0m171 3h0m-119 83h0m-10-21h0m-62 17h0m-59-61h0m183-15h0m-89-27h0m15 47h0m40-4h0m-74-33h0m-40-2h0m97 78h0m1-33h0m-125-18h0m84 20h0m-58-52h0m6 58h0m18 12h0m-40-61h0m114 55h0m-79 18h0m36 13h0m-57-64h0m28-33h0m42 93h0m85-76h0m-71-9h0m-30-8h0m30 28h0m37-21h0m53 33h0m-190 12h0m185-20h0m-115 35h0m77-44h0m-66-1h0m-10-30h0m-62 32h0m-4 18h0m121 29h0m-16 8h0m-137-32h0m16-20h0m98 60h0m-89-51h0m12 38h0m82 6h0m42-19h0m-90-27h0m77 39h0m12 9h0m-64-81h0m-34-3h0m33 101h0m8-106h0m45 27h0m-45-30h0m-66 20h0m-17 48h0m125 7h0m-145-40h0m127 49h0m104-62h0m-159 100h0m-31-69h0m95 66h0m-44-58h0m59 12h0m-72 10h0m4-27h0m-29 13h0m65 32h0m11 1h0m17-21h0m-38-78h0m-70 64h0m99-19h0m103-51h0m-132 98h0m-40-35h0m101 1h0m-26 33h0m3-44h0m109-57h0m-92 65h0m108-62h0m-182 40h0m-47 40h0m71-2h0m48-4h0m-102-64h0m-9 60h0m215-68h0m-265 28h0m246-23h0m-180 6h0m46-17h0m107 2h0m47-6h0m-166 121h0m58-100h0m114-19h0m-257 21h0m85 30h0m-5-26h0m132 4h0m-30-7h0m-56 111h0m107-128h0m-202 4h0m113 28h0m-57-25h0m-9 94h0m-42-37h0m37 64h0m33 9h0m-60-95h0m52 64h0m-84-63h0m25-35h0m104 53h0m-86-58h0m21 64h0m-37 24h0m106-5h0m-65 48h0m161-136h0m-195 2h0m179 20h0m-239 11h0m21 6h0m51 32h0m-60 3h0m37-6h0m53-53h0m-46-10h0m204-6h0m-135 58h0m-70-35h0m6 57h0m15 1h0m152-75h0m-103 123h0m-23-113h0m-83 15h0m111 38h0m-83-10h0m101 36h0m1 28h0m-42-20h0m42-9h0m-91-15h0m55 40h0m-15-57h0m42 43h0m-111-17h0m52-15h0m100-23h0m-129-23h0m78 10h0m16 45h0m-49-83h0m-65 56h0m4 40h0m49-14h0m15-77h0m-13 7h0m-71 49h0m69-58h0m-32 140h0m-23-83h0m-8-35h0m28 53h0m105-65h0m-51 30h0m-52-37h0m77 29h0m-5 64h0m20-28h0m-53 18h0m-57 7h0m161-38h0m-55-22h0m-23-27h0m-97 42h0m82 55h0m59-17h0m-61 29h0m-14 4h0m58-25h0m-76-85h0m25 57h0m-94-18h0m86-19h0m62 65h0m-51-36h0m-46 52h0m346-14h0m-25-1h0m-69 101h0m26-41h0m48-46h0m16 53h0m-97-54h0m15 11h0m73 0h0m-69 23h0m84 4h0m-77 16h0m82-43h0m-46 64h0m27-25h0m-4-32h0m-65-23h0m8 5h0m74 60h0m-84-55h0m91-12h0m-50 55h0m6 31h0m-33-14h0m-25-42h0m8-9h0m63 45h0m-97-26h0m54-13h0m71 1h0m-29 11h0m2-55h0m-19 33h0m44 24h0m-23-20h0m-79-13h0m14 25h0m-11-28h0m-25 64h0m72 20h0m8-13h0m3-50h0m-12 65h0m25-83h0m-5-31h0m15 66h0m-91-38h0m76 80h0m27-51h0m-103-34h0m78 21h0m-54 24h0m86-21h0m-80 26h0m85-14h0m-56-15h0m-41 18h0m12 60h0m5-80h0m4 15h0m4-47h0m68 69h0m-33 1h0m-31-17h0m49-39h0m-63 87h0m-26 3h0m37-77h0m65 11h0m-9-22h0m-108 34h0m93-4h0m-64-29h0m51-2h0m21 35h0m11-11h0m-47 1h0m-45 7h0m18-14h0m20-15h0m-47 12h0m88-27h0m-104 46h0m84 9h0m-39-25h0m-33 31h0m35 4h0m-33-19h0m52-23h0m-52-21h0m11 64h0m43-48h0m-68 73h0m64-90h0m-4 3h0m51 24h0m-71 18h0m76-51h0m18 47h0m-89 44h0m60-21h0m-41-18h0m25 39h0m-62-60h0m45 23h0m-40-46h0m63 18h0m-37 1h0m-3 67h0m38-44h0m-14-37h0m30-3h0m-28 78h0m15-47h0m-2-30h0m-74 67h0m8-39h0m-10-29h0m3 32h0m89-25h0m-84 46h0m6-33h0m90 30h0m-31 5h0m-75-21h0"/>
<path stroke="#149d1f" d="m3164 3834h0m-101-19h0m73 105h0m-20-55h0m114-2h0m-48 65h0m17-106h0m-8-5h0m20 101h0m-6-68h0m-31-90h0m-78 94h0m109-18h0m37 31h0m-124-56h0m32 5h0m-58 69h0m61-1h0m-68-47h0m21-54h0m65-19h0m33 60h0m27 48h0m-133 0h0m-9 14h0m109-46h0m-94 80h0m126-76h0m-41 41h0m-87-13h0m-12-20h0m17 43h0m21-26h0m41-106h0m-17 124h0m64-65h0m-107 3h0m36 12h0m-50 70h0m25-100h0m90 11h0m-69-14h0m46-23h0m7-13h0m-67 28h0m26-17h0m30 145h0m41-79h0m-124 17h0m3 29h0m-14-47h0m46 16h0m41-41h0m46-9h0m-104 78h0m65-122h0m1 119h0m36-61h0m-20 17h0m-15 36h0m28 32h0m-134-43h0m80 68h0m-11-60h0m84-14h0m-127-41h0m54-5h0m-80 58h0m33 40h0m28-92h0m-79 49h0m92-9h0m-35-22h0m-40 23h0m77 8h0m70-39h0m-13-2h0m-88 61h0m91-73h0m-35-31h0m-121 35h0m15-3h0m170 9h0m-81 14h0m-1-30h0m-88 72h0m135-60h0m-62 66h0m-16-13h0m44-85h0m-36 8h0m-5 29h0m10 101h0m-20-69h0m21 70h0m48-168h0m-96 35h0m62 45h0m42-5h0m15 81h0m18-51h0m-90 15h0m-11-106h0m22 26h0m-54-9h0m7 19h0m-22 76h0m132 38h0m-2-98h0m-23-27h0m-26-15h0m-76-4h0m27 46h0m-18 12h0m24 42h0m-21-104h0m121 96h0m-79 19h0m-54 15h0m73-95h0m-70 57h0m133 1h0m-145-26h0m159 21h0m-9-21h0m-136 9h0m10 25h0m35 7h0m-66-32h0m107 32h0m-92 6h0m60 15h0m-57-62h0m4 44h0m79-47h0m66-14h0m-141 56h0m-23-10h0m86-88h0m-53 27h0m94 25h0m-3 20h0m-12 29h0m-17-125h0m-97 118h0m22 12h0m-32-5h0m99-106h0m55 137h0m-147-37h0m97-82h0m-9 10h0m9 111h0m32-69h0m31 28h0m-141-2h0m49 10h0m40-105h0m-40 95h0m-58-1h0m141 25h0m-82-101h0m-7 27h0m-79 45h0m47-8h0m12-52h0m-42 13h0m95 120h0m-25-136h0m-39 23h0m-24 33h0m90-81h0m54 59h0m-86 43h0m-23-43h0m114-38h0m-105 129h0m107-69h0m-93 20h0m38-68h0m-65 53h0m-3 54h0m66 17h0m28-49h0m-54-82h0m-57 56h0m-5 7h0m-24 9h0m59 13h0m28-91h0m-16 25h0m46 111h0m35-21h0m-33-154h0m-106 104h0m79 20h0m-19-12h0m11 32h0m91-58h0m-147 11h0m82 382h0m11-30h0m-9-64h0m116 79h0m37 30h0m8 91h0m-90-144h0m75 66h0m-52-98h0m35 21h0m-4-31h0m-123 39h0m49 122h0m-25-92h0m-21-15h0m39-112h0m29-23h0m1 40h0m-32 83h0m37 18h0m44-43h0m-6 163h0m50-139h0m-175-20h0m191 52h0m-43 15h0m-75 57h0m80 15h0m-78-90h0m30-96h0m-94 123h0m105-137h0m1 60h0m-72 13h0m34-119h0m-74 171h0m74-84h0m20 46h0m-80 49h0m156-124h0m-13 12h0m9 78h0m-8 142h0m-145-178h0m130 190h0m4-156h0m-80-10h0m22 2h0m27 141h0m29-112h0m-23-92h0m-85 105h0m-33-50h0m-14-15h0m98 124h0m86-171h0m-34 89h0m38-43h0m-32 9h0m-59-41h0m-99 37h0m20-57h0m20 54h0m95 14h0m-9-123h0m-2 135h0m25 51h0m-120-99h0m128 35h0m14 117h0m-64-192h0m28 123h0m31 52h0m-135-59h0m92-51h0m-21-73h0m30 29h0m31-15h0m-65-11h0m-50 163h0m2-214h0m41 36h0m47 83h0m-15-27h0m30 33h0m-146-75h0m152 239h0m15-51h0m-100 18h0m29-21h0m2-228h0m-9 150h0m-37 33h0m92-69h0m-44-25h0m-21 5h0m24-34h0m-48 101h0m46-89h0m-28 160h0m-32-205h0m-76 84h0m194 41h0m-51-45h0m77 41h0m-197-48h0m105-35h0m7 6h0m33-41h0m-8-27h0m42 151h0m-64-30h0m-130-14h0m174-6h0m-102 44h0m36-153h0m5 156h0m-14-25h0m89 152h0m-18-186h0m-50 107h0m38-51h0m-70-150h0m68 239h0m23-102h0m-42-40h0m-105-9h0m-5 58h0m162 82h0m-76-234h0m36 155h0m-22-86h0m49 56h0m-43 38h0m-93-108h0m125 98h0m-122-19h0m133-3h0m7 44h0m-42 83h0m34-121h0m4-64h0m-11 33h0m18-16h0m-45 22h0m30 54h0m-72-143h0m19 149h0m-8-183h0m27 168h0m36 129h0m-53-229h0m44 37h0m-25 95h0m-63-41h0m-58-45h0m-18-9h0m194-26h0m-98 155h0m-45-55h0m59-56h0m10 45h0m42-45h0m42 133h0m-106-272h0m-18 100h0m26 37h0m-25 38h0m-18 83h0m85-69h0m22-16h0m-86 39h0m77-72h0m36-63h0m-109 178h0m53 38h0m-33-192h0m94-26h0m-94-23h0m123 116h0m-185-46h0m-9 22h0m-31 16h0m174-29h0m9 28h0m-40 64h0m-4-105h0m27 94h0m-43-194h0m-15 248h0m66-154h0m21 75h0m-15-31h0m-38 24h0m-4-37h0m-76 64h0m53-158h0m-70 84h0m176 53h0m-184-7h0m85 71h0m-68-101h0m105-9h0m-56 84h0m69-145h0m20 211h0m28-91h0m-152 49h0m-1-77h0m131-44h0m-57 0h0m-39 4h0m105 110h0m-76-115h0m32 18h0m-35 72h0m52-111h0m-26 218h0m-31-195h0m-129 57h0m141 27h0m60 11h0m-28 66h0m-47-152h0m-4-105h0m9 233h0m30 47h0m-82-150h0m29 59h0m83-122h0m-45-69h0m21 190h0m-20 64h0m33-116h0m-56-137h0m24 105h0m-3-1h0m-9 157h0m50-26h0m-146-140h0m9-32h0m104 112h0m-9 95h0m-83-183h0m9 135h0m96-130h0m61 69h0m-108-123h0m99 150h0m-184-35h0m18 42h0m141 12h0m-16 4h0m-140-56h0m165 18h0m-79-64h0m54 18h0m-28-31h0m-88 42h0m74-121h0m-84 136h0m127 108h0m-118-171h0m76 148h0m-46-209h0m6 183h0m53-206h0m-75 96h0m153 52h0m-60-35h0m12-9h0m-28-77h0m-51 187h0m42-110h0m-12-77h0m-52 92h0m64-3h0m-53-54h0m-34 97h0m129-55h0m-129 49h0m78-122h0m29 71h0m8-3h0m-58-77h0m-44 152h0m62-137h0m-74 133h0m-34-65h0m44 11h0m101-15h0m-1 165h0m10-131h0m-104 18h0m21 102h0m-84-123h0m177-80h0m-91 82h0m18-4h0m47 130h0m-83-95h0m46-147h0m-61 28h0m170 50h0m-107-42h0m-65 98h0m131-84h0m-67 53h0m-45 101h0m45-194h0m-40 217h0m87-165h0m-78 31h0m73 80h0m-2-156h0m-128 59h0m160 63h0m-144 11h0m40-30h0m45-12h0m-89 46h0m-4-53h0m134-77h0m-81 60h0m71 39h0m-81-130h0m59 76h0m-83 58h0m78-51h0m-144 22h0m2-8h0m219 34h0m-153-14h0m70 2h0m-20 33h0m52 98h0m-6-172h0m-47 24h0m71 180h0m-39-51h0m18-89h0m-79 54h0m-11 5h0m-44-45h0m179-65h0m2 34h0m-114-89h0m12-73h0m8 226h0m60 64h0m-17-183h0m-56 55h0m-81-72h0m-1 40h0m155-61h0m-152 104h0m142-55h0m-75 98h0m3-167h0m-24 88h0m106-29h0m9 210h0m-83-131h0m-12 29h0m21-87h0m-88 61h0m175-85h0m-82-75h0m21 38h0m14-23h0m-160 69h0m193 14h0m-20 117h0m-33-60h0m14-158h0m-30 31h0m6 84h0m45 42h0m-69-185h0m-74 200h0m131-29h0m-12-72h0m-13 113h0m-26-173h0m-16-23h0m-69 148h0m125-48h0m-34-38h0m51 61h0m10-8h0m-5 139h0m60-139h0m-147 125h0m110 58h0m-52-201h0m-51 40h0m125-26h0m-194-5h0m107 162h0m85-82h0m-82 60h0m-100-106h0m48 76h0m69-201h0m22 244h0m-23-243h0m-33-26h0m72 71h0"/>
<path stroke="#149d1f" d="m3824 3206h0m-70 15h0m-31-5h0m96 26h0m-24-56h0"/>
</g>
</g>
<g class="lb">
<text x="6.6" y="20.8">(a)</text>
<text x="231.6" y="20.8">(b)</text>
<text x="6.6" y="240.8">(c)</text>
<text x="231.6" y="240.8">(d)</text>
</g>
<g class="lg">
<rect x="462.3" y="188.6" width="26" height="17" fill="#fdbf6f"/>
<text x="503.5" y="201.8">E-shape</text>
<rect x="462.3" y="214.1" width="26" height="17" fill="#d1b3da"/>
<text x="503.5" y="227.3">F-shape</text>
<rect x="462.3" y="239.6" width="26" height="17" fill="#6f35a0"/>
<text x="503.5" y="252.8">H-shape</text>
<rect x="462.3" y="265.1" width="26" height="17" fill="#fb9a99"/>
<text x="503.5" y="278.3">I-shape</text>
<rect x="462.3" y="290.6" width="26" height="17" fill="#9fd0e8"/>
<text x="503.5" y="303.8">L-shape</text>
<rect x="462.3" y="316.1" width="26" height="17" fill="#a3dc84"/>
<text x="503.5" y="329.3">O-shape</text>
<rect x="462.3" y="341.6" width="26" height="17" fill="#fa1719"/>
<text x="503.5" y="354.8">T-shape</text>
<rect x="462.3" y="367.1" width="26" height="17" fill="#ff7f0e"/>
<text x="503.5" y="380.3">U-shape</text>
<rect x="462.3" y="392.6" width="26" height="17" fill="#149d1f"/>
<text x="503.5" y="405.8">Y-shape</text>
<rect x="462.3" y="418.1" width="26" height="17" fill="#1476ba"/>
<text x="503.5" y="431.3">Z-shape</text>
</g>
</svg>
</body></html>
